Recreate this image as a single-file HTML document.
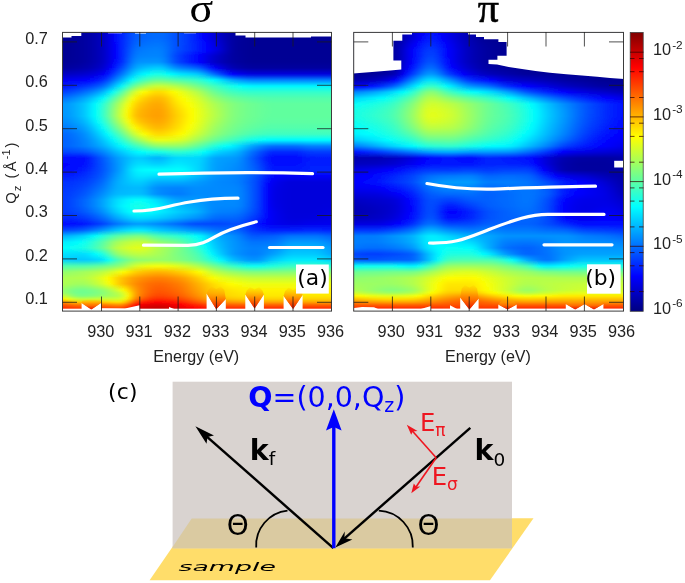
<!DOCTYPE html>
<html><head><meta charset="utf-8"><title>figure</title>
<style>
html,body{margin:0;padding:0;background:#fff;}
svg{display:block;}
.ax{font-family:"Liberation Sans",sans-serif;fill:#222;}
.dv{font-family:"DejaVu Sans",sans-serif;}
.sym{font-family:"Liberation Serif",serif;fill:#000;}
</style></head><body>
<svg width="685" height="583" viewBox="0 0 685 583">
<defs>
<linearGradient id="a0" x1="0" y1="0" x2="0" y2="1"><stop offset="0" stop-color="#000094"/><stop offset=".022" stop-color="#000094"/><stop offset=".043" stop-color="#000094"/><stop offset=".065" stop-color="#000094"/><stop offset=".086" stop-color="#000094"/><stop offset=".108" stop-color="#000095"/><stop offset=".129" stop-color="#0000a0"/><stop offset=".151" stop-color="#0000c3"/><stop offset=".172" stop-color="#0000f0"/><stop offset=".194" stop-color="#0015ff"/><stop offset=".215" stop-color="#003fff"/><stop offset=".237" stop-color="#0073ff"/><stop offset=".258" stop-color="#0095ff"/><stop offset=".28" stop-color="#0096ff"/><stop offset=".301" stop-color="#0095ff"/><stop offset=".323" stop-color="#008aff"/><stop offset=".344" stop-color="#007aff"/><stop offset=".366" stop-color="#0067ff"/><stop offset=".387" stop-color="#0062ff"/><stop offset=".409" stop-color="#0062ff"/><stop offset=".43" stop-color="#0045ff"/><stop offset=".452" stop-color="#000bff"/><stop offset=".473" stop-color="#0005ff"/><stop offset=".495" stop-color="#0007ff"/><stop offset=".516" stop-color="#001bff"/><stop offset=".538" stop-color="#002fff"/><stop offset=".559" stop-color="#0036ff"/><stop offset=".581" stop-color="#003aff"/><stop offset=".602" stop-color="#003bff"/><stop offset=".624" stop-color="#003bff"/><stop offset=".645" stop-color="#003aff"/><stop offset=".667" stop-color="#0028ff"/><stop offset=".688" stop-color="#0009ff"/><stop offset=".71" stop-color="#0046ff"/><stop offset=".731" stop-color="#00b2ff"/><stop offset=".753" stop-color="#00edff"/><stop offset=".774" stop-color="#03fffc"/><stop offset=".796" stop-color="#00e1ff"/><stop offset=".817" stop-color="#00d2ff"/><stop offset=".839" stop-color="#53ffac"/><stop offset=".86" stop-color="#92ff6d"/><stop offset=".882" stop-color="#adff52"/><stop offset=".903" stop-color="#afff50"/><stop offset=".925" stop-color="#94ff6b"/><stop offset=".935" stop-color="#9cff63"/><stop offset=".946" stop-color="#c6ff39"/><stop offset=".957" stop-color="#fff000"/><stop offset=".968" stop-color="#ff9800"/><stop offset=".978" stop-color="#ff5900"/><stop offset=".989" stop-color="#ff2f00"/><stop offset="1" stop-color="#ff1600"/></linearGradient>
<linearGradient id="a1" x1="0" y1="0" x2="0" y2="1"><stop offset="0" stop-color="#000095"/><stop offset=".022" stop-color="#000095"/><stop offset=".043" stop-color="#000095"/><stop offset=".065" stop-color="#000095"/><stop offset=".086" stop-color="#000095"/><stop offset=".108" stop-color="#000097"/><stop offset=".129" stop-color="#0000a1"/><stop offset=".151" stop-color="#0000c4"/><stop offset=".172" stop-color="#0000f1"/><stop offset=".194" stop-color="#001aff"/><stop offset=".215" stop-color="#0046ff"/><stop offset=".237" stop-color="#0079ff"/><stop offset=".258" stop-color="#009bff"/><stop offset=".28" stop-color="#009cff"/><stop offset=".301" stop-color="#009aff"/><stop offset=".323" stop-color="#008eff"/><stop offset=".344" stop-color="#007eff"/><stop offset=".366" stop-color="#006cff"/><stop offset=".387" stop-color="#06f"/><stop offset=".409" stop-color="#06f"/><stop offset=".43" stop-color="#0047ff"/><stop offset=".452" stop-color="#000bff"/><stop offset=".473" stop-color="#0006ff"/><stop offset=".495" stop-color="#0009ff"/><stop offset=".516" stop-color="#001dff"/><stop offset=".538" stop-color="#0031ff"/><stop offset=".559" stop-color="#0038ff"/><stop offset=".581" stop-color="#003dff"/><stop offset=".602" stop-color="#0042ff"/><stop offset=".624" stop-color="#0042ff"/><stop offset=".645" stop-color="#003eff"/><stop offset=".667" stop-color="#0029ff"/><stop offset=".688" stop-color="#000aff"/><stop offset=".71" stop-color="#0049ff"/><stop offset=".731" stop-color="#00b6ff"/><stop offset=".753" stop-color="#00f0ff"/><stop offset=".774" stop-color="#05fffa"/><stop offset=".796" stop-color="#00dfff"/><stop offset=".817" stop-color="#00ceff"/><stop offset=".839" stop-color="#52ffad"/><stop offset=".86" stop-color="#94ff6b"/><stop offset=".882" stop-color="#aeff51"/><stop offset=".903" stop-color="#a9ff56"/><stop offset=".925" stop-color="#87ff78"/><stop offset=".935" stop-color="#8bff74"/><stop offset=".946" stop-color="#acff53"/><stop offset=".957" stop-color="#f3ff0c"/><stop offset=".968" stop-color="#ffab00"/><stop offset=".978" stop-color="#ff6400"/><stop offset=".989" stop-color="#ff3500"/><stop offset="1" stop-color="#ff1900"/></linearGradient>
<linearGradient id="a2" x1="0" y1="0" x2="0" y2="1"><stop offset="0" stop-color="#000097"/><stop offset=".022" stop-color="#000097"/><stop offset=".043" stop-color="#000097"/><stop offset=".065" stop-color="#000097"/><stop offset=".086" stop-color="#000097"/><stop offset=".108" stop-color="#009"/><stop offset=".129" stop-color="#0000a3"/><stop offset=".151" stop-color="#0000c6"/><stop offset=".172" stop-color="#0000f3"/><stop offset=".194" stop-color="#001fff"/><stop offset=".215" stop-color="#004eff"/><stop offset=".237" stop-color="#0082ff"/><stop offset=".258" stop-color="#00a3ff"/><stop offset=".28" stop-color="#00a4ff"/><stop offset=".301" stop-color="#00a2ff"/><stop offset=".323" stop-color="#0095ff"/><stop offset=".344" stop-color="#0084ff"/><stop offset=".366" stop-color="#0072ff"/><stop offset=".387" stop-color="#006cff"/><stop offset=".409" stop-color="#006aff"/><stop offset=".43" stop-color="#0049ff"/><stop offset=".452" stop-color="#000bff"/><stop offset=".473" stop-color="#0007ff"/><stop offset=".495" stop-color="#000dff"/><stop offset=".516" stop-color="#0020ff"/><stop offset=".538" stop-color="#03f"/><stop offset=".559" stop-color="#003bff"/><stop offset=".581" stop-color="#0042ff"/><stop offset=".602" stop-color="#0049ff"/><stop offset=".624" stop-color="#004aff"/><stop offset=".645" stop-color="#0043ff"/><stop offset=".667" stop-color="#002cff"/><stop offset=".688" stop-color="#000cff"/><stop offset=".71" stop-color="#004dff"/><stop offset=".731" stop-color="#00bcff"/><stop offset=".753" stop-color="#00f5ff"/><stop offset=".774" stop-color="#09fff6"/><stop offset=".796" stop-color="#00deff"/><stop offset=".817" stop-color="#00cbff"/><stop offset=".839" stop-color="#52ffad"/><stop offset=".86" stop-color="#97ff68"/><stop offset=".882" stop-color="#afff50"/><stop offset=".903" stop-color="#a5ff5a"/><stop offset=".925" stop-color="#7dff82"/><stop offset=".935" stop-color="#7eff81"/><stop offset=".946" stop-color="#96ff69"/><stop offset=".957" stop-color="#dbff24"/><stop offset=".968" stop-color="#fb0"/><stop offset=".978" stop-color="#ff6e00"/><stop offset=".989" stop-color="#ff3a00"/><stop offset="1" stop-color="#ff1c00"/></linearGradient>
<linearGradient id="a3" x1="0" y1="0" x2="0" y2="1"><stop offset="0" stop-color="#00009a"/><stop offset=".022" stop-color="#00009a"/><stop offset=".043" stop-color="#00009a"/><stop offset=".065" stop-color="#00009a"/><stop offset=".086" stop-color="#00009a"/><stop offset=".108" stop-color="#00009b"/><stop offset=".129" stop-color="#0000a6"/><stop offset=".151" stop-color="#0000c9"/><stop offset=".172" stop-color="#0000f5"/><stop offset=".194" stop-color="#0025ff"/><stop offset=".215" stop-color="#0057ff"/><stop offset=".237" stop-color="#008cff"/><stop offset=".258" stop-color="#00adff"/><stop offset=".28" stop-color="#00aeff"/><stop offset=".301" stop-color="#00acff"/><stop offset=".323" stop-color="#009eff"/><stop offset=".344" stop-color="#008cff"/><stop offset=".366" stop-color="#007aff"/><stop offset=".387" stop-color="#0072ff"/><stop offset=".409" stop-color="#0070ff"/><stop offset=".43" stop-color="#004cff"/><stop offset=".452" stop-color="#000bff"/><stop offset=".473" stop-color="#0009ff"/><stop offset=".495" stop-color="#0012ff"/><stop offset=".516" stop-color="#0024ff"/><stop offset=".538" stop-color="#0036ff"/><stop offset=".559" stop-color="#003fff"/><stop offset=".581" stop-color="#0048ff"/><stop offset=".602" stop-color="#0052ff"/><stop offset=".624" stop-color="#0052ff"/><stop offset=".645" stop-color="#0049ff"/><stop offset=".667" stop-color="#002fff"/><stop offset=".688" stop-color="#000fff"/><stop offset=".71" stop-color="#0051ff"/><stop offset=".731" stop-color="#00c3ff"/><stop offset=".753" stop-color="#00fbff"/><stop offset=".774" stop-color="#0efff1"/><stop offset=".796" stop-color="#0df"/><stop offset=".817" stop-color="#00c9ff"/><stop offset=".839" stop-color="#52ffad"/><stop offset=".86" stop-color="#9aff65"/><stop offset=".882" stop-color="#b1ff4e"/><stop offset=".903" stop-color="#a2ff5d"/><stop offset=".925" stop-color="#76ff89"/><stop offset=".935" stop-color="#74ff8b"/><stop offset=".946" stop-color="#87ff78"/><stop offset=".957" stop-color="#caff35"/><stop offset=".968" stop-color="#ffc700"/><stop offset=".978" stop-color="#ff7500"/><stop offset=".989" stop-color="#ff3e00"/><stop offset="1" stop-color="#ff1e00"/></linearGradient>
<linearGradient id="a4" x1="0" y1="0" x2="0" y2="1"><stop offset="0" stop-color="#00009d"/><stop offset=".022" stop-color="#00009d"/><stop offset=".043" stop-color="#00009d"/><stop offset=".065" stop-color="#00009d"/><stop offset=".086" stop-color="#00009d"/><stop offset=".108" stop-color="#00009e"/><stop offset=".129" stop-color="#0000a9"/><stop offset=".151" stop-color="#00c"/><stop offset=".172" stop-color="#0000f8"/><stop offset=".194" stop-color="#002bff"/><stop offset=".215" stop-color="#0060ff"/><stop offset=".237" stop-color="#0097ff"/><stop offset=".258" stop-color="#00b8ff"/><stop offset=".28" stop-color="#00b9ff"/><stop offset=".301" stop-color="#00b8ff"/><stop offset=".323" stop-color="#00a8ff"/><stop offset=".344" stop-color="#0095ff"/><stop offset=".366" stop-color="#0083ff"/><stop offset=".387" stop-color="#007aff"/><stop offset=".409" stop-color="#0076ff"/><stop offset=".43" stop-color="#004eff"/><stop offset=".452" stop-color="#000cff"/><stop offset=".473" stop-color="#000bff"/><stop offset=".495" stop-color="#0018ff"/><stop offset=".516" stop-color="#0029ff"/><stop offset=".538" stop-color="#0039ff"/><stop offset=".559" stop-color="#04f"/><stop offset=".581" stop-color="#004fff"/><stop offset=".602" stop-color="#005bff"/><stop offset=".624" stop-color="#005bff"/><stop offset=".645" stop-color="#0050ff"/><stop offset=".667" stop-color="#0034ff"/><stop offset=".688" stop-color="#0013ff"/><stop offset=".71" stop-color="#0057ff"/><stop offset=".731" stop-color="#00cbff"/><stop offset=".753" stop-color="#03fffc"/><stop offset=".774" stop-color="#13ffec"/><stop offset=".796" stop-color="#0df"/><stop offset=".817" stop-color="#00c8ff"/><stop offset=".839" stop-color="#52ffad"/><stop offset=".86" stop-color="#9eff61"/><stop offset=".882" stop-color="#b2ff4d"/><stop offset=".903" stop-color="#a1ff5e"/><stop offset=".925" stop-color="#73ff8c"/><stop offset=".935" stop-color="#70ff8f"/><stop offset=".946" stop-color="#7fff80"/><stop offset=".957" stop-color="#c1ff3e"/><stop offset=".968" stop-color="#ffcd00"/><stop offset=".978" stop-color="#ff7900"/><stop offset=".989" stop-color="#ff4000"/><stop offset="1" stop-color="#ff2000"/></linearGradient>
<linearGradient id="a5" x1="0" y1="0" x2="0" y2="1"><stop offset="0" stop-color="#0000a1"/><stop offset=".022" stop-color="#0000a1"/><stop offset=".043" stop-color="#0000a1"/><stop offset=".065" stop-color="#0000a1"/><stop offset=".086" stop-color="#0000a1"/><stop offset=".108" stop-color="#0000a2"/><stop offset=".129" stop-color="#0000ad"/><stop offset=".151" stop-color="#0000cf"/><stop offset=".172" stop-color="#0000fc"/><stop offset=".194" stop-color="#0032ff"/><stop offset=".215" stop-color="#006bff"/><stop offset=".237" stop-color="#00a3ff"/><stop offset=".258" stop-color="#00c4ff"/><stop offset=".28" stop-color="#00c6ff"/><stop offset=".301" stop-color="#00c5ff"/><stop offset=".323" stop-color="#00b4ff"/><stop offset=".344" stop-color="#00a0ff"/><stop offset=".366" stop-color="#008dff"/><stop offset=".387" stop-color="#0083ff"/><stop offset=".409" stop-color="#007cff"/><stop offset=".43" stop-color="#0053ff"/><stop offset=".452" stop-color="#000fff"/><stop offset=".473" stop-color="#000fff"/><stop offset=".495" stop-color="#001eff"/><stop offset=".516" stop-color="#002eff"/><stop offset=".538" stop-color="#003dff"/><stop offset=".559" stop-color="#004aff"/><stop offset=".581" stop-color="#0056ff"/><stop offset=".602" stop-color="#0065ff"/><stop offset=".624" stop-color="#0065ff"/><stop offset=".645" stop-color="#0057ff"/><stop offset=".667" stop-color="#0039ff"/><stop offset=".688" stop-color="#0017ff"/><stop offset=".71" stop-color="#005eff"/><stop offset=".731" stop-color="#00d5ff"/><stop offset=".753" stop-color="#0cfff3"/><stop offset=".774" stop-color="#1bffe4"/><stop offset=".796" stop-color="#00deff"/><stop offset=".817" stop-color="#00c8ff"/><stop offset=".839" stop-color="#52ffad"/><stop offset=".86" stop-color="#a2ff5d"/><stop offset=".882" stop-color="#b5ff4a"/><stop offset=".903" stop-color="#a2ff5d"/><stop offset=".925" stop-color="#73ff8c"/><stop offset=".935" stop-color="#70ff8f"/><stop offset=".946" stop-color="#7fff80"/><stop offset=".957" stop-color="#c0ff3f"/><stop offset=".968" stop-color="#ffce00"/><stop offset=".978" stop-color="#ff7900"/><stop offset=".989" stop-color="#ff4100"/><stop offset="1" stop-color="#ff2000"/></linearGradient>
<linearGradient id="a6" x1="0" y1="0" x2="0" y2="1"><stop offset="0" stop-color="#0000a5"/><stop offset=".022" stop-color="#0000a5"/><stop offset=".043" stop-color="#0000a5"/><stop offset=".065" stop-color="#0000a5"/><stop offset=".086" stop-color="#0000a5"/><stop offset=".108" stop-color="#0000a7"/><stop offset=".129" stop-color="#0000b1"/><stop offset=".151" stop-color="#0000d4"/><stop offset=".172" stop-color="#0002ff"/><stop offset=".194" stop-color="#003aff"/><stop offset=".215" stop-color="#07f"/><stop offset=".237" stop-color="#00b1ff"/><stop offset=".258" stop-color="#00d4ff"/><stop offset=".28" stop-color="#00d8ff"/><stop offset=".301" stop-color="#00d7ff"/><stop offset=".323" stop-color="#00c5ff"/><stop offset=".344" stop-color="#00afff"/><stop offset=".366" stop-color="#009bff"/><stop offset=".387" stop-color="#008eff"/><stop offset=".409" stop-color="#0085ff"/><stop offset=".43" stop-color="#005aff"/><stop offset=".452" stop-color="#0019ff"/><stop offset=".473" stop-color="#001aff"/><stop offset=".495" stop-color="#0027ff"/><stop offset=".516" stop-color="#0035ff"/><stop offset=".538" stop-color="#04f"/><stop offset=".559" stop-color="#0052ff"/><stop offset=".581" stop-color="#0060ff"/><stop offset=".602" stop-color="#0070ff"/><stop offset=".624" stop-color="#0071ff"/><stop offset=".645" stop-color="#0061ff"/><stop offset=".667" stop-color="#0041ff"/><stop offset=".688" stop-color="#001eff"/><stop offset=".71" stop-color="#0068ff"/><stop offset=".731" stop-color="#00e3ff"/><stop offset=".753" stop-color="#18ffe7"/><stop offset=".774" stop-color="#26ffd9"/><stop offset=".796" stop-color="#00e5ff"/><stop offset=".817" stop-color="#00cbff"/><stop offset=".839" stop-color="#5fa"/><stop offset=".86" stop-color="#a6ff59"/><stop offset=".882" stop-color="#bcff43"/><stop offset=".903" stop-color="#a9ff56"/><stop offset=".925" stop-color="#76ff89"/><stop offset=".935" stop-color="#72ff8d"/><stop offset=".946" stop-color="#82ff7d"/><stop offset=".957" stop-color="#c2ff3d"/><stop offset=".968" stop-color="#ffcd00"/><stop offset=".978" stop-color="#ff7900"/><stop offset=".989" stop-color="#ff4100"/><stop offset="1" stop-color="#ff2000"/></linearGradient>
<linearGradient id="a7" x1="0" y1="0" x2="0" y2="1"><stop offset="0" stop-color="#0000ab"/><stop offset=".022" stop-color="#0000ab"/><stop offset=".043" stop-color="#0000ab"/><stop offset=".065" stop-color="#0000ab"/><stop offset=".086" stop-color="#0000ab"/><stop offset=".108" stop-color="#0000ad"/><stop offset=".129" stop-color="#0000b7"/><stop offset=".151" stop-color="#0000da"/><stop offset=".172" stop-color="#000aff"/><stop offset=".194" stop-color="#04f"/><stop offset=".215" stop-color="#0084ff"/><stop offset=".237" stop-color="#00c2ff"/><stop offset=".258" stop-color="#00e7ff"/><stop offset=".28" stop-color="#00ecff"/><stop offset=".301" stop-color="#00ecff"/><stop offset=".323" stop-color="#00d9ff"/><stop offset=".344" stop-color="#00c2ff"/><stop offset=".366" stop-color="#00acff"/><stop offset=".387" stop-color="#009bff"/><stop offset=".409" stop-color="#008fff"/><stop offset=".43" stop-color="#0064ff"/><stop offset=".452" stop-color="#002aff"/><stop offset=".473" stop-color="#0028ff"/><stop offset=".495" stop-color="#0032ff"/><stop offset=".516" stop-color="#003eff"/><stop offset=".538" stop-color="#004dff"/><stop offset=".559" stop-color="#005cff"/><stop offset=".581" stop-color="#006cff"/><stop offset=".602" stop-color="#007dff"/><stop offset=".624" stop-color="#007dff"/><stop offset=".645" stop-color="#006cff"/><stop offset=".667" stop-color="#004bff"/><stop offset=".688" stop-color="#0027ff"/><stop offset=".71" stop-color="#0074ff"/><stop offset=".731" stop-color="#00f2ff"/><stop offset=".753" stop-color="#28ffd7"/><stop offset=".774" stop-color="#36ffc9"/><stop offset=".796" stop-color="#00f1ff"/><stop offset=".817" stop-color="#00cfff"/><stop offset=".839" stop-color="#59ffa6"/><stop offset=".86" stop-color="#af5"/><stop offset=".882" stop-color="#c6ff39"/><stop offset=".903" stop-color="#b3ff4c"/><stop offset=".925" stop-color="#7bff84"/><stop offset=".935" stop-color="#7f8"/><stop offset=".946" stop-color="#86ff79"/><stop offset=".957" stop-color="#c5ff3a"/><stop offset=".968" stop-color="#ffcd00"/><stop offset=".978" stop-color="#ff7900"/><stop offset=".989" stop-color="#ff4100"/><stop offset="1" stop-color="#ff2000"/></linearGradient>
<linearGradient id="a8" x1="0" y1="0" x2="0" y2="1"><stop offset="0" stop-color="#0000b3"/><stop offset=".022" stop-color="#0000b3"/><stop offset=".043" stop-color="#0000b3"/><stop offset=".065" stop-color="#0000b3"/><stop offset=".086" stop-color="#0000b3"/><stop offset=".108" stop-color="#0000b4"/><stop offset=".129" stop-color="#0000bf"/><stop offset=".151" stop-color="#0000e1"/><stop offset=".172" stop-color="#0013ff"/><stop offset=".194" stop-color="#004fff"/><stop offset=".215" stop-color="#0094ff"/><stop offset=".237" stop-color="#00d4ff"/><stop offset=".258" stop-color="#00fdff"/><stop offset=".28" stop-color="#05fffa"/><stop offset=".301" stop-color="#05fffa"/><stop offset=".323" stop-color="#00f0ff"/><stop offset=".344" stop-color="#00d7ff"/><stop offset=".366" stop-color="#00beff"/><stop offset=".387" stop-color="#0af"/><stop offset=".409" stop-color="#09f"/><stop offset=".43" stop-color="#0070ff"/><stop offset=".452" stop-color="#003cff"/><stop offset=".473" stop-color="#0039ff"/><stop offset=".495" stop-color="#003eff"/><stop offset=".516" stop-color="#0048ff"/><stop offset=".538" stop-color="#0057ff"/><stop offset=".559" stop-color="#0067ff"/><stop offset=".581" stop-color="#0078ff"/><stop offset=".602" stop-color="#008aff"/><stop offset=".624" stop-color="#008aff"/><stop offset=".645" stop-color="#0078ff"/><stop offset=".667" stop-color="#0056ff"/><stop offset=".688" stop-color="#0031ff"/><stop offset=".71" stop-color="#0080ff"/><stop offset=".731" stop-color="#04fffb"/><stop offset=".753" stop-color="#39ffc6"/><stop offset=".774" stop-color="#47ffb8"/><stop offset=".796" stop-color="#0ff"/><stop offset=".817" stop-color="#00d5ff"/><stop offset=".839" stop-color="#5effa1"/><stop offset=".86" stop-color="#afff50"/><stop offset=".882" stop-color="#d1ff2e"/><stop offset=".903" stop-color="#bfff40"/><stop offset=".925" stop-color="#82ff7d"/><stop offset=".935" stop-color="#7cff83"/><stop offset=".946" stop-color="#8bff74"/><stop offset=".957" stop-color="#c9ff36"/><stop offset=".968" stop-color="#fc0"/><stop offset=".978" stop-color="#ff7900"/><stop offset=".989" stop-color="#ff4100"/><stop offset="1" stop-color="#ff2000"/></linearGradient>
<linearGradient id="a9" x1="0" y1="0" x2="0" y2="1"><stop offset="0" stop-color="#0000bc"/><stop offset=".022" stop-color="#0000bc"/><stop offset=".043" stop-color="#00b"/><stop offset=".065" stop-color="#00b"/><stop offset=".086" stop-color="#00b"/><stop offset=".108" stop-color="#0000bd"/><stop offset=".129" stop-color="#0000c8"/><stop offset=".151" stop-color="#0000ea"/><stop offset=".172" stop-color="#001eff"/><stop offset=".194" stop-color="#005dff"/><stop offset=".215" stop-color="#00a5ff"/><stop offset=".237" stop-color="#00e9ff"/><stop offset=".258" stop-color="#15ffea"/><stop offset=".28" stop-color="#1effe1"/><stop offset=".301" stop-color="#1effe1"/><stop offset=".323" stop-color="#0afff5"/><stop offset=".344" stop-color="#0ef"/><stop offset=".366" stop-color="#00d2ff"/><stop offset=".387" stop-color="#00baff"/><stop offset=".409" stop-color="#00a5ff"/><stop offset=".43" stop-color="#007cff"/><stop offset=".452" stop-color="#004eff"/><stop offset=".473" stop-color="#004aff"/><stop offset=".495" stop-color="#004bff"/><stop offset=".516" stop-color="#0053ff"/><stop offset=".538" stop-color="#0062ff"/><stop offset=".559" stop-color="#0072ff"/><stop offset=".581" stop-color="#0084ff"/><stop offset=".602" stop-color="#0098ff"/><stop offset=".624" stop-color="#0098ff"/><stop offset=".645" stop-color="#0085ff"/><stop offset=".667" stop-color="#0062ff"/><stop offset=".688" stop-color="#003bff"/><stop offset=".71" stop-color="#008dff"/><stop offset=".731" stop-color="#14ffeb"/><stop offset=".753" stop-color="#4bffb4"/><stop offset=".774" stop-color="#59ffa6"/><stop offset=".796" stop-color="#0ffff0"/><stop offset=".817" stop-color="#00dbff"/><stop offset=".839" stop-color="#64ff9b"/><stop offset=".86" stop-color="#b6ff49"/><stop offset=".882" stop-color="#deff21"/><stop offset=".903" stop-color="#cf3"/><stop offset=".925" stop-color="#8aff75"/><stop offset=".935" stop-color="#83ff7c"/><stop offset=".946" stop-color="#91ff6e"/><stop offset=".957" stop-color="#cf3"/><stop offset=".968" stop-color="#fc0"/><stop offset=".978" stop-color="#ff7a00"/><stop offset=".989" stop-color="#ff4100"/><stop offset="1" stop-color="#ff2000"/></linearGradient>
<linearGradient id="a10" x1="0" y1="0" x2="0" y2="1"><stop offset="0" stop-color="#0000c8"/><stop offset=".022" stop-color="#0000c8"/><stop offset=".043" stop-color="#0000c8"/><stop offset=".065" stop-color="#0000c8"/><stop offset=".086" stop-color="#0000c8"/><stop offset=".108" stop-color="#0000c9"/><stop offset=".129" stop-color="#0000d5"/><stop offset=".151" stop-color="#0000f8"/><stop offset=".172" stop-color="#002eff"/><stop offset=".194" stop-color="#0070ff"/><stop offset=".215" stop-color="#00bcff"/><stop offset=".237" stop-color="#03fffc"/><stop offset=".258" stop-color="#2fffd0"/><stop offset=".28" stop-color="#3affc5"/><stop offset=".301" stop-color="#3bffc4"/><stop offset=".323" stop-color="#26ffd9"/><stop offset=".344" stop-color="#08fff7"/><stop offset=".366" stop-color="#00e7ff"/><stop offset=".387" stop-color="#00cbff"/><stop offset=".409" stop-color="#00b2ff"/><stop offset=".43" stop-color="#0089ff"/><stop offset=".452" stop-color="#005fff"/><stop offset=".473" stop-color="#0059ff"/><stop offset=".495" stop-color="#0059ff"/><stop offset=".516" stop-color="#0061ff"/><stop offset=".538" stop-color="#0070ff"/><stop offset=".559" stop-color="#007fff"/><stop offset=".581" stop-color="#0091ff"/><stop offset=".602" stop-color="#00a7ff"/><stop offset=".624" stop-color="#00a8ff"/><stop offset=".645" stop-color="#0094ff"/><stop offset=".667" stop-color="#006fff"/><stop offset=".688" stop-color="#0047ff"/><stop offset=".71" stop-color="#009aff"/><stop offset=".731" stop-color="#23ffdc"/><stop offset=".753" stop-color="#5dffa2"/><stop offset=".774" stop-color="#6dff92"/><stop offset=".796" stop-color="#25ffda"/><stop offset=".817" stop-color="#00e9ff"/><stop offset=".839" stop-color="#6bff94"/><stop offset=".86" stop-color="#beff41"/><stop offset=".882" stop-color="#ecff13"/><stop offset=".903" stop-color="#df2"/><stop offset=".925" stop-color="#94ff6b"/><stop offset=".935" stop-color="#8bff74"/><stop offset=".946" stop-color="#97ff68"/><stop offset=".957" stop-color="#cdff32"/><stop offset=".968" stop-color="#ffce00"/><stop offset=".978" stop-color="#ff7c00"/><stop offset=".989" stop-color="#ff4200"/><stop offset="1" stop-color="#ff2000"/></linearGradient>
<linearGradient id="a11" x1="0" y1="0" x2="0" y2="1"><stop offset="0" stop-color="#0000da"/><stop offset=".022" stop-color="#0000da"/><stop offset=".043" stop-color="#0000da"/><stop offset=".065" stop-color="#0000d9"/><stop offset=".086" stop-color="#0000d9"/><stop offset=".108" stop-color="#0000db"/><stop offset=".129" stop-color="#0000ea"/><stop offset=".151" stop-color="#01f"/><stop offset=".172" stop-color="#0046ff"/><stop offset=".194" stop-color="#008aff"/><stop offset=".215" stop-color="#00d9ff"/><stop offset=".237" stop-color="#21ffde"/><stop offset=".258" stop-color="#4fffb0"/><stop offset=".28" stop-color="#5bffa4"/><stop offset=".301" stop-color="#5dffa2"/><stop offset=".323" stop-color="#46ffb9"/><stop offset=".344" stop-color="#26ffd9"/><stop offset=".366" stop-color="#0ff"/><stop offset=".387" stop-color="#00deff"/><stop offset=".409" stop-color="#00c1ff"/><stop offset=".43" stop-color="#0098ff"/><stop offset=".452" stop-color="#0071ff"/><stop offset=".473" stop-color="#006aff"/><stop offset=".495" stop-color="#0069ff"/><stop offset=".516" stop-color="#0073ff"/><stop offset=".538" stop-color="#0082ff"/><stop offset=".559" stop-color="#008eff"/><stop offset=".581" stop-color="#009fff"/><stop offset=".602" stop-color="#00b8ff"/><stop offset=".624" stop-color="#00baff"/><stop offset=".645" stop-color="#00a6ff"/><stop offset=".667" stop-color="#007fff"/><stop offset=".688" stop-color="#05f"/><stop offset=".71" stop-color="#00a8ff"/><stop offset=".731" stop-color="#34ffcb"/><stop offset=".753" stop-color="#73ff8c"/><stop offset=".774" stop-color="#86ff79"/><stop offset=".796" stop-color="#45ffba"/><stop offset=".817" stop-color="#02fffd"/><stop offset=".839" stop-color="#72ff8d"/><stop offset=".86" stop-color="#caff35"/><stop offset=".882" stop-color="#feff01"/><stop offset=".903" stop-color="#f2ff0d"/><stop offset=".925" stop-color="#a4ff5b"/><stop offset=".935" stop-color="#97ff68"/><stop offset=".946" stop-color="#9eff61"/><stop offset=".957" stop-color="#cdff32"/><stop offset=".968" stop-color="#ffd400"/><stop offset=".978" stop-color="#ff8200"/><stop offset=".989" stop-color="#ff4500"/><stop offset="1" stop-color="#ff2100"/></linearGradient>
<linearGradient id="a12" x1="0" y1="0" x2="0" y2="1"><stop offset="0" stop-color="#0000f0"/><stop offset=".022" stop-color="#0000f0"/><stop offset=".043" stop-color="#0000ef"/><stop offset=".065" stop-color="#00e"/><stop offset=".086" stop-color="#0000ed"/><stop offset=".108" stop-color="#0000f0"/><stop offset=".129" stop-color="#0005ff"/><stop offset=".151" stop-color="#002dff"/><stop offset=".172" stop-color="#0063ff"/><stop offset=".194" stop-color="#0af"/><stop offset=".215" stop-color="#00fbff"/><stop offset=".237" stop-color="#43ffbc"/><stop offset=".258" stop-color="#70ff8f"/><stop offset=".28" stop-color="#7eff81"/><stop offset=".301" stop-color="#81ff7e"/><stop offset=".323" stop-color="#69ff96"/><stop offset=".344" stop-color="#46ffb9"/><stop offset=".366" stop-color="#1bffe4"/><stop offset=".387" stop-color="#00f3ff"/><stop offset=".409" stop-color="#00d2ff"/><stop offset=".43" stop-color="#00a8ff"/><stop offset=".452" stop-color="#0083ff"/><stop offset=".473" stop-color="#007cff"/><stop offset=".495" stop-color="#007bff"/><stop offset=".516" stop-color="#0086ff"/><stop offset=".538" stop-color="#0095ff"/><stop offset=".559" stop-color="#009eff"/><stop offset=".581" stop-color="#00acff"/><stop offset=".602" stop-color="#00c9ff"/><stop offset=".624" stop-color="#00cdff"/><stop offset=".645" stop-color="#00b9ff"/><stop offset=".667" stop-color="#0090ff"/><stop offset=".688" stop-color="#0063ff"/><stop offset=".71" stop-color="#00b6ff"/><stop offset=".731" stop-color="#4fb"/><stop offset=".753" stop-color="#89ff76"/><stop offset=".774" stop-color="#a0ff5f"/><stop offset=".796" stop-color="#68ff97"/><stop offset=".817" stop-color="#20ffdf"/><stop offset=".839" stop-color="#7bff84"/><stop offset=".86" stop-color="#d7ff28"/><stop offset=".882" stop-color="#ffec00"/><stop offset=".903" stop-color="#fff300"/><stop offset=".925" stop-color="#b8ff47"/><stop offset=".935" stop-color="#a5ff5a"/><stop offset=".946" stop-color="#a5ff5a"/><stop offset=".957" stop-color="#cf3"/><stop offset=".968" stop-color="#ffdc00"/><stop offset=".978" stop-color="#ff8900"/><stop offset=".989" stop-color="#ff4900"/><stop offset="1" stop-color="#ff2100"/></linearGradient>
<linearGradient id="a13" x1="0" y1="0" x2="0" y2="1"><stop offset="0" stop-color="#0007ff"/><stop offset=".022" stop-color="#0007ff"/><stop offset=".043" stop-color="#0006ff"/><stop offset=".065" stop-color="#0005ff"/><stop offset=".086" stop-color="#0004ff"/><stop offset=".108" stop-color="#0008ff"/><stop offset=".129" stop-color="#0021ff"/><stop offset=".151" stop-color="#004cff"/><stop offset=".172" stop-color="#0083ff"/><stop offset=".194" stop-color="#00cbff"/><stop offset=".215" stop-color="#1fffe0"/><stop offset=".237" stop-color="#65ff9a"/><stop offset=".258" stop-color="#92ff6d"/><stop offset=".28" stop-color="#a2ff5d"/><stop offset=".301" stop-color="#a5ff5a"/><stop offset=".323" stop-color="#8cff73"/><stop offset=".344" stop-color="#67ff98"/><stop offset=".366" stop-color="#37ffc8"/><stop offset=".387" stop-color="#0bfff4"/><stop offset=".409" stop-color="#00e3ff"/><stop offset=".43" stop-color="#00b8ff"/><stop offset=".452" stop-color="#0094ff"/><stop offset=".473" stop-color="#008eff"/><stop offset=".495" stop-color="#008dff"/><stop offset=".516" stop-color="#09f"/><stop offset=".538" stop-color="#00a6ff"/><stop offset=".559" stop-color="#00abff"/><stop offset=".581" stop-color="#00b6ff"/><stop offset=".602" stop-color="#00d8ff"/><stop offset=".624" stop-color="#00deff"/><stop offset=".645" stop-color="#00caff"/><stop offset=".667" stop-color="#00a1ff"/><stop offset=".688" stop-color="#0071ff"/><stop offset=".71" stop-color="#00c3ff"/><stop offset=".731" stop-color="#53ffac"/><stop offset=".753" stop-color="#9cff63"/><stop offset=".774" stop-color="#b6ff49"/><stop offset=".796" stop-color="#87ff78"/><stop offset=".817" stop-color="#3dffc2"/><stop offset=".839" stop-color="#85ff7a"/><stop offset=".86" stop-color="#e5ff1a"/><stop offset=".882" stop-color="#ffd900"/><stop offset=".903" stop-color="#ffdc00"/><stop offset=".925" stop-color="#ceff31"/><stop offset=".935" stop-color="#b3ff4c"/><stop offset=".946" stop-color="#adff52"/><stop offset=".957" stop-color="#cdff32"/><stop offset=".968" stop-color="#ffe200"/><stop offset=".978" stop-color="#ff8f00"/><stop offset=".989" stop-color="#ff4c00"/><stop offset="1" stop-color="#f20"/></linearGradient>
<linearGradient id="a14" x1="0" y1="0" x2="0" y2="1"><stop offset="0" stop-color="#001aff"/><stop offset=".022" stop-color="#001aff"/><stop offset=".043" stop-color="#001aff"/><stop offset=".065" stop-color="#001aff"/><stop offset=".086" stop-color="#001aff"/><stop offset=".108" stop-color="#001fff"/><stop offset=".129" stop-color="#003bff"/><stop offset=".151" stop-color="#0068ff"/><stop offset=".172" stop-color="#00a0ff"/><stop offset=".194" stop-color="#00ecff"/><stop offset=".215" stop-color="#42ffbd"/><stop offset=".237" stop-color="#86ff79"/><stop offset=".258" stop-color="#b2ff4d"/><stop offset=".28" stop-color="#c2ff3d"/><stop offset=".301" stop-color="#c6ff39"/><stop offset=".323" stop-color="#adff52"/><stop offset=".344" stop-color="#86ff79"/><stop offset=".366" stop-color="#53ffac"/><stop offset=".387" stop-color="#2fd"/><stop offset=".409" stop-color="#00f4ff"/><stop offset=".43" stop-color="#00c5ff"/><stop offset=".452" stop-color="#00a1ff"/><stop offset=".473" stop-color="#009eff"/><stop offset=".495" stop-color="#009fff"/><stop offset=".516" stop-color="#0af"/><stop offset=".538" stop-color="#00b2ff"/><stop offset=".559" stop-color="#00b2ff"/><stop offset=".581" stop-color="#00baff"/><stop offset=".602" stop-color="#00e3ff"/><stop offset=".624" stop-color="#00ecff"/><stop offset=".645" stop-color="#00d9ff"/><stop offset=".667" stop-color="#00aeff"/><stop offset=".688" stop-color="#007bff"/><stop offset=".71" stop-color="#00cdff"/><stop offset=".731" stop-color="#5effa1"/><stop offset=".753" stop-color="#a9ff56"/><stop offset=".774" stop-color="#c4ff3b"/><stop offset=".796" stop-color="#9bff64"/><stop offset=".817" stop-color="#53ffac"/><stop offset=".839" stop-color="#90ff6f"/><stop offset=".86" stop-color="#f3ff0c"/><stop offset=".882" stop-color="#ffc900"/><stop offset=".903" stop-color="#ffc800"/><stop offset=".925" stop-color="#e6ff19"/><stop offset=".935" stop-color="#c5ff3a"/><stop offset=".946" stop-color="#b9ff46"/><stop offset=".957" stop-color="#d4ff2b"/><stop offset=".968" stop-color="#ffe300"/><stop offset=".978" stop-color="#ff9100"/><stop offset=".989" stop-color="#ff4c00"/><stop offset="1" stop-color="#f20"/></linearGradient>
<linearGradient id="a15" x1="0" y1="0" x2="0" y2="1"><stop offset="0" stop-color="#002cff"/><stop offset=".022" stop-color="#002cff"/><stop offset=".043" stop-color="#002eff"/><stop offset=".065" stop-color="#0030ff"/><stop offset=".086" stop-color="#0032ff"/><stop offset=".108" stop-color="#0039ff"/><stop offset=".129" stop-color="#0056ff"/><stop offset=".151" stop-color="#0084ff"/><stop offset=".172" stop-color="#00bfff"/><stop offset=".194" stop-color="#10ffef"/><stop offset=".215" stop-color="#67ff98"/><stop offset=".237" stop-color="#a9ff56"/><stop offset=".258" stop-color="#d2ff2d"/><stop offset=".28" stop-color="#e3ff1c"/><stop offset=".301" stop-color="#e7ff18"/><stop offset=".323" stop-color="#ceff31"/><stop offset=".344" stop-color="#a7ff58"/><stop offset=".366" stop-color="#72ff8d"/><stop offset=".387" stop-color="#3bffc4"/><stop offset=".409" stop-color="#06fff9"/><stop offset=".43" stop-color="#00d2ff"/><stop offset=".452" stop-color="#00adff"/><stop offset=".473" stop-color="#00aeff"/><stop offset=".495" stop-color="#00b4ff"/><stop offset=".516" stop-color="#00b9ff"/><stop offset=".538" stop-color="#0bf"/><stop offset=".559" stop-color="#00b5ff"/><stop offset=".581" stop-color="#0bf"/><stop offset=".602" stop-color="#00ecff"/><stop offset=".624" stop-color="#00f8ff"/><stop offset=".645" stop-color="#00e7ff"/><stop offset=".667" stop-color="#0bf"/><stop offset=".688" stop-color="#0085ff"/><stop offset=".71" stop-color="#00d6ff"/><stop offset=".731" stop-color="#67ff98"/><stop offset=".753" stop-color="#b3ff4c"/><stop offset=".774" stop-color="#ceff31"/><stop offset=".796" stop-color="#a7ff58"/><stop offset=".817" stop-color="#63ff9c"/><stop offset=".839" stop-color="#9fff60"/><stop offset=".86" stop-color="#fffc00"/><stop offset=".882" stop-color="#fb0"/><stop offset=".903" stop-color="#ffb700"/><stop offset=".925" stop-color="#fffc00"/><stop offset=".935" stop-color="#e2ff1d"/><stop offset=".946" stop-color="#d5ff2a"/><stop offset=".957" stop-color="#ecff13"/><stop offset=".968" stop-color="#ffcf00"/><stop offset=".978" stop-color="#ff8000"/><stop offset=".989" stop-color="#ff4000"/><stop offset="1" stop-color="#ff1900"/></linearGradient>
<linearGradient id="a16" x1="0" y1="0" x2="0" y2="1"><stop offset="0" stop-color="#003eff"/><stop offset=".022" stop-color="#003eff"/><stop offset=".043" stop-color="#0042ff"/><stop offset=".065" stop-color="#0048ff"/><stop offset=".086" stop-color="#004eff"/><stop offset=".108" stop-color="#0058ff"/><stop offset=".129" stop-color="#0074ff"/><stop offset=".151" stop-color="#00a2ff"/><stop offset=".172" stop-color="#00dfff"/><stop offset=".194" stop-color="#35ffca"/><stop offset=".215" stop-color="#91ff6e"/><stop offset=".237" stop-color="#ceff31"/><stop offset=".258" stop-color="#f3ff0c"/><stop offset=".28" stop-color="#fffa00"/><stop offset=".301" stop-color="#fff600"/><stop offset=".323" stop-color="#f1ff0e"/><stop offset=".344" stop-color="#caff35"/><stop offset=".366" stop-color="#94ff6b"/><stop offset=".387" stop-color="#57ffa8"/><stop offset=".409" stop-color="#18ffe7"/><stop offset=".43" stop-color="#00dfff"/><stop offset=".452" stop-color="#00b8ff"/><stop offset=".473" stop-color="#00bfff"/><stop offset=".495" stop-color="#00cbff"/><stop offset=".516" stop-color="#00c9ff"/><stop offset=".538" stop-color="#00c3ff"/><stop offset=".559" stop-color="#00b7ff"/><stop offset=".581" stop-color="#00bdff"/><stop offset=".602" stop-color="#00f5ff"/><stop offset=".624" stop-color="#05fffa"/><stop offset=".645" stop-color="#00f4ff"/><stop offset=".667" stop-color="#00c8ff"/><stop offset=".688" stop-color="#008dff"/><stop offset=".71" stop-color="#00deff"/><stop offset=".731" stop-color="#6fff90"/><stop offset=".753" stop-color="#bf4"/><stop offset=".774" stop-color="#d7ff28"/><stop offset=".796" stop-color="#b1ff4e"/><stop offset=".817" stop-color="#73ff8c"/><stop offset=".839" stop-color="#b3ff4c"/><stop offset=".86" stop-color="#ffed00"/><stop offset=".882" stop-color="#ffae00"/><stop offset=".903" stop-color="#ffa700"/><stop offset=".925" stop-color="#ffd900"/><stop offset=".935" stop-color="#fff200"/><stop offset=".946" stop-color="#fffb00"/><stop offset=".957" stop-color="#ffe400"/><stop offset=".968" stop-color="#ffa400"/><stop offset=".978" stop-color="#ff5c00"/><stop offset=".989" stop-color="#ff2400"/><stop offset="1" stop-color="#ff0700"/></linearGradient>
<linearGradient id="a17" x1="0" y1="0" x2="0" y2="1"><stop offset="0" stop-color="#004fff"/><stop offset=".022" stop-color="#004fff"/><stop offset=".043" stop-color="#05f"/><stop offset=".065" stop-color="#005fff"/><stop offset=".086" stop-color="#0068ff"/><stop offset=".108" stop-color="#0075ff"/><stop offset=".129" stop-color="#0090ff"/><stop offset=".151" stop-color="#00bfff"/><stop offset=".172" stop-color="#00feff"/><stop offset=".194" stop-color="#59ffa6"/><stop offset=".215" stop-color="#b9ff46"/><stop offset=".237" stop-color="#f1ff0e"/><stop offset=".258" stop-color="#ffec00"/><stop offset=".28" stop-color="#ffdb00"/><stop offset=".301" stop-color="#ffd700"/><stop offset=".323" stop-color="#ffed00"/><stop offset=".344" stop-color="#ebff14"/><stop offset=".366" stop-color="#b5ff4a"/><stop offset=".387" stop-color="#74ff8b"/><stop offset=".409" stop-color="#2affd5"/><stop offset=".43" stop-color="#00ebff"/><stop offset=".452" stop-color="#00c2ff"/><stop offset=".473" stop-color="#00ceff"/><stop offset=".495" stop-color="#00e0ff"/><stop offset=".516" stop-color="#00d8ff"/><stop offset=".538" stop-color="#00c9ff"/><stop offset=".559" stop-color="#00b8ff"/><stop offset=".581" stop-color="#00beff"/><stop offset=".602" stop-color="#00fdff"/><stop offset=".624" stop-color="#0ffff0"/><stop offset=".645" stop-color="#01fffe"/><stop offset=".667" stop-color="#00d2ff"/><stop offset=".688" stop-color="#0095ff"/><stop offset=".71" stop-color="#00e5ff"/><stop offset=".731" stop-color="#76ff89"/><stop offset=".753" stop-color="#c2ff3d"/><stop offset=".774" stop-color="#deff21"/><stop offset=".796" stop-color="#b8ff47"/><stop offset=".817" stop-color="#81ff7e"/><stop offset=".839" stop-color="#c6ff39"/><stop offset=".86" stop-color="#fd0"/><stop offset=".882" stop-color="#ffa300"/><stop offset=".903" stop-color="#ff9800"/><stop offset=".925" stop-color="#ffb600"/><stop offset=".935" stop-color="#ffc400"/><stop offset=".946" stop-color="#ffc600"/><stop offset=".957" stop-color="#ffae00"/><stop offset=".968" stop-color="#ff7100"/><stop offset=".978" stop-color="#ff2f00"/><stop offset=".989" stop-color="#ff0400"/><stop offset="1" stop-color="#ef0000"/></linearGradient>
<linearGradient id="a18" x1="0" y1="0" x2="0" y2="1"><stop offset="0" stop-color="#005bff"/><stop offset=".022" stop-color="#005bff"/><stop offset=".043" stop-color="#0064ff"/><stop offset=".065" stop-color="#0070ff"/><stop offset=".086" stop-color="#007aff"/><stop offset=".108" stop-color="#008aff"/><stop offset=".129" stop-color="#00a7ff"/><stop offset=".151" stop-color="#00d8ff"/><stop offset=".172" stop-color="#1bffe4"/><stop offset=".194" stop-color="#78ff87"/><stop offset=".215" stop-color="#daff25"/><stop offset=".237" stop-color="#fff000"/><stop offset=".258" stop-color="#ffd400"/><stop offset=".28" stop-color="#ffc400"/><stop offset=".301" stop-color="#ffbf00"/><stop offset=".323" stop-color="#ffd400"/><stop offset=".344" stop-color="#fff800"/><stop offset=".366" stop-color="#d2ff2d"/><stop offset=".387" stop-color="#8eff71"/><stop offset=".409" stop-color="#3bffc4"/><stop offset=".43" stop-color="#00f6ff"/><stop offset=".452" stop-color="#00c9ff"/><stop offset=".473" stop-color="#00d9ff"/><stop offset=".495" stop-color="#00f1ff"/><stop offset=".516" stop-color="#00e3ff"/><stop offset=".538" stop-color="#0cf"/><stop offset=".559" stop-color="#00b9ff"/><stop offset=".581" stop-color="#00bfff"/><stop offset=".602" stop-color="#03fffc"/><stop offset=".624" stop-color="#15ffea"/><stop offset=".645" stop-color="#08fff7"/><stop offset=".667" stop-color="#00daff"/><stop offset=".688" stop-color="#009aff"/><stop offset=".71" stop-color="#00eaff"/><stop offset=".731" stop-color="#7bff84"/><stop offset=".753" stop-color="#c7ff38"/><stop offset=".774" stop-color="#e2ff1d"/><stop offset=".796" stop-color="#bdff42"/><stop offset=".817" stop-color="#8bff74"/><stop offset=".839" stop-color="#d7ff28"/><stop offset=".86" stop-color="#ffd000"/><stop offset=".882" stop-color="#ff9a00"/><stop offset=".903" stop-color="#ff8a00"/><stop offset=".925" stop-color="#f90"/><stop offset=".935" stop-color="#ff9c00"/><stop offset=".946" stop-color="#f90"/><stop offset=".957" stop-color="#ff7e00"/><stop offset=".968" stop-color="#f40"/><stop offset=".978" stop-color="#ff0a00"/><stop offset=".989" stop-color="#e80000"/><stop offset="1" stop-color="#dc0000"/></linearGradient>
<linearGradient id="a19" x1="0" y1="0" x2="0" y2="1"><stop offset="0" stop-color="#0061ff"/><stop offset=".022" stop-color="#0062ff"/><stop offset=".043" stop-color="#006bff"/><stop offset=".065" stop-color="#0078ff"/><stop offset=".086" stop-color="#0081ff"/><stop offset=".108" stop-color="#0092ff"/><stop offset=".129" stop-color="#00b4ff"/><stop offset=".151" stop-color="#00eaff"/><stop offset=".172" stop-color="#2fffd0"/><stop offset=".194" stop-color="#8fff70"/><stop offset=".215" stop-color="#f1ff0e"/><stop offset=".237" stop-color="#ffde00"/><stop offset=".258" stop-color="#ffc500"/><stop offset=".28" stop-color="#ffb700"/><stop offset=".301" stop-color="#ffb300"/><stop offset=".323" stop-color="#ffc500"/><stop offset=".344" stop-color="#ffe500"/><stop offset=".366" stop-color="#e8ff17"/><stop offset=".387" stop-color="#a4ff5b"/><stop offset=".409" stop-color="#4bffb4"/><stop offset=".43" stop-color="#00feff"/><stop offset=".452" stop-color="#00cbff"/><stop offset=".473" stop-color="#0df"/><stop offset=".495" stop-color="#00f8ff"/><stop offset=".516" stop-color="#00e7ff"/><stop offset=".538" stop-color="#00cdff"/><stop offset=".559" stop-color="#00b8ff"/><stop offset=".581" stop-color="#00beff"/><stop offset=".602" stop-color="#04fffb"/><stop offset=".624" stop-color="#17ffe8"/><stop offset=".645" stop-color="#0afff5"/><stop offset=".667" stop-color="#00dcff"/><stop offset=".688" stop-color="#009bff"/><stop offset=".71" stop-color="#00ebff"/><stop offset=".731" stop-color="#7cff83"/><stop offset=".753" stop-color="#c7ff38"/><stop offset=".774" stop-color="#e3ff1c"/><stop offset=".796" stop-color="#beff41"/><stop offset=".817" stop-color="#90ff6f"/><stop offset=".839" stop-color="#e1ff1e"/><stop offset=".86" stop-color="#ffc800"/><stop offset=".882" stop-color="#ff9300"/><stop offset=".903" stop-color="#ff8000"/><stop offset=".925" stop-color="#ff8500"/><stop offset=".935" stop-color="#ff8500"/><stop offset=".946" stop-color="#ff7d00"/><stop offset=".957" stop-color="#ff6100"/><stop offset=".968" stop-color="#ff2b00"/><stop offset=".978" stop-color="#f60000"/><stop offset=".989" stop-color="#da0000"/><stop offset="1" stop-color="#d10000"/></linearGradient>
<linearGradient id="a20" x1="0" y1="0" x2="0" y2="1"><stop offset="0" stop-color="#0065ff"/><stop offset=".022" stop-color="#0065ff"/><stop offset=".043" stop-color="#006fff"/><stop offset=".065" stop-color="#007bff"/><stop offset=".086" stop-color="#0083ff"/><stop offset=".108" stop-color="#0093ff"/><stop offset=".129" stop-color="#00bdff"/><stop offset=".151" stop-color="#00f8ff"/><stop offset=".172" stop-color="#40ffbf"/><stop offset=".194" stop-color="#a1ff5e"/><stop offset=".215" stop-color="#fffd00"/><stop offset=".237" stop-color="#ffd200"/><stop offset=".258" stop-color="#ffbc00"/><stop offset=".28" stop-color="#ffaf00"/><stop offset=".301" stop-color="#ffac00"/><stop offset=".323" stop-color="#fb0"/><stop offset=".344" stop-color="#ffd700"/><stop offset=".366" stop-color="#fbff04"/><stop offset=".387" stop-color="#b9ff46"/><stop offset=".409" stop-color="#5dffa2"/><stop offset=".43" stop-color="#06fff9"/><stop offset=".452" stop-color="#00c7ff"/><stop offset=".473" stop-color="#00dcff"/><stop offset=".495" stop-color="#00fcff"/><stop offset=".516" stop-color="#00e7ff"/><stop offset=".538" stop-color="#00c8ff"/><stop offset=".559" stop-color="#00b2ff"/><stop offset=".581" stop-color="#00b8ff"/><stop offset=".602" stop-color="#00feff"/><stop offset=".624" stop-color="#13ffec"/><stop offset=".645" stop-color="#08fff7"/><stop offset=".667" stop-color="#00daff"/><stop offset=".688" stop-color="#09f"/><stop offset=".71" stop-color="#00e7ff"/><stop offset=".731" stop-color="#76ff89"/><stop offset=".753" stop-color="#c2ff3d"/><stop offset=".774" stop-color="#deff21"/><stop offset=".796" stop-color="#bcff43"/><stop offset=".817" stop-color="#92ff6d"/><stop offset=".839" stop-color="#e8ff17"/><stop offset=".86" stop-color="#ffc100"/><stop offset=".882" stop-color="#ff8d00"/><stop offset=".903" stop-color="#ff7800"/><stop offset=".925" stop-color="#ff7600"/><stop offset=".935" stop-color="#ff7400"/><stop offset=".946" stop-color="#ff6b00"/><stop offset=".957" stop-color="#ff5000"/><stop offset=".968" stop-color="#ff1e00"/><stop offset=".978" stop-color="#ed0000"/><stop offset=".989" stop-color="#d30000"/><stop offset="1" stop-color="#cb0000"/></linearGradient>
<linearGradient id="a21" x1="0" y1="0" x2="0" y2="1"><stop offset="0" stop-color="#0068ff"/><stop offset=".022" stop-color="#0068ff"/><stop offset=".043" stop-color="#0072ff"/><stop offset=".065" stop-color="#007eff"/><stop offset=".086" stop-color="#0084ff"/><stop offset=".108" stop-color="#0094ff"/><stop offset=".129" stop-color="#00c4ff"/><stop offset=".151" stop-color="#06fff9"/><stop offset=".172" stop-color="#50ffaf"/><stop offset=".194" stop-color="#b2ff4d"/><stop offset=".215" stop-color="#ffef00"/><stop offset=".237" stop-color="#ffc700"/><stop offset=".258" stop-color="#ffb300"/><stop offset=".28" stop-color="#ffa900"/><stop offset=".301" stop-color="#ffa600"/><stop offset=".323" stop-color="#ffb300"/><stop offset=".344" stop-color="#ffcb00"/><stop offset=".366" stop-color="#fff200"/><stop offset=".387" stop-color="#cdff32"/><stop offset=".409" stop-color="#6eff91"/><stop offset=".43" stop-color="#0cfff3"/><stop offset=".452" stop-color="#00c0ff"/><stop offset=".473" stop-color="#00d9ff"/><stop offset=".495" stop-color="#00feff"/><stop offset=".516" stop-color="#00e4ff"/><stop offset=".538" stop-color="#00bfff"/><stop offset=".559" stop-color="#00a6ff"/><stop offset=".581" stop-color="#00abff"/><stop offset=".602" stop-color="#00f5ff"/><stop offset=".624" stop-color="#0cfff3"/><stop offset=".645" stop-color="#03fffc"/><stop offset=".667" stop-color="#00d7ff"/><stop offset=".688" stop-color="#0095ff"/><stop offset=".71" stop-color="#00e0ff"/><stop offset=".731" stop-color="#6bff94"/><stop offset=".753" stop-color="#b7ff48"/><stop offset=".774" stop-color="#d3ff2c"/><stop offset=".796" stop-color="#b8ff47"/><stop offset=".817" stop-color="#94ff6b"/><stop offset=".839" stop-color="#ef1"/><stop offset=".86" stop-color="#ffbc00"/><stop offset=".882" stop-color="#f80"/><stop offset=".903" stop-color="#ff7000"/><stop offset=".925" stop-color="#ff6a00"/><stop offset=".935" stop-color="#f60"/><stop offset=".946" stop-color="#ff5b00"/><stop offset=".957" stop-color="#ff4100"/><stop offset=".968" stop-color="#ff1300"/><stop offset=".978" stop-color="#e60000"/><stop offset=".989" stop-color="#ce0000"/><stop offset="1" stop-color="#c50000"/></linearGradient>
<linearGradient id="a22" x1="0" y1="0" x2="0" y2="1"><stop offset="0" stop-color="#006aff"/><stop offset=".022" stop-color="#006aff"/><stop offset=".043" stop-color="#0074ff"/><stop offset=".065" stop-color="#007fff"/><stop offset=".086" stop-color="#0085ff"/><stop offset=".108" stop-color="#0094ff"/><stop offset=".129" stop-color="#00caff"/><stop offset=".151" stop-color="#10ffef"/><stop offset=".172" stop-color="#5cffa3"/><stop offset=".194" stop-color="#bfff40"/><stop offset=".215" stop-color="#ffe400"/><stop offset=".237" stop-color="#ffbe00"/><stop offset=".258" stop-color="#ffad00"/><stop offset=".28" stop-color="#ffa400"/><stop offset=".301" stop-color="#ffa200"/><stop offset=".323" stop-color="#ffad00"/><stop offset=".344" stop-color="#ffc100"/><stop offset=".366" stop-color="#ffe400"/><stop offset=".387" stop-color="#deff21"/><stop offset=".409" stop-color="#7eff81"/><stop offset=".43" stop-color="#1fe"/><stop offset=".452" stop-color="#00b8ff"/><stop offset=".473" stop-color="#00d4ff"/><stop offset=".495" stop-color="#0ff"/><stop offset=".516" stop-color="#00e1ff"/><stop offset=".538" stop-color="#00b6ff"/><stop offset=".559" stop-color="#09f"/><stop offset=".581" stop-color="#009dff"/><stop offset=".602" stop-color="#00eaff"/><stop offset=".624" stop-color="#02fffd"/><stop offset=".645" stop-color="#00fbff"/><stop offset=".667" stop-color="#00d3ff"/><stop offset=".688" stop-color="#0090ff"/><stop offset=".71" stop-color="#00d7ff"/><stop offset=".731" stop-color="#5dffa2"/><stop offset=".753" stop-color="#a9ff56"/><stop offset=".774" stop-color="#c6ff39"/><stop offset=".796" stop-color="#b2ff4d"/><stop offset=".817" stop-color="#96ff69"/><stop offset=".839" stop-color="#f2ff0d"/><stop offset=".86" stop-color="#ffb800"/><stop offset=".882" stop-color="#ff8300"/><stop offset=".903" stop-color="#ff6b00"/><stop offset=".925" stop-color="#ff6000"/><stop offset=".935" stop-color="#ff5a00"/><stop offset=".946" stop-color="#ff4f00"/><stop offset=".957" stop-color="#ff3500"/><stop offset=".968" stop-color="#ff0b00"/><stop offset=".978" stop-color="#e10000"/><stop offset=".989" stop-color="#ca0000"/><stop offset="1" stop-color="#c10000"/></linearGradient>
<linearGradient id="a23" x1="0" y1="0" x2="0" y2="1"><stop offset="0" stop-color="#006bff"/><stop offset=".022" stop-color="#006bff"/><stop offset=".043" stop-color="#0075ff"/><stop offset=".065" stop-color="#0080ff"/><stop offset=".086" stop-color="#0085ff"/><stop offset=".108" stop-color="#0095ff"/><stop offset=".129" stop-color="#00cdff"/><stop offset=".151" stop-color="#16ffe9"/><stop offset=".172" stop-color="#64ff9b"/><stop offset=".194" stop-color="#c7ff38"/><stop offset=".215" stop-color="#fd0"/><stop offset=".237" stop-color="#ffba00"/><stop offset=".258" stop-color="#ffa900"/><stop offset=".28" stop-color="#ffa200"/><stop offset=".301" stop-color="#ff9f00"/><stop offset=".323" stop-color="#ffa900"/><stop offset=".344" stop-color="#fb0"/><stop offset=".366" stop-color="#ffdc00"/><stop offset=".387" stop-color="#e9ff16"/><stop offset=".409" stop-color="#89ff76"/><stop offset=".43" stop-color="#15ffea"/><stop offset=".452" stop-color="#00b3ff"/><stop offset=".473" stop-color="#00d1ff"/><stop offset=".495" stop-color="#01fffe"/><stop offset=".516" stop-color="#00deff"/><stop offset=".538" stop-color="#00afff"/><stop offset=".559" stop-color="#008eff"/><stop offset=".581" stop-color="#0092ff"/><stop offset=".602" stop-color="#00dfff"/><stop offset=".624" stop-color="#00f6ff"/><stop offset=".645" stop-color="#00f4ff"/><stop offset=".667" stop-color="#00cfff"/><stop offset=".688" stop-color="#008bff"/><stop offset=".71" stop-color="#00cfff"/><stop offset=".731" stop-color="#50ffaf"/><stop offset=".753" stop-color="#9cff63"/><stop offset=".774" stop-color="#b9ff46"/><stop offset=".796" stop-color="#abff54"/><stop offset=".817" stop-color="#96ff69"/><stop offset=".839" stop-color="#f5ff0a"/><stop offset=".86" stop-color="#ffb500"/><stop offset=".882" stop-color="#ff8100"/><stop offset=".903" stop-color="#ff6800"/><stop offset=".925" stop-color="#ff5a00"/><stop offset=".935" stop-color="#ff5300"/><stop offset=".946" stop-color="#ff4800"/><stop offset=".957" stop-color="#ff2e00"/><stop offset=".968" stop-color="#ff0600"/><stop offset=".978" stop-color="#de0000"/><stop offset=".989" stop-color="#c70000"/><stop offset="1" stop-color="#be0000"/></linearGradient>
<linearGradient id="a24" x1="0" y1="0" x2="0" y2="1"><stop offset="0" stop-color="#006bff"/><stop offset=".022" stop-color="#006bff"/><stop offset=".043" stop-color="#0075ff"/><stop offset=".065" stop-color="#007fff"/><stop offset=".086" stop-color="#0084ff"/><stop offset=".108" stop-color="#0093ff"/><stop offset=".129" stop-color="#00cdff"/><stop offset=".151" stop-color="#16ffe9"/><stop offset=".172" stop-color="#65ff9a"/><stop offset=".194" stop-color="#c9ff36"/><stop offset=".215" stop-color="#fd0"/><stop offset=".237" stop-color="#ffba00"/><stop offset=".258" stop-color="#fa0"/><stop offset=".28" stop-color="#ffa200"/><stop offset=".301" stop-color="#ffa000"/><stop offset=".323" stop-color="#ffa900"/><stop offset=".344" stop-color="#ffba00"/><stop offset=".366" stop-color="#ffda00"/><stop offset=".387" stop-color="#ecff13"/><stop offset=".409" stop-color="#8eff71"/><stop offset=".43" stop-color="#18ffe7"/><stop offset=".452" stop-color="#00b3ff"/><stop offset=".473" stop-color="#00d1ff"/><stop offset=".495" stop-color="#01fffe"/><stop offset=".516" stop-color="#00deff"/><stop offset=".538" stop-color="#00adff"/><stop offset=".559" stop-color="#008aff"/><stop offset=".581" stop-color="#008bff"/><stop offset=".602" stop-color="#00d4ff"/><stop offset=".624" stop-color="#00ecff"/><stop offset=".645" stop-color="#00edff"/><stop offset=".667" stop-color="#00caff"/><stop offset=".688" stop-color="#0085ff"/><stop offset=".71" stop-color="#00c8ff"/><stop offset=".731" stop-color="#47ffb8"/><stop offset=".753" stop-color="#91ff6e"/><stop offset=".774" stop-color="#aeff51"/><stop offset=".796" stop-color="#a5ff5a"/><stop offset=".817" stop-color="#96ff69"/><stop offset=".839" stop-color="#f5ff0a"/><stop offset=".86" stop-color="#ffb500"/><stop offset=".882" stop-color="#ff8100"/><stop offset=".903" stop-color="#ff6700"/><stop offset=".925" stop-color="#ff5900"/><stop offset=".935" stop-color="#ff5200"/><stop offset=".946" stop-color="#ff4600"/><stop offset=".957" stop-color="#ff2d00"/><stop offset=".968" stop-color="#ff0500"/><stop offset=".978" stop-color="#de0000"/><stop offset=".989" stop-color="#c70000"/><stop offset="1" stop-color="#be0000"/></linearGradient>
<linearGradient id="a25" x1="0" y1="0" x2="0" y2="1"><stop offset="0" stop-color="#0067ff"/><stop offset=".022" stop-color="#0068ff"/><stop offset=".043" stop-color="#0070ff"/><stop offset=".065" stop-color="#0078ff"/><stop offset=".086" stop-color="#007bff"/><stop offset=".108" stop-color="#0087ff"/><stop offset=".129" stop-color="#00c2ff"/><stop offset=".151" stop-color="#10ffef"/><stop offset=".172" stop-color="#62ff9d"/><stop offset=".194" stop-color="#c6ff39"/><stop offset=".215" stop-color="#ffe200"/><stop offset=".237" stop-color="#ffc100"/><stop offset=".258" stop-color="#ffb200"/><stop offset=".28" stop-color="#ffa900"/><stop offset=".301" stop-color="#ffa600"/><stop offset=".323" stop-color="#ffae00"/><stop offset=".344" stop-color="#ffbf00"/><stop offset=".366" stop-color="#fd0"/><stop offset=".387" stop-color="#ebff14"/><stop offset=".409" stop-color="#90ff6f"/><stop offset=".43" stop-color="#1dffe2"/><stop offset=".452" stop-color="#00baff"/><stop offset=".473" stop-color="#00d5ff"/><stop offset=".495" stop-color="#02fffd"/><stop offset=".516" stop-color="#00deff"/><stop offset=".538" stop-color="#00acff"/><stop offset=".559" stop-color="#0087ff"/><stop offset=".581" stop-color="#0086ff"/><stop offset=".602" stop-color="#00c7ff"/><stop offset=".624" stop-color="#00e2ff"/><stop offset=".645" stop-color="#00e7ff"/><stop offset=".667" stop-color="#00c4ff"/><stop offset=".688" stop-color="#007fff"/><stop offset=".71" stop-color="#00c2ff"/><stop offset=".731" stop-color="#40ffbf"/><stop offset=".753" stop-color="#87ff78"/><stop offset=".774" stop-color="#a5ff5a"/><stop offset=".796" stop-color="#9dff62"/><stop offset=".817" stop-color="#94ff6b"/><stop offset=".839" stop-color="#f3ff0c"/><stop offset=".86" stop-color="#ffb700"/><stop offset=".882" stop-color="#ff8300"/><stop offset=".903" stop-color="#ff6900"/><stop offset=".925" stop-color="#ff5b00"/><stop offset=".935" stop-color="#ff5400"/><stop offset=".946" stop-color="#ff4800"/><stop offset=".957" stop-color="#ff2f00"/><stop offset=".968" stop-color="#ff0800"/><stop offset=".978" stop-color="#e10000"/><stop offset=".989" stop-color="#ca0000"/><stop offset="1" stop-color="#c10000"/></linearGradient>
<linearGradient id="a26" x1="0" y1="0" x2="0" y2="1"><stop offset="0" stop-color="#0061ff"/><stop offset=".022" stop-color="#0061ff"/><stop offset=".043" stop-color="#0067ff"/><stop offset=".065" stop-color="#006cff"/><stop offset=".086" stop-color="#006bff"/><stop offset=".108" stop-color="#0074ff"/><stop offset=".129" stop-color="#00b1ff"/><stop offset=".151" stop-color="#06fff9"/><stop offset=".172" stop-color="#5dffa2"/><stop offset=".194" stop-color="#c0ff3f"/><stop offset=".215" stop-color="#ffed00"/><stop offset=".237" stop-color="#ffce00"/><stop offset=".258" stop-color="#ffc000"/><stop offset=".28" stop-color="#ffb500"/><stop offset=".301" stop-color="#ffb100"/><stop offset=".323" stop-color="#ffb800"/><stop offset=".344" stop-color="#ffc700"/><stop offset=".366" stop-color="#ffe300"/><stop offset=".387" stop-color="#e9ff16"/><stop offset=".409" stop-color="#91ff6e"/><stop offset=".43" stop-color="#24ffdb"/><stop offset=".452" stop-color="#00c5ff"/><stop offset=".473" stop-color="#00dcff"/><stop offset=".495" stop-color="#02fffd"/><stop offset=".516" stop-color="#00dfff"/><stop offset=".538" stop-color="#00acff"/><stop offset=".559" stop-color="#0085ff"/><stop offset=".581" stop-color="#0082ff"/><stop offset=".602" stop-color="#00baff"/><stop offset=".624" stop-color="#00d7ff"/><stop offset=".645" stop-color="#00e0ff"/><stop offset=".667" stop-color="#00beff"/><stop offset=".688" stop-color="#0079ff"/><stop offset=".71" stop-color="#00bcff"/><stop offset=".731" stop-color="#3affc5"/><stop offset=".753" stop-color="#7fff80"/><stop offset=".774" stop-color="#9aff65"/><stop offset=".796" stop-color="#94ff6b"/><stop offset=".817" stop-color="#90ff6f"/><stop offset=".839" stop-color="#efff10"/><stop offset=".86" stop-color="#fb0"/><stop offset=".882" stop-color="#ff8700"/><stop offset=".903" stop-color="#ff6d00"/><stop offset=".925" stop-color="#ff5f00"/><stop offset=".935" stop-color="#ff5800"/><stop offset=".946" stop-color="#ff4c00"/><stop offset=".957" stop-color="#f30"/><stop offset=".968" stop-color="#ff0c00"/><stop offset=".978" stop-color="#e70000"/><stop offset=".989" stop-color="#d00000"/><stop offset="1" stop-color="#c50000"/></linearGradient>
<linearGradient id="a27" x1="0" y1="0" x2="0" y2="1"><stop offset="0" stop-color="#0059ff"/><stop offset=".022" stop-color="#0059ff"/><stop offset=".043" stop-color="#005cff"/><stop offset=".065" stop-color="#005eff"/><stop offset=".086" stop-color="#0057ff"/><stop offset=".108" stop-color="#005eff"/><stop offset=".129" stop-color="#009eff"/><stop offset=".151" stop-color="#00f9ff"/><stop offset=".172" stop-color="#57ffa8"/><stop offset=".194" stop-color="#b9ff46"/><stop offset=".215" stop-color="#fff900"/><stop offset=".237" stop-color="#ffde00"/><stop offset=".258" stop-color="#ffd000"/><stop offset=".28" stop-color="#ffc300"/><stop offset=".301" stop-color="#ffbe00"/><stop offset=".323" stop-color="#ffc400"/><stop offset=".344" stop-color="#ffd100"/><stop offset=".366" stop-color="#ffea00"/><stop offset=".387" stop-color="#e5ff1a"/><stop offset=".409" stop-color="#92ff6d"/><stop offset=".43" stop-color="#2affd5"/><stop offset=".452" stop-color="#00d0ff"/><stop offset=".473" stop-color="#00e2ff"/><stop offset=".495" stop-color="#02fffd"/><stop offset=".516" stop-color="#00dfff"/><stop offset=".538" stop-color="#00acff"/><stop offset=".559" stop-color="#0084ff"/><stop offset=".581" stop-color="#007eff"/><stop offset=".602" stop-color="#00adff"/><stop offset=".624" stop-color="#00cbff"/><stop offset=".645" stop-color="#00d9ff"/><stop offset=".667" stop-color="#00b7ff"/><stop offset=".688" stop-color="#0072ff"/><stop offset=".71" stop-color="#00b6ff"/><stop offset=".731" stop-color="#34ffcb"/><stop offset=".753" stop-color="#7f8"/><stop offset=".774" stop-color="#90ff6f"/><stop offset=".796" stop-color="#89ff76"/><stop offset=".817" stop-color="#8aff75"/><stop offset=".839" stop-color="#eaff15"/><stop offset=".86" stop-color="#ffc000"/><stop offset=".882" stop-color="#ff8c00"/><stop offset=".903" stop-color="#ff7300"/><stop offset=".925" stop-color="#ff6400"/><stop offset=".935" stop-color="#ff5d00"/><stop offset=".946" stop-color="#ff5100"/><stop offset=".957" stop-color="#ff3800"/><stop offset=".968" stop-color="#ff1200"/><stop offset=".978" stop-color="#ef0000"/><stop offset=".989" stop-color="#d70000"/><stop offset="1" stop-color="#cb0000"/></linearGradient>
<linearGradient id="a28" x1="0" y1="0" x2="0" y2="1"><stop offset="0" stop-color="#0050ff"/><stop offset=".022" stop-color="#0050ff"/><stop offset=".043" stop-color="#0051ff"/><stop offset=".065" stop-color="#0050ff"/><stop offset=".086" stop-color="#0045ff"/><stop offset=".108" stop-color="#004aff"/><stop offset=".129" stop-color="#008eff"/><stop offset=".151" stop-color="#0ef"/><stop offset=".172" stop-color="#51ffae"/><stop offset=".194" stop-color="#b1ff4e"/><stop offset=".215" stop-color="#f8ff07"/><stop offset=".237" stop-color="#ffed00"/><stop offset=".258" stop-color="#ffdf00"/><stop offset=".28" stop-color="#ffd200"/><stop offset=".301" stop-color="#fc0"/><stop offset=".323" stop-color="#ffd100"/><stop offset=".344" stop-color="#ffdb00"/><stop offset=".366" stop-color="#fff100"/><stop offset=".387" stop-color="#e1ff1e"/><stop offset=".409" stop-color="#91ff6e"/><stop offset=".43" stop-color="#2effd1"/><stop offset=".452" stop-color="#00d7ff"/><stop offset=".473" stop-color="#00e7ff"/><stop offset=".495" stop-color="#02fffd"/><stop offset=".516" stop-color="#00dfff"/><stop offset=".538" stop-color="#00acff"/><stop offset=".559" stop-color="#0083ff"/><stop offset=".581" stop-color="#007cff"/><stop offset=".602" stop-color="#00a4ff"/><stop offset=".624" stop-color="#00c1ff"/><stop offset=".645" stop-color="#00d2ff"/><stop offset=".667" stop-color="#00b1ff"/><stop offset=".688" stop-color="#006cff"/><stop offset=".71" stop-color="#00b0ff"/><stop offset=".731" stop-color="#2effd1"/><stop offset=".753" stop-color="#6dff92"/><stop offset=".774" stop-color="#85ff7a"/><stop offset=".796" stop-color="#7fff80"/><stop offset=".817" stop-color="#85ff7a"/><stop offset=".839" stop-color="#e4ff1b"/><stop offset=".86" stop-color="#ffc600"/><stop offset=".882" stop-color="#ff9200"/><stop offset=".903" stop-color="#ff7800"/><stop offset=".925" stop-color="#ff6a00"/><stop offset=".935" stop-color="#ff6300"/><stop offset=".946" stop-color="#ff5700"/><stop offset=".957" stop-color="#ff3e00"/><stop offset=".968" stop-color="#ff1800"/><stop offset=".978" stop-color="#f60000"/><stop offset=".989" stop-color="#df0000"/><stop offset="1" stop-color="#d10000"/></linearGradient>
<linearGradient id="a29" x1="0" y1="0" x2="0" y2="1"><stop offset="0" stop-color="#0048ff"/><stop offset=".022" stop-color="#0048ff"/><stop offset=".043" stop-color="#0048ff"/><stop offset=".065" stop-color="#0046ff"/><stop offset=".086" stop-color="#0037ff"/><stop offset=".108" stop-color="#003bff"/><stop offset=".129" stop-color="#0083ff"/><stop offset=".151" stop-color="#00e6ff"/><stop offset=".172" stop-color="#4cffb3"/><stop offset=".194" stop-color="#a8ff57"/><stop offset=".215" stop-color="#ecff13"/><stop offset=".237" stop-color="#fff900"/><stop offset=".258" stop-color="#ffeb00"/><stop offset=".28" stop-color="#ffde00"/><stop offset=".301" stop-color="#ffd800"/><stop offset=".323" stop-color="#ffdc00"/><stop offset=".344" stop-color="#ffe500"/><stop offset=".366" stop-color="#fffa00"/><stop offset=".387" stop-color="#dbff24"/><stop offset=".409" stop-color="#8fff70"/><stop offset=".43" stop-color="#2effd1"/><stop offset=".452" stop-color="#00d9ff"/><stop offset=".473" stop-color="#00e7ff"/><stop offset=".495" stop-color="#01fffe"/><stop offset=".516" stop-color="#00deff"/><stop offset=".538" stop-color="#00abff"/><stop offset=".559" stop-color="#0083ff"/><stop offset=".581" stop-color="#007cff"/><stop offset=".602" stop-color="#009fff"/><stop offset=".624" stop-color="#0bf"/><stop offset=".645" stop-color="#00cbff"/><stop offset=".667" stop-color="#0af"/><stop offset=".688" stop-color="#0065ff"/><stop offset=".71" stop-color="#0af"/><stop offset=".731" stop-color="#27ffd8"/><stop offset=".753" stop-color="#61ff9e"/><stop offset=".774" stop-color="#78ff87"/><stop offset=".796" stop-color="#76ff89"/><stop offset=".817" stop-color="#7fff80"/><stop offset=".839" stop-color="#df2"/><stop offset=".86" stop-color="#ffcd00"/><stop offset=".882" stop-color="#f90"/><stop offset=".903" stop-color="#ff7f00"/><stop offset=".925" stop-color="#ff7100"/><stop offset=".935" stop-color="#ff6a00"/><stop offset=".946" stop-color="#ff5e00"/><stop offset=".957" stop-color="#ff4500"/><stop offset=".968" stop-color="#ff1f00"/><stop offset=".978" stop-color="#fe0000"/><stop offset=".989" stop-color="#e60000"/><stop offset="1" stop-color="#d70000"/></linearGradient>
<linearGradient id="a30" x1="0" y1="0" x2="0" y2="1"><stop offset="0" stop-color="#003fff"/><stop offset=".022" stop-color="#003fff"/><stop offset=".043" stop-color="#003fff"/><stop offset=".065" stop-color="#003dff"/><stop offset=".086" stop-color="#002bff"/><stop offset=".108" stop-color="#002fff"/><stop offset=".129" stop-color="#007bff"/><stop offset=".151" stop-color="#00e1ff"/><stop offset=".172" stop-color="#47ffb8"/><stop offset=".194" stop-color="#9eff61"/><stop offset=".215" stop-color="#e0ff1f"/><stop offset=".237" stop-color="#faff05"/><stop offset=".258" stop-color="#fff600"/><stop offset=".28" stop-color="#ffe900"/><stop offset=".301" stop-color="#ffe400"/><stop offset=".323" stop-color="#ffe800"/><stop offset=".344" stop-color="#fff100"/><stop offset=".366" stop-color="#f9ff06"/><stop offset=".387" stop-color="#d2ff2d"/><stop offset=".409" stop-color="#89ff76"/><stop offset=".43" stop-color="#2bffd4"/><stop offset=".452" stop-color="#00d8ff"/><stop offset=".473" stop-color="#00e4ff"/><stop offset=".495" stop-color="#00fbff"/><stop offset=".516" stop-color="#00d9ff"/><stop offset=".538" stop-color="#00a9ff"/><stop offset=".559" stop-color="#0086ff"/><stop offset=".581" stop-color="#007fff"/><stop offset=".602" stop-color="#009cff"/><stop offset=".624" stop-color="#00b5ff"/><stop offset=".645" stop-color="#00c5ff"/><stop offset=".667" stop-color="#00a4ff"/><stop offset=".688" stop-color="#005dff"/><stop offset=".71" stop-color="#00a3ff"/><stop offset=".731" stop-color="#1fffe0"/><stop offset=".753" stop-color="#52ffad"/><stop offset=".774" stop-color="#6aff95"/><stop offset=".796" stop-color="#6eff91"/><stop offset=".817" stop-color="#78ff87"/><stop offset=".839" stop-color="#d5ff2a"/><stop offset=".86" stop-color="#ffd400"/><stop offset=".882" stop-color="#ffa100"/><stop offset=".903" stop-color="#f80"/><stop offset=".925" stop-color="#ff7a00"/><stop offset=".935" stop-color="#ff7300"/><stop offset=".946" stop-color="#ff6700"/><stop offset=".957" stop-color="#ff4f00"/><stop offset=".968" stop-color="#ff2a00"/><stop offset=".978" stop-color="#ff0800"/><stop offset=".989" stop-color="#ed0000"/><stop offset="1" stop-color="#de0000"/></linearGradient>
<linearGradient id="a31" x1="0" y1="0" x2="0" y2="1"><stop offset="0" stop-color="#0034ff"/><stop offset=".022" stop-color="#0034ff"/><stop offset=".043" stop-color="#0036ff"/><stop offset=".065" stop-color="#0035ff"/><stop offset=".086" stop-color="#0020ff"/><stop offset=".108" stop-color="#0023ff"/><stop offset=".129" stop-color="#0074ff"/><stop offset=".151" stop-color="#00dcff"/><stop offset=".172" stop-color="#41ffbe"/><stop offset=".194" stop-color="#92ff6d"/><stop offset=".215" stop-color="#d3ff2c"/><stop offset=".237" stop-color="#efff10"/><stop offset=".258" stop-color="#feff01"/><stop offset=".28" stop-color="#fff500"/><stop offset=".301" stop-color="#fff100"/><stop offset=".323" stop-color="#fff500"/><stop offset=".344" stop-color="#fffe00"/><stop offset=".366" stop-color="#ecff13"/><stop offset=".387" stop-color="#c5ff3a"/><stop offset=".409" stop-color="#7fff80"/><stop offset=".43" stop-color="#26ffd9"/><stop offset=".452" stop-color="#00d8ff"/><stop offset=".473" stop-color="#00e0ff"/><stop offset=".495" stop-color="#00f2ff"/><stop offset=".516" stop-color="#00d1ff"/><stop offset=".538" stop-color="#00a5ff"/><stop offset=".559" stop-color="#0089ff"/><stop offset=".581" stop-color="#0084ff"/><stop offset=".602" stop-color="#009bff"/><stop offset=".624" stop-color="#00b0ff"/><stop offset=".645" stop-color="#00c0ff"/><stop offset=".667" stop-color="#009dff"/><stop offset=".688" stop-color="#05f"/><stop offset=".71" stop-color="#009cff"/><stop offset=".731" stop-color="#17ffe8"/><stop offset=".753" stop-color="#42ffbd"/><stop offset=".774" stop-color="#5bffa4"/><stop offset=".796" stop-color="#65ff9a"/><stop offset=".817" stop-color="#71ff8e"/><stop offset=".839" stop-color="#cf3"/><stop offset=".86" stop-color="#ffde00"/><stop offset=".882" stop-color="#ffac00"/><stop offset=".903" stop-color="#ff9300"/><stop offset=".925" stop-color="#ff8600"/><stop offset=".935" stop-color="#ff7e00"/><stop offset=".946" stop-color="#ff7200"/><stop offset=".957" stop-color="#ff5b00"/><stop offset=".968" stop-color="#ff3700"/><stop offset=".978" stop-color="#ff1200"/><stop offset=".989" stop-color="#f50000"/><stop offset="1" stop-color="#e40000"/></linearGradient>
<linearGradient id="a32" x1="0" y1="0" x2="0" y2="1"><stop offset="0" stop-color="#0029ff"/><stop offset=".022" stop-color="#0029ff"/><stop offset=".043" stop-color="#002dff"/><stop offset=".065" stop-color="#002dff"/><stop offset=".086" stop-color="#0015ff"/><stop offset=".108" stop-color="#0018ff"/><stop offset=".129" stop-color="#006cff"/><stop offset=".151" stop-color="#00d6ff"/><stop offset=".172" stop-color="#3bffc4"/><stop offset=".194" stop-color="#86ff79"/><stop offset=".215" stop-color="#c6ff39"/><stop offset=".237" stop-color="#e4ff1b"/><stop offset=".258" stop-color="#f3ff0c"/><stop offset=".28" stop-color="#fdff02"/><stop offset=".301" stop-color="#fffe00"/><stop offset=".323" stop-color="#fcff03"/><stop offset=".344" stop-color="#f3ff0c"/><stop offset=".366" stop-color="#df2"/><stop offset=".387" stop-color="#b6ff49"/><stop offset=".409" stop-color="#73ff8c"/><stop offset=".43" stop-color="#1fffe0"/><stop offset=".452" stop-color="#00d7ff"/><stop offset=".473" stop-color="#00dcff"/><stop offset=".495" stop-color="#00e7ff"/><stop offset=".516" stop-color="#00c8ff"/><stop offset=".538" stop-color="#00a1ff"/><stop offset=".559" stop-color="#008cff"/><stop offset=".581" stop-color="#0089ff"/><stop offset=".602" stop-color="#009aff"/><stop offset=".624" stop-color="#00abff"/><stop offset=".645" stop-color="#00b9ff"/><stop offset=".667" stop-color="#0097ff"/><stop offset=".688" stop-color="#004fff"/><stop offset=".71" stop-color="#0096ff"/><stop offset=".731" stop-color="#0efff1"/><stop offset=".753" stop-color="#32ffcd"/><stop offset=".774" stop-color="#4bffb4"/><stop offset=".796" stop-color="#5bffa4"/><stop offset=".817" stop-color="#68ff97"/><stop offset=".839" stop-color="#c1ff3e"/><stop offset=".86" stop-color="#ffe800"/><stop offset=".882" stop-color="#ffb800"/><stop offset=".903" stop-color="#ff9f00"/><stop offset=".925" stop-color="#ff9100"/><stop offset=".935" stop-color="#ff8a00"/><stop offset=".946" stop-color="#ff7e00"/><stop offset=".957" stop-color="#ff6800"/><stop offset=".968" stop-color="#ff4500"/><stop offset=".978" stop-color="#ff1c00"/><stop offset=".989" stop-color="#fc0000"/><stop offset="1" stop-color="#eb0000"/></linearGradient>
<linearGradient id="a33" x1="0" y1="0" x2="0" y2="1"><stop offset="0" stop-color="#001dff"/><stop offset=".022" stop-color="#001dff"/><stop offset=".043" stop-color="#02f"/><stop offset=".065" stop-color="#0023ff"/><stop offset=".086" stop-color="#000aff"/><stop offset=".108" stop-color="#000cff"/><stop offset=".129" stop-color="#0063ff"/><stop offset=".151" stop-color="#00ceff"/><stop offset=".172" stop-color="#34ffcb"/><stop offset=".194" stop-color="#79ff86"/><stop offset=".215" stop-color="#b8ff47"/><stop offset=".237" stop-color="#d8ff27"/><stop offset=".258" stop-color="#e8ff17"/><stop offset=".28" stop-color="#f0ff0f"/><stop offset=".301" stop-color="#f3ff0c"/><stop offset=".323" stop-color="#ef1"/><stop offset=".344" stop-color="#e5ff1a"/><stop offset=".366" stop-color="#cfff30"/><stop offset=".387" stop-color="#a8ff57"/><stop offset=".409" stop-color="#6f9"/><stop offset=".43" stop-color="#18ffe7"/><stop offset=".452" stop-color="#00d6ff"/><stop offset=".473" stop-color="#00d7ff"/><stop offset=".495" stop-color="#0df"/><stop offset=".516" stop-color="#00bfff"/><stop offset=".538" stop-color="#009dff"/><stop offset=".559" stop-color="#008eff"/><stop offset=".581" stop-color="#008bff"/><stop offset=".602" stop-color="#0098ff"/><stop offset=".624" stop-color="#00a6ff"/><stop offset=".645" stop-color="#00b3ff"/><stop offset=".667" stop-color="#0091ff"/><stop offset=".688" stop-color="#004bff"/><stop offset=".71" stop-color="#0091ff"/><stop offset=".731" stop-color="#04fffb"/><stop offset=".753" stop-color="#2fd"/><stop offset=".774" stop-color="#39ffc6"/><stop offset=".796" stop-color="#4fffb0"/><stop offset=".817" stop-color="#5fffa0"/><stop offset=".839" stop-color="#b6ff49"/><stop offset=".86" stop-color="#fff400"/><stop offset=".882" stop-color="#ffc400"/><stop offset=".903" stop-color="#ffab00"/><stop offset=".925" stop-color="#ff9d00"/><stop offset=".935" stop-color="#ff9500"/><stop offset=".946" stop-color="#ff8a00"/><stop offset=".957" stop-color="#ff7500"/><stop offset=".968" stop-color="#ff5200"/><stop offset=".978" stop-color="#ff2700"/><stop offset=".989" stop-color="#ff0500"/><stop offset="1" stop-color="#f20000"/></linearGradient>
<linearGradient id="a34" x1="0" y1="0" x2="0" y2="1"><stop offset="0" stop-color="#0010ff"/><stop offset=".022" stop-color="#0010ff"/><stop offset=".043" stop-color="#0017ff"/><stop offset=".065" stop-color="#0019ff"/><stop offset=".086" stop-color="#0000fd"/><stop offset=".108" stop-color="#0000fe"/><stop offset=".129" stop-color="#0056ff"/><stop offset=".151" stop-color="#00c2ff"/><stop offset=".172" stop-color="#2bffd4"/><stop offset=".194" stop-color="#6dff92"/><stop offset=".215" stop-color="#a9ff56"/><stop offset=".237" stop-color="#cbff34"/><stop offset=".258" stop-color="#dcff23"/><stop offset=".28" stop-color="#e4ff1b"/><stop offset=".301" stop-color="#e6ff19"/><stop offset=".323" stop-color="#e1ff1e"/><stop offset=".344" stop-color="#d6ff29"/><stop offset=".366" stop-color="#c2ff3d"/><stop offset=".387" stop-color="#9bff64"/><stop offset=".409" stop-color="#5affa5"/><stop offset=".43" stop-color="#10ffef"/><stop offset=".452" stop-color="#00d3ff"/><stop offset=".473" stop-color="#00d0ff"/><stop offset=".495" stop-color="#00d1ff"/><stop offset=".516" stop-color="#00b6ff"/><stop offset=".538" stop-color="#09f"/><stop offset=".559" stop-color="#008dff"/><stop offset=".581" stop-color="#008bff"/><stop offset=".602" stop-color="#0095ff"/><stop offset=".624" stop-color="#00a0ff"/><stop offset=".645" stop-color="#0af"/><stop offset=".667" stop-color="#008aff"/><stop offset=".688" stop-color="#004aff"/><stop offset=".71" stop-color="#008cff"/><stop offset=".731" stop-color="#00f6ff"/><stop offset=".753" stop-color="#10ffef"/><stop offset=".774" stop-color="#25ffda"/><stop offset=".796" stop-color="#40ffbf"/><stop offset=".817" stop-color="#54ffab"/><stop offset=".839" stop-color="#a9ff56"/><stop offset=".86" stop-color="#fdff02"/><stop offset=".882" stop-color="#ffd100"/><stop offset=".903" stop-color="#ffb600"/><stop offset=".925" stop-color="#ffa800"/><stop offset=".935" stop-color="#ffa100"/><stop offset=".946" stop-color="#ff9600"/><stop offset=".957" stop-color="#ff8100"/><stop offset=".968" stop-color="#ff5d00"/><stop offset=".978" stop-color="#ff3000"/><stop offset=".989" stop-color="#ff0c00"/><stop offset="1" stop-color="#f70000"/></linearGradient>
<linearGradient id="a35" x1="0" y1="0" x2="0" y2="1"><stop offset="0" stop-color="#0001ff"/><stop offset=".022" stop-color="#0001ff"/><stop offset=".043" stop-color="#000aff"/><stop offset=".065" stop-color="#000dff"/><stop offset=".086" stop-color="#0000ef"/><stop offset=".108" stop-color="#0000ef"/><stop offset=".129" stop-color="#0040ff"/><stop offset=".151" stop-color="#00adff"/><stop offset=".172" stop-color="#1fffe0"/><stop offset=".194" stop-color="#61ff9e"/><stop offset=".215" stop-color="#97ff68"/><stop offset=".237" stop-color="#bf4"/><stop offset=".258" stop-color="#cfff30"/><stop offset=".28" stop-color="#d7ff28"/><stop offset=".301" stop-color="#d9ff26"/><stop offset=".323" stop-color="#d2ff2d"/><stop offset=".344" stop-color="#c7ff38"/><stop offset=".366" stop-color="#b3ff4c"/><stop offset=".387" stop-color="#8eff71"/><stop offset=".409" stop-color="#4bffb4"/><stop offset=".43" stop-color="#03fffc"/><stop offset=".452" stop-color="#00c8ff"/><stop offset=".473" stop-color="#00c4ff"/><stop offset=".495" stop-color="#00c4ff"/><stop offset=".516" stop-color="#00adff"/><stop offset=".538" stop-color="#0095ff"/><stop offset=".559" stop-color="#008cff"/><stop offset=".581" stop-color="#008bff"/><stop offset=".602" stop-color="#0091ff"/><stop offset=".624" stop-color="#09f"/><stop offset=".645" stop-color="#009eff"/><stop offset=".667" stop-color="#0082ff"/><stop offset=".688" stop-color="#0049ff"/><stop offset=".71" stop-color="#0085ff"/><stop offset=".731" stop-color="#00e5ff"/><stop offset=".753" stop-color="#00faff"/><stop offset=".774" stop-color="#0efff1"/><stop offset=".796" stop-color="#2affd5"/><stop offset=".817" stop-color="#45ffba"/><stop offset=".839" stop-color="#9bff64"/><stop offset=".86" stop-color="#ecff13"/><stop offset=".882" stop-color="#ffe000"/><stop offset=".903" stop-color="#ffc200"/><stop offset=".925" stop-color="#ffb400"/><stop offset=".935" stop-color="#ffae00"/><stop offset=".946" stop-color="#ffa400"/><stop offset=".957" stop-color="#ff8f00"/><stop offset=".968" stop-color="#ff6a00"/><stop offset=".978" stop-color="#ff3b00"/><stop offset=".989" stop-color="#ff1400"/><stop offset="1" stop-color="#fd0000"/></linearGradient>
<linearGradient id="a36" x1="0" y1="0" x2="0" y2="1"><stop offset="0" stop-color="#0000f0"/><stop offset=".022" stop-color="#0000f0"/><stop offset=".043" stop-color="#0000fb"/><stop offset=".065" stop-color="#00f"/><stop offset=".086" stop-color="#0000e2"/><stop offset=".108" stop-color="#0000df"/><stop offset=".129" stop-color="#0027ff"/><stop offset=".151" stop-color="#0094ff"/><stop offset=".172" stop-color="#12ffed"/><stop offset=".194" stop-color="#54ffab"/><stop offset=".215" stop-color="#85ff7a"/><stop offset=".237" stop-color="#abff54"/><stop offset=".258" stop-color="#c1ff3e"/><stop offset=".28" stop-color="#caff35"/><stop offset=".301" stop-color="#cf3"/><stop offset=".323" stop-color="#c4ff3b"/><stop offset=".344" stop-color="#b7ff48"/><stop offset=".366" stop-color="#a5ff5a"/><stop offset=".387" stop-color="#80ff7f"/><stop offset=".409" stop-color="#3cffc3"/><stop offset=".43" stop-color="#00f2ff"/><stop offset=".452" stop-color="#00baff"/><stop offset=".473" stop-color="#00b5ff"/><stop offset=".495" stop-color="#00b5ff"/><stop offset=".516" stop-color="#00a3ff"/><stop offset=".538" stop-color="#0091ff"/><stop offset=".559" stop-color="#008bff"/><stop offset=".581" stop-color="#008aff"/><stop offset=".602" stop-color="#008eff"/><stop offset=".624" stop-color="#0091ff"/><stop offset=".645" stop-color="#0092ff"/><stop offset=".667" stop-color="#0079ff"/><stop offset=".688" stop-color="#0048ff"/><stop offset=".71" stop-color="#007eff"/><stop offset=".731" stop-color="#00d2ff"/><stop offset=".753" stop-color="#00e4ff"/><stop offset=".774" stop-color="#00f5ff"/><stop offset=".796" stop-color="#1fe"/><stop offset=".817" stop-color="#34ffcb"/><stop offset=".839" stop-color="#8cff73"/><stop offset=".86" stop-color="#daff25"/><stop offset=".882" stop-color="#ffef00"/><stop offset=".903" stop-color="#ffce00"/><stop offset=".925" stop-color="#ffc000"/><stop offset=".935" stop-color="#ffba00"/><stop offset=".946" stop-color="#ffb200"/><stop offset=".957" stop-color="#ff9d00"/><stop offset=".968" stop-color="#ff7500"/><stop offset=".978" stop-color="#ff4500"/><stop offset=".989" stop-color="#ff1c00"/><stop offset="1" stop-color="#ff0300"/></linearGradient>
<linearGradient id="a37" x1="0" y1="0" x2="0" y2="1"><stop offset="0" stop-color="#0000e0"/><stop offset=".022" stop-color="#0000e1"/><stop offset=".043" stop-color="#0000ec"/><stop offset=".065" stop-color="#0000f1"/><stop offset=".086" stop-color="#0000d5"/><stop offset=".108" stop-color="#0000d1"/><stop offset=".129" stop-color="#000eff"/><stop offset=".151" stop-color="#0079ff"/><stop offset=".172" stop-color="#04fffb"/><stop offset=".194" stop-color="#48ffb7"/><stop offset=".215" stop-color="#74ff8b"/><stop offset=".237" stop-color="#9bff64"/><stop offset=".258" stop-color="#b4ff4b"/><stop offset=".28" stop-color="#bdff42"/><stop offset=".301" stop-color="#bfff40"/><stop offset=".323" stop-color="#b5ff4a"/><stop offset=".344" stop-color="#a8ff57"/><stop offset=".366" stop-color="#97ff68"/><stop offset=".387" stop-color="#73ff8c"/><stop offset=".409" stop-color="#2cffd3"/><stop offset=".43" stop-color="#00e3ff"/><stop offset=".452" stop-color="#00acff"/><stop offset=".473" stop-color="#00a8ff"/><stop offset=".495" stop-color="#00a8ff"/><stop offset=".516" stop-color="#009aff"/><stop offset=".538" stop-color="#008dff"/><stop offset=".559" stop-color="#008aff"/><stop offset=".581" stop-color="#008aff"/><stop offset=".602" stop-color="#008bff"/><stop offset=".624" stop-color="#008bff"/><stop offset=".645" stop-color="#0089ff"/><stop offset=".667" stop-color="#0070ff"/><stop offset=".688" stop-color="#0047ff"/><stop offset=".71" stop-color="#0076ff"/><stop offset=".731" stop-color="#00c0ff"/><stop offset=".753" stop-color="#00d0ff"/><stop offset=".774" stop-color="#00deff"/><stop offset=".796" stop-color="#00f7ff"/><stop offset=".817" stop-color="#2fd"/><stop offset=".839" stop-color="#7cff83"/><stop offset=".86" stop-color="#c9ff36"/><stop offset=".882" stop-color="#fffd00"/><stop offset=".903" stop-color="#ffd900"/><stop offset=".925" stop-color="#ffca00"/><stop offset=".935" stop-color="#ffc500"/><stop offset=".946" stop-color="#ffbe00"/><stop offset=".957" stop-color="#ffa900"/><stop offset=".968" stop-color="#ff8000"/><stop offset=".978" stop-color="#ff4e00"/><stop offset=".989" stop-color="#ff2300"/><stop offset="1" stop-color="#ff0700"/></linearGradient>
<linearGradient id="a38" x1="0" y1="0" x2="0" y2="1"><stop offset="0" stop-color="#0000d2"/><stop offset=".022" stop-color="#0000d3"/><stop offset=".043" stop-color="#0000df"/><stop offset=".065" stop-color="#0000e4"/><stop offset=".086" stop-color="#0000ca"/><stop offset=".108" stop-color="#0000c5"/><stop offset=".129" stop-color="#0000f7"/><stop offset=".151" stop-color="#0060ff"/><stop offset=".172" stop-color="#00f4ff"/><stop offset=".194" stop-color="#3cffc3"/><stop offset=".215" stop-color="#67ff98"/><stop offset=".237" stop-color="#8eff71"/><stop offset=".258" stop-color="#a9ff56"/><stop offset=".28" stop-color="#b1ff4e"/><stop offset=".301" stop-color="#b3ff4c"/><stop offset=".323" stop-color="#a9ff56"/><stop offset=".344" stop-color="#9bff64"/><stop offset=".366" stop-color="#8cff73"/><stop offset=".387" stop-color="#68ff97"/><stop offset=".409" stop-color="#1effe1"/><stop offset=".43" stop-color="#00d7ff"/><stop offset=".452" stop-color="#00a3ff"/><stop offset=".473" stop-color="#009fff"/><stop offset=".495" stop-color="#009fff"/><stop offset=".516" stop-color="#0093ff"/><stop offset=".538" stop-color="#008aff"/><stop offset=".559" stop-color="#008aff"/><stop offset=".581" stop-color="#008aff"/><stop offset=".602" stop-color="#008aff"/><stop offset=".624" stop-color="#0089ff"/><stop offset=".645" stop-color="#0083ff"/><stop offset=".667" stop-color="#006bff"/><stop offset=".688" stop-color="#0047ff"/><stop offset=".71" stop-color="#0070ff"/><stop offset=".731" stop-color="#00b2ff"/><stop offset=".753" stop-color="#00c0ff"/><stop offset=".774" stop-color="#0cf"/><stop offset=".796" stop-color="#00e1ff"/><stop offset=".817" stop-color="#10ffef"/><stop offset=".839" stop-color="#6eff91"/><stop offset=".86" stop-color="#bf4"/><stop offset=".882" stop-color="#f6ff09"/><stop offset=".903" stop-color="#ffe300"/><stop offset=".925" stop-color="#ffd200"/><stop offset=".935" stop-color="#ffcd00"/><stop offset=".946" stop-color="#ffc700"/><stop offset=".957" stop-color="#ffb200"/><stop offset=".968" stop-color="#f80"/><stop offset=".978" stop-color="#ff5400"/><stop offset=".989" stop-color="#ff2700"/><stop offset="1" stop-color="#ff0b00"/></linearGradient>
<linearGradient id="a39" x1="0" y1="0" x2="0" y2="1"><stop offset="0" stop-color="#0000c6"/><stop offset=".022" stop-color="#0000c6"/><stop offset=".043" stop-color="#0000d0"/><stop offset=".065" stop-color="#0000d5"/><stop offset=".086" stop-color="#0000bf"/><stop offset=".108" stop-color="#00b"/><stop offset=".129" stop-color="#0000e5"/><stop offset=".151" stop-color="#0049ff"/><stop offset=".172" stop-color="#00e3ff"/><stop offset=".194" stop-color="#32ffcd"/><stop offset=".215" stop-color="#5cffa3"/><stop offset=".237" stop-color="#84ff7b"/><stop offset=".258" stop-color="#9fff60"/><stop offset=".28" stop-color="#a6ff59"/><stop offset=".301" stop-color="#a7ff58"/><stop offset=".323" stop-color="#9eff61"/><stop offset=".344" stop-color="#91ff6e"/><stop offset=".366" stop-color="#82ff7d"/><stop offset=".387" stop-color="#5dffa2"/><stop offset=".409" stop-color="#12ffed"/><stop offset=".43" stop-color="#00cfff"/><stop offset=".452" stop-color="#00a0ff"/><stop offset=".473" stop-color="#009bff"/><stop offset=".495" stop-color="#09f"/><stop offset=".516" stop-color="#008fff"/><stop offset=".538" stop-color="#08f"/><stop offset=".559" stop-color="#0089ff"/><stop offset=".581" stop-color="#008aff"/><stop offset=".602" stop-color="#008aff"/><stop offset=".624" stop-color="#08f"/><stop offset=".645" stop-color="#0080ff"/><stop offset=".667" stop-color="#0068ff"/><stop offset=".688" stop-color="#0047ff"/><stop offset=".71" stop-color="#006dff"/><stop offset=".731" stop-color="#00a7ff"/><stop offset=".753" stop-color="#00b4ff"/><stop offset=".774" stop-color="#00bdff"/><stop offset=".796" stop-color="#00ceff"/><stop offset=".817" stop-color="#00fcff"/><stop offset=".839" stop-color="#60ff9f"/><stop offset=".86" stop-color="#b0ff4f"/><stop offset=".882" stop-color="#ef1"/><stop offset=".903" stop-color="#ffeb00"/><stop offset=".925" stop-color="#ffd800"/><stop offset=".935" stop-color="#ffd300"/><stop offset=".946" stop-color="#ffcd00"/><stop offset=".957" stop-color="#ffb800"/><stop offset=".968" stop-color="#ff8d00"/><stop offset=".978" stop-color="#ff5800"/><stop offset=".989" stop-color="#ff2b00"/><stop offset="1" stop-color="#ff0e00"/></linearGradient>
<linearGradient id="a40" x1="0" y1="0" x2="0" y2="1"><stop offset="0" stop-color="#0000b9"/><stop offset=".022" stop-color="#0000b9"/><stop offset=".043" stop-color="#0000c0"/><stop offset=".065" stop-color="#0000c3"/><stop offset=".086" stop-color="#0000b5"/><stop offset=".108" stop-color="#0000b2"/><stop offset=".129" stop-color="#0000d4"/><stop offset=".151" stop-color="#0030ff"/><stop offset=".172" stop-color="#00cfff"/><stop offset=".194" stop-color="#27ffd8"/><stop offset=".215" stop-color="#51ffae"/><stop offset=".237" stop-color="#7aff85"/><stop offset=".258" stop-color="#95ff6a"/><stop offset=".28" stop-color="#9aff65"/><stop offset=".301" stop-color="#9bff64"/><stop offset=".323" stop-color="#93ff6c"/><stop offset=".344" stop-color="#87ff78"/><stop offset=".366" stop-color="#78ff87"/><stop offset=".387" stop-color="#54ffab"/><stop offset=".409" stop-color="#08fff7"/><stop offset=".43" stop-color="#00c8ff"/><stop offset=".452" stop-color="#009eff"/><stop offset=".473" stop-color="#0098ff"/><stop offset=".495" stop-color="#0095ff"/><stop offset=".516" stop-color="#008cff"/><stop offset=".538" stop-color="#0086ff"/><stop offset=".559" stop-color="#08f"/><stop offset=".581" stop-color="#008aff"/><stop offset=".602" stop-color="#008aff"/><stop offset=".624" stop-color="#08f"/><stop offset=".645" stop-color="#007fff"/><stop offset=".667" stop-color="#0067ff"/><stop offset=".688" stop-color="#0049ff"/><stop offset=".71" stop-color="#006bff"/><stop offset=".731" stop-color="#009fff"/><stop offset=".753" stop-color="#00a9ff"/><stop offset=".774" stop-color="#00b0ff"/><stop offset=".796" stop-color="#00bcff"/><stop offset=".817" stop-color="#00e8ff"/><stop offset=".839" stop-color="#52ffad"/><stop offset=".86" stop-color="#a7ff58"/><stop offset=".882" stop-color="#e7ff18"/><stop offset=".903" stop-color="#fff300"/><stop offset=".925" stop-color="#ffde00"/><stop offset=".935" stop-color="#ffd800"/><stop offset=".946" stop-color="#ffd200"/><stop offset=".957" stop-color="#ffbd00"/><stop offset=".968" stop-color="#ff9200"/><stop offset=".978" stop-color="#ff5c00"/><stop offset=".989" stop-color="#ff2d00"/><stop offset="1" stop-color="#ff1000"/></linearGradient>
<linearGradient id="a41" x1="0" y1="0" x2="0" y2="1"><stop offset="0" stop-color="#0000ad"/><stop offset=".022" stop-color="#0000ad"/><stop offset=".043" stop-color="#0000b1"/><stop offset=".065" stop-color="#0000b3"/><stop offset=".086" stop-color="#0000ab"/><stop offset=".108" stop-color="#00a"/><stop offset=".129" stop-color="#0000c4"/><stop offset=".151" stop-color="#0018ff"/><stop offset=".172" stop-color="#0bf"/><stop offset=".194" stop-color="#1dffe2"/><stop offset=".215" stop-color="#49ffb6"/><stop offset=".237" stop-color="#72ff8d"/><stop offset=".258" stop-color="#8cff73"/><stop offset=".28" stop-color="#90ff6f"/><stop offset=".301" stop-color="#90ff6f"/><stop offset=".323" stop-color="#89ff76"/><stop offset=".344" stop-color="#7fff80"/><stop offset=".366" stop-color="#70ff8f"/><stop offset=".387" stop-color="#4bffb4"/><stop offset=".409" stop-color="#00fdff"/><stop offset=".43" stop-color="#00c2ff"/><stop offset=".452" stop-color="#009cff"/><stop offset=".473" stop-color="#0095ff"/><stop offset=".495" stop-color="#0092ff"/><stop offset=".516" stop-color="#0089ff"/><stop offset=".538" stop-color="#0085ff"/><stop offset=".559" stop-color="#08f"/><stop offset=".581" stop-color="#008aff"/><stop offset=".602" stop-color="#008aff"/><stop offset=".624" stop-color="#08f"/><stop offset=".645" stop-color="#007eff"/><stop offset=".667" stop-color="#0067ff"/><stop offset=".688" stop-color="#004cff"/><stop offset=".71" stop-color="#006aff"/><stop offset=".731" stop-color="#0098ff"/><stop offset=".753" stop-color="#00a0ff"/><stop offset=".774" stop-color="#00a4ff"/><stop offset=".796" stop-color="#00abff"/><stop offset=".817" stop-color="#00d4ff"/><stop offset=".839" stop-color="#45ffba"/><stop offset=".86" stop-color="#9eff61"/><stop offset=".882" stop-color="#e1ff1e"/><stop offset=".903" stop-color="#fff900"/><stop offset=".925" stop-color="#ffe200"/><stop offset=".935" stop-color="#ffdc00"/><stop offset=".946" stop-color="#ffd600"/><stop offset=".957" stop-color="#ffc100"/><stop offset=".968" stop-color="#ff9600"/><stop offset=".978" stop-color="#ff5e00"/><stop offset=".989" stop-color="#ff3000"/><stop offset="1" stop-color="#ff1300"/></linearGradient>
<linearGradient id="a42" x1="0" y1="0" x2="0" y2="1"><stop offset="0" stop-color="#0000a4"/><stop offset=".022" stop-color="#0000a4"/><stop offset=".043" stop-color="#0000a5"/><stop offset=".065" stop-color="#0000a5"/><stop offset=".086" stop-color="#0000a3"/><stop offset=".108" stop-color="#0000a4"/><stop offset=".129" stop-color="#0000b7"/><stop offset=".151" stop-color="#0005ff"/><stop offset=".172" stop-color="#0af"/><stop offset=".194" stop-color="#14ffeb"/><stop offset=".215" stop-color="#42ffbd"/><stop offset=".237" stop-color="#6bff94"/><stop offset=".258" stop-color="#85ff7a"/><stop offset=".28" stop-color="#86ff79"/><stop offset=".301" stop-color="#86ff79"/><stop offset=".323" stop-color="#81ff7e"/><stop offset=".344" stop-color="#78ff87"/><stop offset=".366" stop-color="#69ff96"/><stop offset=".387" stop-color="#42ffbd"/><stop offset=".409" stop-color="#00f2ff"/><stop offset=".43" stop-color="#00bcff"/><stop offset=".452" stop-color="#009aff"/><stop offset=".473" stop-color="#0092ff"/><stop offset=".495" stop-color="#008eff"/><stop offset=".516" stop-color="#0086ff"/><stop offset=".538" stop-color="#0083ff"/><stop offset=".559" stop-color="#0087ff"/><stop offset=".581" stop-color="#008aff"/><stop offset=".602" stop-color="#008aff"/><stop offset=".624" stop-color="#0087ff"/><stop offset=".645" stop-color="#007cff"/><stop offset=".667" stop-color="#06f"/><stop offset=".688" stop-color="#004eff"/><stop offset=".71" stop-color="#0068ff"/><stop offset=".731" stop-color="#0090ff"/><stop offset=".753" stop-color="#0098ff"/><stop offset=".774" stop-color="#009bff"/><stop offset=".796" stop-color="#009dff"/><stop offset=".817" stop-color="#00c2ff"/><stop offset=".839" stop-color="#39ffc6"/><stop offset=".86" stop-color="#97ff68"/><stop offset=".882" stop-color="#dbff24"/><stop offset=".903" stop-color="#ff0"/><stop offset=".925" stop-color="#ffe600"/><stop offset=".935" stop-color="#ffe000"/><stop offset=".946" stop-color="#ffda00"/><stop offset=".957" stop-color="#ffc500"/><stop offset=".968" stop-color="#f90"/><stop offset=".978" stop-color="#ff6100"/><stop offset=".989" stop-color="#ff3100"/><stop offset="1" stop-color="#ff1400"/></linearGradient>
<linearGradient id="a43" x1="0" y1="0" x2="0" y2="1"><stop offset="0" stop-color="#00009e"/><stop offset=".022" stop-color="#00009e"/><stop offset=".043" stop-color="#00009e"/><stop offset=".065" stop-color="#00009e"/><stop offset=".086" stop-color="#00009e"/><stop offset=".108" stop-color="#0000a0"/><stop offset=".129" stop-color="#0000af"/><stop offset=".151" stop-color="#0000f7"/><stop offset=".172" stop-color="#009dff"/><stop offset=".194" stop-color="#0dfff2"/><stop offset=".215" stop-color="#3dffc2"/><stop offset=".237" stop-color="#6f9"/><stop offset=".258" stop-color="#7eff81"/><stop offset=".28" stop-color="#7fff80"/><stop offset=".301" stop-color="#7fff80"/><stop offset=".323" stop-color="#7aff85"/><stop offset=".344" stop-color="#71ff8e"/><stop offset=".366" stop-color="#62ff9d"/><stop offset=".387" stop-color="#39ffc6"/><stop offset=".409" stop-color="#00e6ff"/><stop offset=".43" stop-color="#00b3ff"/><stop offset=".452" stop-color="#0096ff"/><stop offset=".473" stop-color="#008eff"/><stop offset=".495" stop-color="#0089ff"/><stop offset=".516" stop-color="#0082ff"/><stop offset=".538" stop-color="#0080ff"/><stop offset=".559" stop-color="#0086ff"/><stop offset=".581" stop-color="#0089ff"/><stop offset=".602" stop-color="#0089ff"/><stop offset=".624" stop-color="#0087ff"/><stop offset=".645" stop-color="#007aff"/><stop offset=".667" stop-color="#0064ff"/><stop offset=".688" stop-color="#004eff"/><stop offset=".71" stop-color="#0065ff"/><stop offset=".731" stop-color="#08f"/><stop offset=".753" stop-color="#0091ff"/><stop offset=".774" stop-color="#0093ff"/><stop offset=".796" stop-color="#0093ff"/><stop offset=".817" stop-color="#00b5ff"/><stop offset=".839" stop-color="#2fffd0"/><stop offset=".86" stop-color="#92ff6d"/><stop offset=".882" stop-color="#d6ff29"/><stop offset=".903" stop-color="#faff05"/><stop offset=".925" stop-color="#ffea00"/><stop offset=".935" stop-color="#ffe300"/><stop offset=".946" stop-color="#fd0"/><stop offset=".957" stop-color="#ffc800"/><stop offset=".968" stop-color="#ff9c00"/><stop offset=".978" stop-color="#ff6200"/><stop offset=".989" stop-color="#ff3100"/><stop offset="1" stop-color="#ff1500"/></linearGradient>
<linearGradient id="a44" x1="0" y1="0" x2="0" y2="1"><stop offset="0" stop-color="#00009b"/><stop offset=".022" stop-color="#00009b"/><stop offset=".043" stop-color="#00009a"/><stop offset=".065" stop-color="#00009a"/><stop offset=".086" stop-color="#00009b"/><stop offset=".108" stop-color="#00009c"/><stop offset=".129" stop-color="#00a"/><stop offset=".151" stop-color="#00e"/><stop offset=".172" stop-color="#0094ff"/><stop offset=".194" stop-color="#06fff9"/><stop offset=".215" stop-color="#39ffc6"/><stop offset=".237" stop-color="#62ff9d"/><stop offset=".258" stop-color="#79ff86"/><stop offset=".28" stop-color="#7aff85"/><stop offset=".301" stop-color="#79ff86"/><stop offset=".323" stop-color="#75ff8a"/><stop offset=".344" stop-color="#6cff93"/><stop offset=".366" stop-color="#5bffa4"/><stop offset=".387" stop-color="#2fffd0"/><stop offset=".409" stop-color="#00d7ff"/><stop offset=".43" stop-color="#00a7ff"/><stop offset=".452" stop-color="#008dff"/><stop offset=".473" stop-color="#0086ff"/><stop offset=".495" stop-color="#0083ff"/><stop offset=".516" stop-color="#007cff"/><stop offset=".538" stop-color="#007aff"/><stop offset=".559" stop-color="#0081ff"/><stop offset=".581" stop-color="#0084ff"/><stop offset=".602" stop-color="#0084ff"/><stop offset=".624" stop-color="#0082ff"/><stop offset=".645" stop-color="#0074ff"/><stop offset=".667" stop-color="#005fff"/><stop offset=".688" stop-color="#004aff"/><stop offset=".71" stop-color="#005cff"/><stop offset=".731" stop-color="#007cff"/><stop offset=".753" stop-color="#0089ff"/><stop offset=".774" stop-color="#008dff"/><stop offset=".796" stop-color="#008cff"/><stop offset=".817" stop-color="#0af"/><stop offset=".839" stop-color="#24ffdb"/><stop offset=".86" stop-color="#8cff73"/><stop offset=".882" stop-color="#d2ff2d"/><stop offset=".903" stop-color="#f7ff08"/><stop offset=".925" stop-color="#ffec00"/><stop offset=".935" stop-color="#ffe500"/><stop offset=".946" stop-color="#ffdf00"/><stop offset=".957" stop-color="#ffcb00"/><stop offset=".968" stop-color="#ff9e00"/><stop offset=".978" stop-color="#ff6300"/><stop offset=".989" stop-color="#ff3100"/><stop offset="1" stop-color="#ff1500"/></linearGradient>
<linearGradient id="a45" x1="0" y1="0" x2="0" y2="1"><stop offset="0" stop-color="#000098"/><stop offset=".022" stop-color="#000098"/><stop offset=".043" stop-color="#000098"/><stop offset=".065" stop-color="#000098"/><stop offset=".086" stop-color="#000098"/><stop offset=".108" stop-color="#009"/><stop offset=".129" stop-color="#0000a6"/><stop offset=".151" stop-color="#0000e7"/><stop offset=".172" stop-color="#008bff"/><stop offset=".194" stop-color="#0ff"/><stop offset=".215" stop-color="#36ffc9"/><stop offset=".237" stop-color="#5effa1"/><stop offset=".258" stop-color="#74ff8b"/><stop offset=".28" stop-color="#75ff8a"/><stop offset=".301" stop-color="#74ff8b"/><stop offset=".323" stop-color="#70ff8f"/><stop offset=".344" stop-color="#67ff98"/><stop offset=".366" stop-color="#5fa"/><stop offset=".387" stop-color="#25ffda"/><stop offset=".409" stop-color="#00c6ff"/><stop offset=".43" stop-color="#0095ff"/><stop offset=".452" stop-color="#007eff"/><stop offset=".473" stop-color="#007cff"/><stop offset=".495" stop-color="#007bff"/><stop offset=".516" stop-color="#0074ff"/><stop offset=".538" stop-color="#0070ff"/><stop offset=".559" stop-color="#0076ff"/><stop offset=".581" stop-color="#0079ff"/><stop offset=".602" stop-color="#0079ff"/><stop offset=".624" stop-color="#07f"/><stop offset=".645" stop-color="#006aff"/><stop offset=".667" stop-color="#05f"/><stop offset=".688" stop-color="#003fff"/><stop offset=".71" stop-color="#004fff"/><stop offset=".731" stop-color="#006fff"/><stop offset=".753" stop-color="#0081ff"/><stop offset=".774" stop-color="#08f"/><stop offset=".796" stop-color="#0086ff"/><stop offset=".817" stop-color="#00a1ff"/><stop offset=".839" stop-color="#1affe5"/><stop offset=".86" stop-color="#87ff78"/><stop offset=".882" stop-color="#cdff32"/><stop offset=".903" stop-color="#f3ff0c"/><stop offset=".925" stop-color="#ffef00"/><stop offset=".935" stop-color="#ffe800"/><stop offset=".946" stop-color="#ffe200"/><stop offset=".957" stop-color="#ffce00"/><stop offset=".968" stop-color="#ffa100"/><stop offset=".978" stop-color="#ff6300"/><stop offset=".989" stop-color="#ff3100"/><stop offset="1" stop-color="#ff1500"/></linearGradient>
<linearGradient id="a46" x1="0" y1="0" x2="0" y2="1"><stop offset="0" stop-color="#000096"/><stop offset=".022" stop-color="#000096"/><stop offset=".043" stop-color="#000096"/><stop offset=".065" stop-color="#000096"/><stop offset=".086" stop-color="#000096"/><stop offset=".108" stop-color="#000097"/><stop offset=".129" stop-color="#0000a2"/><stop offset=".151" stop-color="#0000e1"/><stop offset=".172" stop-color="#0084ff"/><stop offset=".194" stop-color="#00faff"/><stop offset=".215" stop-color="#3fc"/><stop offset=".237" stop-color="#5bffa4"/><stop offset=".258" stop-color="#70ff8f"/><stop offset=".28" stop-color="#71ff8e"/><stop offset=".301" stop-color="#70ff8f"/><stop offset=".323" stop-color="#6cff93"/><stop offset=".344" stop-color="#63ff9c"/><stop offset=".366" stop-color="#4fffb0"/><stop offset=".387" stop-color="#1bffe4"/><stop offset=".409" stop-color="#00b5ff"/><stop offset=".43" stop-color="#0083ff"/><stop offset=".452" stop-color="#006cff"/><stop offset=".473" stop-color="#006eff"/><stop offset=".495" stop-color="#0072ff"/><stop offset=".516" stop-color="#006aff"/><stop offset=".538" stop-color="#0064ff"/><stop offset=".559" stop-color="#0068ff"/><stop offset=".581" stop-color="#006aff"/><stop offset=".602" stop-color="#006aff"/><stop offset=".624" stop-color="#0068ff"/><stop offset=".645" stop-color="#005eff"/><stop offset=".667" stop-color="#0049ff"/><stop offset=".688" stop-color="#0032ff"/><stop offset=".71" stop-color="#0042ff"/><stop offset=".731" stop-color="#0062ff"/><stop offset=".753" stop-color="#0079ff"/><stop offset=".774" stop-color="#0083ff"/><stop offset=".796" stop-color="#0081ff"/><stop offset=".817" stop-color="#09f"/><stop offset=".839" stop-color="#12ffed"/><stop offset=".86" stop-color="#83ff7c"/><stop offset=".882" stop-color="#c9ff36"/><stop offset=".903" stop-color="#f0ff0f"/><stop offset=".925" stop-color="#fff100"/><stop offset=".935" stop-color="#ffeb00"/><stop offset=".946" stop-color="#ffe500"/><stop offset=".957" stop-color="#ffd000"/><stop offset=".968" stop-color="#ffa300"/><stop offset=".978" stop-color="#ff6400"/><stop offset=".989" stop-color="#ff3100"/><stop offset="1" stop-color="#ff1500"/></linearGradient>
<linearGradient id="a47" x1="0" y1="0" x2="0" y2="1"><stop offset="0" stop-color="#000094"/><stop offset=".022" stop-color="#000094"/><stop offset=".043" stop-color="#000094"/><stop offset=".065" stop-color="#000094"/><stop offset=".086" stop-color="#000094"/><stop offset=".108" stop-color="#000096"/><stop offset=".129" stop-color="#0000a0"/><stop offset=".151" stop-color="#0000de"/><stop offset=".172" stop-color="#0080ff"/><stop offset=".194" stop-color="#00f7ff"/><stop offset=".215" stop-color="#32ffcd"/><stop offset=".237" stop-color="#59ffa6"/><stop offset=".258" stop-color="#6dff92"/><stop offset=".28" stop-color="#6dff92"/><stop offset=".301" stop-color="#6dff92"/><stop offset=".323" stop-color="#69ff96"/><stop offset=".344" stop-color="#5fffa0"/><stop offset=".366" stop-color="#4bffb4"/><stop offset=".387" stop-color="#13ffec"/><stop offset=".409" stop-color="#00a5ff"/><stop offset=".43" stop-color="#0071ff"/><stop offset=".452" stop-color="#005bff"/><stop offset=".473" stop-color="#0060ff"/><stop offset=".495" stop-color="#0068ff"/><stop offset=".516" stop-color="#005fff"/><stop offset=".538" stop-color="#0057ff"/><stop offset=".559" stop-color="#0058ff"/><stop offset=".581" stop-color="#0059ff"/><stop offset=".602" stop-color="#0059ff"/><stop offset=".624" stop-color="#0057ff"/><stop offset=".645" stop-color="#0050ff"/><stop offset=".667" stop-color="#003cff"/><stop offset=".688" stop-color="#0025ff"/><stop offset=".71" stop-color="#0035ff"/><stop offset=".731" stop-color="#0059ff"/><stop offset=".753" stop-color="#0074ff"/><stop offset=".774" stop-color="#0080ff"/><stop offset=".796" stop-color="#007eff"/><stop offset=".817" stop-color="#0094ff"/><stop offset=".839" stop-color="#0cfff3"/><stop offset=".86" stop-color="#81ff7e"/><stop offset=".882" stop-color="#c7ff38"/><stop offset=".903" stop-color="#ef1"/><stop offset=".925" stop-color="#fff300"/><stop offset=".935" stop-color="#ffec00"/><stop offset=".946" stop-color="#ffe600"/><stop offset=".957" stop-color="#ffd200"/><stop offset=".968" stop-color="#ffa400"/><stop offset=".978" stop-color="#ff6400"/><stop offset=".989" stop-color="#ff3100"/><stop offset="1" stop-color="#ff1500"/></linearGradient>
<linearGradient id="a48" x1="0" y1="0" x2="0" y2="1"><stop offset="0" stop-color="#000094"/><stop offset=".022" stop-color="#000094"/><stop offset=".043" stop-color="#000094"/><stop offset=".065" stop-color="#000094"/><stop offset=".086" stop-color="#000094"/><stop offset=".108" stop-color="#000095"/><stop offset=".129" stop-color="#00009f"/><stop offset=".151" stop-color="#00d"/><stop offset=".172" stop-color="#007eff"/><stop offset=".194" stop-color="#00f6ff"/><stop offset=".215" stop-color="#32ffcd"/><stop offset=".237" stop-color="#57ffa8"/><stop offset=".258" stop-color="#6aff95"/><stop offset=".28" stop-color="#6aff95"/><stop offset=".301" stop-color="#6aff95"/><stop offset=".323" stop-color="#6f9"/><stop offset=".344" stop-color="#5cffa3"/><stop offset=".366" stop-color="#47ffb8"/><stop offset=".387" stop-color="#0dfff2"/><stop offset=".409" stop-color="#0098ff"/><stop offset=".43" stop-color="#0061ff"/><stop offset=".452" stop-color="#004aff"/><stop offset=".473" stop-color="#0052ff"/><stop offset=".495" stop-color="#005cff"/><stop offset=".516" stop-color="#0052ff"/><stop offset=".538" stop-color="#0048ff"/><stop offset=".559" stop-color="#0048ff"/><stop offset=".581" stop-color="#0048ff"/><stop offset=".602" stop-color="#0048ff"/><stop offset=".624" stop-color="#0047ff"/><stop offset=".645" stop-color="#0041ff"/><stop offset=".667" stop-color="#0030ff"/><stop offset=".688" stop-color="#001aff"/><stop offset=".71" stop-color="#002eff"/><stop offset=".731" stop-color="#0056ff"/><stop offset=".753" stop-color="#0073ff"/><stop offset=".774" stop-color="#0080ff"/><stop offset=".796" stop-color="#007eff"/><stop offset=".817" stop-color="#0094ff"/><stop offset=".839" stop-color="#0bfff4"/><stop offset=".86" stop-color="#80ff7f"/><stop offset=".882" stop-color="#c6ff39"/><stop offset=".903" stop-color="#edff12"/><stop offset=".925" stop-color="#fff300"/><stop offset=".935" stop-color="#ffec00"/><stop offset=".946" stop-color="#ffe700"/><stop offset=".957" stop-color="#ffd200"/><stop offset=".968" stop-color="#ffa500"/><stop offset=".978" stop-color="#ff6500"/><stop offset=".989" stop-color="#ff3100"/><stop offset="1" stop-color="#ff1400"/></linearGradient>
<linearGradient id="a49" x1="0" y1="0" x2="0" y2="1"><stop offset="0" stop-color="#000094"/><stop offset=".022" stop-color="#000094"/><stop offset=".043" stop-color="#000094"/><stop offset=".065" stop-color="#000094"/><stop offset=".086" stop-color="#000094"/><stop offset=".108" stop-color="#000095"/><stop offset=".129" stop-color="#00009f"/><stop offset=".151" stop-color="#00d"/><stop offset=".172" stop-color="#007eff"/><stop offset=".194" stop-color="#00f6ff"/><stop offset=".215" stop-color="#32ffcd"/><stop offset=".237" stop-color="#5fa"/><stop offset=".258" stop-color="#67ff98"/><stop offset=".28" stop-color="#67ff98"/><stop offset=".301" stop-color="#67ff98"/><stop offset=".323" stop-color="#63ff9c"/><stop offset=".344" stop-color="#59ffa6"/><stop offset=".366" stop-color="#4fb"/><stop offset=".387" stop-color="#08fff7"/><stop offset=".409" stop-color="#008cff"/><stop offset=".43" stop-color="#0051ff"/><stop offset=".452" stop-color="#0038ff"/><stop offset=".473" stop-color="#0040ff"/><stop offset=".495" stop-color="#004cff"/><stop offset=".516" stop-color="#0041ff"/><stop offset=".538" stop-color="#0035ff"/><stop offset=".559" stop-color="#0032ff"/><stop offset=".581" stop-color="#0031ff"/><stop offset=".602" stop-color="#0031ff"/><stop offset=".624" stop-color="#0031ff"/><stop offset=".645" stop-color="#002eff"/><stop offset=".667" stop-color="#02f"/><stop offset=".688" stop-color="#000fff"/><stop offset=".71" stop-color="#0028ff"/><stop offset=".731" stop-color="#0057ff"/><stop offset=".753" stop-color="#0073ff"/><stop offset=".774" stop-color="#0081ff"/><stop offset=".796" stop-color="#0082ff"/><stop offset=".817" stop-color="#009aff"/><stop offset=".839" stop-color="#0dfff2"/><stop offset=".86" stop-color="#80ff7f"/><stop offset=".882" stop-color="#c6ff39"/><stop offset=".903" stop-color="#edff12"/><stop offset=".925" stop-color="#fff300"/><stop offset=".935" stop-color="#ffed00"/><stop offset=".946" stop-color="#ffe700"/><stop offset=".957" stop-color="#ffd200"/><stop offset=".968" stop-color="#ffa500"/><stop offset=".978" stop-color="#ff6500"/><stop offset=".989" stop-color="#ff3100"/><stop offset="1" stop-color="#ff1400"/></linearGradient>
<linearGradient id="a50" x1="0" y1="0" x2="0" y2="1"><stop offset="0" stop-color="#000094"/><stop offset=".022" stop-color="#000094"/><stop offset=".043" stop-color="#000094"/><stop offset=".065" stop-color="#000094"/><stop offset=".086" stop-color="#000094"/><stop offset=".108" stop-color="#000095"/><stop offset=".129" stop-color="#00009f"/><stop offset=".151" stop-color="#00d"/><stop offset=".172" stop-color="#007eff"/><stop offset=".194" stop-color="#00f6ff"/><stop offset=".215" stop-color="#32ffcd"/><stop offset=".237" stop-color="#54ffab"/><stop offset=".258" stop-color="#64ff9b"/><stop offset=".28" stop-color="#65ff9a"/><stop offset=".301" stop-color="#64ff9b"/><stop offset=".323" stop-color="#60ff9f"/><stop offset=".344" stop-color="#56ffa9"/><stop offset=".366" stop-color="#41ffbe"/><stop offset=".387" stop-color="#03fffc"/><stop offset=".409" stop-color="#0080ff"/><stop offset=".43" stop-color="#0041ff"/><stop offset=".452" stop-color="#0025ff"/><stop offset=".473" stop-color="#002dff"/><stop offset=".495" stop-color="#0039ff"/><stop offset=".516" stop-color="#002cff"/><stop offset=".538" stop-color="#001eff"/><stop offset=".559" stop-color="#0018ff"/><stop offset=".581" stop-color="#0017ff"/><stop offset=".602" stop-color="#0017ff"/><stop offset=".624" stop-color="#0017ff"/><stop offset=".645" stop-color="#0019ff"/><stop offset=".667" stop-color="#0012ff"/><stop offset=".688" stop-color="#0005ff"/><stop offset=".71" stop-color="#0023ff"/><stop offset=".731" stop-color="#0059ff"/><stop offset=".753" stop-color="#0074ff"/><stop offset=".774" stop-color="#0084ff"/><stop offset=".796" stop-color="#008aff"/><stop offset=".817" stop-color="#00a7ff"/><stop offset=".839" stop-color="#13ffec"/><stop offset=".86" stop-color="#81ff7e"/><stop offset=".882" stop-color="#c6ff39"/><stop offset=".903" stop-color="#edff12"/><stop offset=".925" stop-color="#fff300"/><stop offset=".935" stop-color="#ffed00"/><stop offset=".946" stop-color="#ffe700"/><stop offset=".957" stop-color="#ffd200"/><stop offset=".968" stop-color="#ffa500"/><stop offset=".978" stop-color="#ff6500"/><stop offset=".989" stop-color="#ff3100"/><stop offset="1" stop-color="#ff1400"/></linearGradient>
<linearGradient id="a51" x1="0" y1="0" x2="0" y2="1"><stop offset="0" stop-color="#000094"/><stop offset=".022" stop-color="#000094"/><stop offset=".043" stop-color="#000094"/><stop offset=".065" stop-color="#000094"/><stop offset=".086" stop-color="#000094"/><stop offset=".108" stop-color="#000095"/><stop offset=".129" stop-color="#00009f"/><stop offset=".151" stop-color="#00d"/><stop offset=".172" stop-color="#007eff"/><stop offset=".194" stop-color="#00f6ff"/><stop offset=".215" stop-color="#32ffcd"/><stop offset=".237" stop-color="#52ffad"/><stop offset=".258" stop-color="#62ff9d"/><stop offset=".28" stop-color="#63ff9c"/><stop offset=".301" stop-color="#62ff9d"/><stop offset=".323" stop-color="#5effa1"/><stop offset=".344" stop-color="#54ffab"/><stop offset=".366" stop-color="#3fffc0"/><stop offset=".387" stop-color="#0ff"/><stop offset=".409" stop-color="#07f"/><stop offset=".43" stop-color="#03f"/><stop offset=".452" stop-color="#0015ff"/><stop offset=".473" stop-color="#001cff"/><stop offset=".495" stop-color="#0027ff"/><stop offset=".516" stop-color="#0018ff"/><stop offset=".538" stop-color="#0007ff"/><stop offset=".559" stop-color="#00f"/><stop offset=".581" stop-color="#0000fd"/><stop offset=".602" stop-color="#0000fd"/><stop offset=".624" stop-color="#0000fe"/><stop offset=".645" stop-color="#0005ff"/><stop offset=".667" stop-color="#0002ff"/><stop offset=".688" stop-color="#0000fa"/><stop offset=".71" stop-color="#001fff"/><stop offset=".731" stop-color="#005bff"/><stop offset=".753" stop-color="#0076ff"/><stop offset=".774" stop-color="#0087ff"/><stop offset=".796" stop-color="#0093ff"/><stop offset=".817" stop-color="#00b8ff"/><stop offset=".839" stop-color="#19ffe6"/><stop offset=".86" stop-color="#82ff7d"/><stop offset=".882" stop-color="#c6ff39"/><stop offset=".903" stop-color="#edff12"/><stop offset=".925" stop-color="#fff300"/><stop offset=".935" stop-color="#ffed00"/><stop offset=".946" stop-color="#ffe700"/><stop offset=".957" stop-color="#ffd200"/><stop offset=".968" stop-color="#ffa500"/><stop offset=".978" stop-color="#ff6500"/><stop offset=".989" stop-color="#ff3100"/><stop offset="1" stop-color="#ff1400"/></linearGradient>
<linearGradient id="a52" x1="0" y1="0" x2="0" y2="1"><stop offset="0" stop-color="#000094"/><stop offset=".022" stop-color="#000094"/><stop offset=".043" stop-color="#000094"/><stop offset=".065" stop-color="#000094"/><stop offset=".086" stop-color="#000094"/><stop offset=".108" stop-color="#000095"/><stop offset=".129" stop-color="#00009f"/><stop offset=".151" stop-color="#00d"/><stop offset=".172" stop-color="#007eff"/><stop offset=".194" stop-color="#00f6ff"/><stop offset=".215" stop-color="#32ffcd"/><stop offset=".237" stop-color="#52ffad"/><stop offset=".258" stop-color="#61ff9e"/><stop offset=".28" stop-color="#61ff9e"/><stop offset=".301" stop-color="#61ff9e"/><stop offset=".323" stop-color="#5cffa3"/><stop offset=".344" stop-color="#53ffac"/><stop offset=".366" stop-color="#3effc1"/><stop offset=".387" stop-color="#00fdff"/><stop offset=".409" stop-color="#0071ff"/><stop offset=".43" stop-color="#002aff"/><stop offset=".452" stop-color="#000aff"/><stop offset=".473" stop-color="#01f"/><stop offset=".495" stop-color="#001bff"/><stop offset=".516" stop-color="#000aff"/><stop offset=".538" stop-color="#0000f5"/><stop offset=".559" stop-color="#0000ed"/><stop offset=".581" stop-color="#0000eb"/><stop offset=".602" stop-color="#0000eb"/><stop offset=".624" stop-color="#0000ed"/><stop offset=".645" stop-color="#0000f4"/><stop offset=".667" stop-color="#0000f5"/><stop offset=".688" stop-color="#0000f3"/><stop offset=".71" stop-color="#001cff"/><stop offset=".731" stop-color="#005dff"/><stop offset=".753" stop-color="#0078ff"/><stop offset=".774" stop-color="#008bff"/><stop offset=".796" stop-color="#009dff"/><stop offset=".817" stop-color="#00c6ff"/><stop offset=".839" stop-color="#20ffdf"/><stop offset=".86" stop-color="#83ff7c"/><stop offset=".882" stop-color="#c6ff39"/><stop offset=".903" stop-color="#edff12"/><stop offset=".925" stop-color="#fff300"/><stop offset=".935" stop-color="#ffed00"/><stop offset=".946" stop-color="#ffe700"/><stop offset=".957" stop-color="#ffd200"/><stop offset=".968" stop-color="#ffa500"/><stop offset=".978" stop-color="#ff6500"/><stop offset=".989" stop-color="#ff3100"/><stop offset="1" stop-color="#ff1400"/></linearGradient>
<linearGradient id="a53" x1="0" y1="0" x2="0" y2="1"><stop offset="0" stop-color="#000094"/><stop offset=".022" stop-color="#000094"/><stop offset=".043" stop-color="#000094"/><stop offset=".065" stop-color="#000094"/><stop offset=".086" stop-color="#000094"/><stop offset=".108" stop-color="#000095"/><stop offset=".129" stop-color="#00009f"/><stop offset=".151" stop-color="#00d"/><stop offset=".172" stop-color="#007eff"/><stop offset=".194" stop-color="#00f6ff"/><stop offset=".215" stop-color="#32ffcd"/><stop offset=".237" stop-color="#52ffad"/><stop offset=".258" stop-color="#60ff9f"/><stop offset=".28" stop-color="#61ff9e"/><stop offset=".301" stop-color="#61ff9e"/><stop offset=".323" stop-color="#5cffa3"/><stop offset=".344" stop-color="#53ffac"/><stop offset=".366" stop-color="#3effc1"/><stop offset=".387" stop-color="#00fcff"/><stop offset=".409" stop-color="#0070ff"/><stop offset=".43" stop-color="#0028ff"/><stop offset=".452" stop-color="#0008ff"/><stop offset=".473" stop-color="#000eff"/><stop offset=".495" stop-color="#0018ff"/><stop offset=".516" stop-color="#0003ff"/><stop offset=".538" stop-color="#0000ec"/><stop offset=".559" stop-color="#0000e6"/><stop offset=".581" stop-color="#0000e4"/><stop offset=".602" stop-color="#0000e4"/><stop offset=".624" stop-color="#0000e6"/><stop offset=".645" stop-color="#0000ec"/><stop offset=".667" stop-color="#0000ed"/><stop offset=".688" stop-color="#0000ef"/><stop offset=".71" stop-color="#001cff"/><stop offset=".731" stop-color="#0060ff"/><stop offset=".753" stop-color="#007bff"/><stop offset=".774" stop-color="#0090ff"/><stop offset=".796" stop-color="#00a5ff"/><stop offset=".817" stop-color="#00d0ff"/><stop offset=".839" stop-color="#25ffda"/><stop offset=".86" stop-color="#83ff7c"/><stop offset=".882" stop-color="#c6ff39"/><stop offset=".903" stop-color="#edff12"/><stop offset=".925" stop-color="#fff300"/><stop offset=".935" stop-color="#ffed00"/><stop offset=".946" stop-color="#ffe700"/><stop offset=".957" stop-color="#ffd200"/><stop offset=".968" stop-color="#ffa500"/><stop offset=".978" stop-color="#ff6500"/><stop offset=".989" stop-color="#ff3100"/><stop offset="1" stop-color="#ff1400"/></linearGradient>
<linearGradient id="a54" x1="0" y1="0" x2="0" y2="1"><stop offset="0" stop-color="#000094"/><stop offset=".022" stop-color="#000094"/><stop offset=".043" stop-color="#000094"/><stop offset=".065" stop-color="#000094"/><stop offset=".086" stop-color="#000094"/><stop offset=".108" stop-color="#000095"/><stop offset=".129" stop-color="#00009f"/><stop offset=".151" stop-color="#00d"/><stop offset=".172" stop-color="#007eff"/><stop offset=".194" stop-color="#00f6ff"/><stop offset=".215" stop-color="#32ffcd"/><stop offset=".237" stop-color="#52ffad"/><stop offset=".258" stop-color="#60ff9f"/><stop offset=".28" stop-color="#61ff9e"/><stop offset=".301" stop-color="#61ff9e"/><stop offset=".323" stop-color="#5cffa3"/><stop offset=".344" stop-color="#53ffac"/><stop offset=".366" stop-color="#3effc1"/><stop offset=".387" stop-color="#00fcff"/><stop offset=".409" stop-color="#0070ff"/><stop offset=".43" stop-color="#0028ff"/><stop offset=".452" stop-color="#0008ff"/><stop offset=".473" stop-color="#000eff"/><stop offset=".495" stop-color="#0018ff"/><stop offset=".516" stop-color="#0000fe"/><stop offset=".538" stop-color="#0000e6"/><stop offset=".559" stop-color="#0000e2"/><stop offset=".581" stop-color="#0000e1"/><stop offset=".602" stop-color="#0000e1"/><stop offset=".624" stop-color="#0000e2"/><stop offset=".645" stop-color="#0000e5"/><stop offset=".667" stop-color="#0000e8"/><stop offset=".688" stop-color="#0000eb"/><stop offset=".71" stop-color="#001cff"/><stop offset=".731" stop-color="#0065ff"/><stop offset=".753" stop-color="#0083ff"/><stop offset=".774" stop-color="#09f"/><stop offset=".796" stop-color="#00afff"/><stop offset=".817" stop-color="#00d8ff"/><stop offset=".839" stop-color="#2bffd4"/><stop offset=".86" stop-color="#84ff7b"/><stop offset=".882" stop-color="#c6ff39"/><stop offset=".903" stop-color="#edff12"/><stop offset=".925" stop-color="#fff300"/><stop offset=".935" stop-color="#ffed00"/><stop offset=".946" stop-color="#ffe700"/><stop offset=".957" stop-color="#ffd200"/><stop offset=".968" stop-color="#ffa500"/><stop offset=".978" stop-color="#ff6500"/><stop offset=".989" stop-color="#ff3100"/><stop offset="1" stop-color="#ff1400"/></linearGradient>
<linearGradient id="a55" x1="0" y1="0" x2="0" y2="1"><stop offset="0" stop-color="#000094"/><stop offset=".022" stop-color="#000094"/><stop offset=".043" stop-color="#000094"/><stop offset=".065" stop-color="#000094"/><stop offset=".086" stop-color="#000094"/><stop offset=".108" stop-color="#000095"/><stop offset=".129" stop-color="#00009f"/><stop offset=".151" stop-color="#00d"/><stop offset=".172" stop-color="#007eff"/><stop offset=".194" stop-color="#00f6ff"/><stop offset=".215" stop-color="#32ffcd"/><stop offset=".237" stop-color="#52ffad"/><stop offset=".258" stop-color="#60ff9f"/><stop offset=".28" stop-color="#61ff9e"/><stop offset=".301" stop-color="#61ff9e"/><stop offset=".323" stop-color="#5cffa3"/><stop offset=".344" stop-color="#53ffac"/><stop offset=".366" stop-color="#3effc1"/><stop offset=".387" stop-color="#00fcff"/><stop offset=".409" stop-color="#0070ff"/><stop offset=".43" stop-color="#0028ff"/><stop offset=".452" stop-color="#0008ff"/><stop offset=".473" stop-color="#000eff"/><stop offset=".495" stop-color="#0018ff"/><stop offset=".516" stop-color="#0000fa"/><stop offset=".538" stop-color="#0000e1"/><stop offset=".559" stop-color="#0000df"/><stop offset=".581" stop-color="#0000de"/><stop offset=".602" stop-color="#0000de"/><stop offset=".624" stop-color="#0000df"/><stop offset=".645" stop-color="#0000e1"/><stop offset=".667" stop-color="#0000e3"/><stop offset=".688" stop-color="#0000e8"/><stop offset=".71" stop-color="#001dff"/><stop offset=".731" stop-color="#006bff"/><stop offset=".753" stop-color="#008cff"/><stop offset=".774" stop-color="#00a4ff"/><stop offset=".796" stop-color="#00baff"/><stop offset=".817" stop-color="#00e0ff"/><stop offset=".839" stop-color="#30ffcf"/><stop offset=".86" stop-color="#85ff7a"/><stop offset=".882" stop-color="#c6ff39"/><stop offset=".903" stop-color="#edff12"/><stop offset=".925" stop-color="#fff300"/><stop offset=".935" stop-color="#ffed00"/><stop offset=".946" stop-color="#ffe700"/><stop offset=".957" stop-color="#ffd200"/><stop offset=".968" stop-color="#ffa500"/><stop offset=".978" stop-color="#ff6500"/><stop offset=".989" stop-color="#ff3100"/><stop offset="1" stop-color="#ff1400"/></linearGradient>
<linearGradient id="a56" x1="0" y1="0" x2="0" y2="1"><stop offset="0" stop-color="#000094"/><stop offset=".022" stop-color="#000094"/><stop offset=".043" stop-color="#000094"/><stop offset=".065" stop-color="#000094"/><stop offset=".086" stop-color="#000094"/><stop offset=".108" stop-color="#000095"/><stop offset=".129" stop-color="#00009f"/><stop offset=".151" stop-color="#00d"/><stop offset=".172" stop-color="#007eff"/><stop offset=".194" stop-color="#00f6ff"/><stop offset=".215" stop-color="#32ffcd"/><stop offset=".237" stop-color="#52ffad"/><stop offset=".258" stop-color="#60ff9f"/><stop offset=".28" stop-color="#61ff9e"/><stop offset=".301" stop-color="#61ff9e"/><stop offset=".323" stop-color="#5cffa3"/><stop offset=".344" stop-color="#53ffac"/><stop offset=".366" stop-color="#3effc1"/><stop offset=".387" stop-color="#00fcff"/><stop offset=".409" stop-color="#0070ff"/><stop offset=".43" stop-color="#0028ff"/><stop offset=".452" stop-color="#0008ff"/><stop offset=".473" stop-color="#000eff"/><stop offset=".495" stop-color="#0018ff"/><stop offset=".516" stop-color="#0000f8"/><stop offset=".538" stop-color="#0000de"/><stop offset=".559" stop-color="#00d"/><stop offset=".581" stop-color="#0000dc"/><stop offset=".602" stop-color="#0000dc"/><stop offset=".624" stop-color="#0000dc"/><stop offset=".645" stop-color="#00d"/><stop offset=".667" stop-color="#0000df"/><stop offset=".688" stop-color="#0000e6"/><stop offset=".71" stop-color="#001eff"/><stop offset=".731" stop-color="#0070ff"/><stop offset=".753" stop-color="#0095ff"/><stop offset=".774" stop-color="#00afff"/><stop offset=".796" stop-color="#00c3ff"/><stop offset=".817" stop-color="#00e6ff"/><stop offset=".839" stop-color="#35ffca"/><stop offset=".86" stop-color="#86ff79"/><stop offset=".882" stop-color="#c6ff39"/><stop offset=".903" stop-color="#edff12"/><stop offset=".925" stop-color="#fff300"/><stop offset=".935" stop-color="#ffed00"/><stop offset=".946" stop-color="#ffe700"/><stop offset=".957" stop-color="#ffd200"/><stop offset=".968" stop-color="#ffa500"/><stop offset=".978" stop-color="#ff6500"/><stop offset=".989" stop-color="#ff3100"/><stop offset="1" stop-color="#ff1400"/></linearGradient>
<linearGradient id="a57" x1="0" y1="0" x2="0" y2="1"><stop offset="0" stop-color="#000094"/><stop offset=".022" stop-color="#000094"/><stop offset=".043" stop-color="#000094"/><stop offset=".065" stop-color="#000094"/><stop offset=".086" stop-color="#000094"/><stop offset=".108" stop-color="#000095"/><stop offset=".129" stop-color="#00009f"/><stop offset=".151" stop-color="#00d"/><stop offset=".172" stop-color="#007eff"/><stop offset=".194" stop-color="#00f6ff"/><stop offset=".215" stop-color="#32ffcd"/><stop offset=".237" stop-color="#52ffad"/><stop offset=".258" stop-color="#60ff9f"/><stop offset=".28" stop-color="#61ff9e"/><stop offset=".301" stop-color="#61ff9e"/><stop offset=".323" stop-color="#5cffa3"/><stop offset=".344" stop-color="#53ffac"/><stop offset=".366" stop-color="#3effc1"/><stop offset=".387" stop-color="#00fcff"/><stop offset=".409" stop-color="#0070ff"/><stop offset=".43" stop-color="#0028ff"/><stop offset=".452" stop-color="#0008ff"/><stop offset=".473" stop-color="#000eff"/><stop offset=".495" stop-color="#0018ff"/><stop offset=".516" stop-color="#0000f6"/><stop offset=".538" stop-color="#0000dc"/><stop offset=".559" stop-color="#0000db"/><stop offset=".581" stop-color="#0000db"/><stop offset=".602" stop-color="#0000db"/><stop offset=".624" stop-color="#0000db"/><stop offset=".645" stop-color="#0000dc"/><stop offset=".667" stop-color="#00d"/><stop offset=".688" stop-color="#0000e5"/><stop offset=".71" stop-color="#001eff"/><stop offset=".731" stop-color="#0073ff"/><stop offset=".753" stop-color="#009aff"/><stop offset=".774" stop-color="#00b5ff"/><stop offset=".796" stop-color="#00c8ff"/><stop offset=".817" stop-color="#00eaff"/><stop offset=".839" stop-color="#37ffc8"/><stop offset=".86" stop-color="#87ff78"/><stop offset=".882" stop-color="#c6ff39"/><stop offset=".903" stop-color="#edff12"/><stop offset=".925" stop-color="#fff300"/><stop offset=".935" stop-color="#ffed00"/><stop offset=".946" stop-color="#ffe700"/><stop offset=".957" stop-color="#ffd200"/><stop offset=".968" stop-color="#ffa500"/><stop offset=".978" stop-color="#ff6500"/><stop offset=".989" stop-color="#ff3100"/><stop offset="1" stop-color="#ff1400"/></linearGradient>
<linearGradient id="a58" x1="0" y1="0" x2="0" y2="1"><stop offset="0" stop-color="#000094"/><stop offset=".022" stop-color="#000094"/><stop offset=".043" stop-color="#000094"/><stop offset=".065" stop-color="#000094"/><stop offset=".086" stop-color="#000094"/><stop offset=".108" stop-color="#000095"/><stop offset=".129" stop-color="#00009f"/><stop offset=".151" stop-color="#00d"/><stop offset=".172" stop-color="#007eff"/><stop offset=".194" stop-color="#00f6ff"/><stop offset=".215" stop-color="#32ffcd"/><stop offset=".237" stop-color="#52ffad"/><stop offset=".258" stop-color="#60ff9f"/><stop offset=".28" stop-color="#61ff9e"/><stop offset=".301" stop-color="#61ff9e"/><stop offset=".323" stop-color="#5cffa3"/><stop offset=".344" stop-color="#53ffac"/><stop offset=".366" stop-color="#3effc1"/><stop offset=".387" stop-color="#00fcff"/><stop offset=".409" stop-color="#0071ff"/><stop offset=".43" stop-color="#0029ff"/><stop offset=".452" stop-color="#0009ff"/><stop offset=".473" stop-color="#000fff"/><stop offset=".495" stop-color="#0018ff"/><stop offset=".516" stop-color="#0000f6"/><stop offset=".538" stop-color="#0000dc"/><stop offset=".559" stop-color="#0000db"/><stop offset=".581" stop-color="#0000db"/><stop offset=".602" stop-color="#0000db"/><stop offset=".624" stop-color="#0000db"/><stop offset=".645" stop-color="#0000db"/><stop offset=".667" stop-color="#00d"/><stop offset=".688" stop-color="#0000e5"/><stop offset=".71" stop-color="#001fff"/><stop offset=".731" stop-color="#0073ff"/><stop offset=".753" stop-color="#009bff"/><stop offset=".774" stop-color="#00b6ff"/><stop offset=".796" stop-color="#00c9ff"/><stop offset=".817" stop-color="#00eaff"/><stop offset=".839" stop-color="#38ffc7"/><stop offset=".86" stop-color="#87ff78"/><stop offset=".882" stop-color="#c6ff39"/><stop offset=".903" stop-color="#edff12"/><stop offset=".925" stop-color="#fff300"/><stop offset=".935" stop-color="#ffed00"/><stop offset=".946" stop-color="#ffe700"/><stop offset=".957" stop-color="#ffd200"/><stop offset=".968" stop-color="#ffa500"/><stop offset=".978" stop-color="#ff6500"/><stop offset=".989" stop-color="#ff3100"/><stop offset="1" stop-color="#ff1400"/></linearGradient>
<linearGradient id="a59" x1="0" y1="0" x2="0" y2="1"><stop offset="0" stop-color="#000094"/><stop offset=".022" stop-color="#000094"/><stop offset=".043" stop-color="#000094"/><stop offset=".065" stop-color="#000094"/><stop offset=".086" stop-color="#000094"/><stop offset=".108" stop-color="#000095"/><stop offset=".129" stop-color="#00009f"/><stop offset=".151" stop-color="#00d"/><stop offset=".172" stop-color="#007eff"/><stop offset=".194" stop-color="#00f6ff"/><stop offset=".215" stop-color="#32ffcd"/><stop offset=".237" stop-color="#52ffad"/><stop offset=".258" stop-color="#60ff9f"/><stop offset=".28" stop-color="#61ff9e"/><stop offset=".301" stop-color="#61ff9e"/><stop offset=".323" stop-color="#5cffa3"/><stop offset=".344" stop-color="#53ffac"/><stop offset=".366" stop-color="#3effc1"/><stop offset=".387" stop-color="#00fdff"/><stop offset=".409" stop-color="#0074ff"/><stop offset=".43" stop-color="#002dff"/><stop offset=".452" stop-color="#000dff"/><stop offset=".473" stop-color="#0012ff"/><stop offset=".495" stop-color="#001aff"/><stop offset=".516" stop-color="#0000f7"/><stop offset=".538" stop-color="#0000dc"/><stop offset=".559" stop-color="#0000db"/><stop offset=".581" stop-color="#0000db"/><stop offset=".602" stop-color="#0000db"/><stop offset=".624" stop-color="#0000db"/><stop offset=".645" stop-color="#0000db"/><stop offset=".667" stop-color="#00d"/><stop offset=".688" stop-color="#0000e7"/><stop offset=".71" stop-color="#0020ff"/><stop offset=".731" stop-color="#0073ff"/><stop offset=".753" stop-color="#009bff"/><stop offset=".774" stop-color="#00b6ff"/><stop offset=".796" stop-color="#00c9ff"/><stop offset=".817" stop-color="#00eaff"/><stop offset=".839" stop-color="#38ffc7"/><stop offset=".86" stop-color="#87ff78"/><stop offset=".882" stop-color="#c6ff39"/><stop offset=".903" stop-color="#edff12"/><stop offset=".925" stop-color="#fff300"/><stop offset=".935" stop-color="#ffed00"/><stop offset=".946" stop-color="#ffe700"/><stop offset=".957" stop-color="#ffd200"/><stop offset=".968" stop-color="#ffa500"/><stop offset=".978" stop-color="#ff6500"/><stop offset=".989" stop-color="#ff3100"/><stop offset="1" stop-color="#ff1400"/></linearGradient>
<linearGradient id="a60" x1="0" y1="0" x2="0" y2="1"><stop offset="0" stop-color="#000094"/><stop offset=".022" stop-color="#000094"/><stop offset=".043" stop-color="#000094"/><stop offset=".065" stop-color="#000094"/><stop offset=".086" stop-color="#000094"/><stop offset=".108" stop-color="#000095"/><stop offset=".129" stop-color="#00009f"/><stop offset=".151" stop-color="#00d"/><stop offset=".172" stop-color="#007eff"/><stop offset=".194" stop-color="#00f6ff"/><stop offset=".215" stop-color="#32ffcd"/><stop offset=".237" stop-color="#52ffad"/><stop offset=".258" stop-color="#60ff9f"/><stop offset=".28" stop-color="#61ff9e"/><stop offset=".301" stop-color="#61ff9e"/><stop offset=".323" stop-color="#5cffa3"/><stop offset=".344" stop-color="#53ffac"/><stop offset=".366" stop-color="#3effc1"/><stop offset=".387" stop-color="#00feff"/><stop offset=".409" stop-color="#0079ff"/><stop offset=".43" stop-color="#03f"/><stop offset=".452" stop-color="#0013ff"/><stop offset=".473" stop-color="#0017ff"/><stop offset=".495" stop-color="#001dff"/><stop offset=".516" stop-color="#0000f9"/><stop offset=".538" stop-color="#0000dc"/><stop offset=".559" stop-color="#0000db"/><stop offset=".581" stop-color="#0000db"/><stop offset=".602" stop-color="#0000db"/><stop offset=".624" stop-color="#0000db"/><stop offset=".645" stop-color="#0000db"/><stop offset=".667" stop-color="#0000de"/><stop offset=".688" stop-color="#0000ea"/><stop offset=".71" stop-color="#0023ff"/><stop offset=".731" stop-color="#0073ff"/><stop offset=".753" stop-color="#009bff"/><stop offset=".774" stop-color="#00b6ff"/><stop offset=".796" stop-color="#00c9ff"/><stop offset=".817" stop-color="#00eaff"/><stop offset=".839" stop-color="#38ffc7"/><stop offset=".86" stop-color="#87ff78"/><stop offset=".882" stop-color="#c6ff39"/><stop offset=".903" stop-color="#edff12"/><stop offset=".925" stop-color="#fff300"/><stop offset=".935" stop-color="#ffed00"/><stop offset=".946" stop-color="#ffe700"/><stop offset=".957" stop-color="#ffd200"/><stop offset=".968" stop-color="#ffa500"/><stop offset=".978" stop-color="#ff6500"/><stop offset=".989" stop-color="#ff3100"/><stop offset="1" stop-color="#ff1400"/></linearGradient>
<linearGradient id="a61" x1="0" y1="0" x2="0" y2="1"><stop offset="0" stop-color="#000094"/><stop offset=".022" stop-color="#000094"/><stop offset=".043" stop-color="#000094"/><stop offset=".065" stop-color="#000094"/><stop offset=".086" stop-color="#000094"/><stop offset=".108" stop-color="#000095"/><stop offset=".129" stop-color="#00009f"/><stop offset=".151" stop-color="#00d"/><stop offset=".172" stop-color="#007eff"/><stop offset=".194" stop-color="#00f6ff"/><stop offset=".215" stop-color="#32ffcd"/><stop offset=".237" stop-color="#52ffad"/><stop offset=".258" stop-color="#60ff9f"/><stop offset=".28" stop-color="#61ff9e"/><stop offset=".301" stop-color="#61ff9e"/><stop offset=".323" stop-color="#5cffa3"/><stop offset=".344" stop-color="#53ffac"/><stop offset=".366" stop-color="#3effc1"/><stop offset=".387" stop-color="#01fffe"/><stop offset=".409" stop-color="#007eff"/><stop offset=".43" stop-color="#0039ff"/><stop offset=".452" stop-color="#0018ff"/><stop offset=".473" stop-color="#001bff"/><stop offset=".495" stop-color="#0020ff"/><stop offset=".516" stop-color="#0000fa"/><stop offset=".538" stop-color="#0000dc"/><stop offset=".559" stop-color="#0000db"/><stop offset=".581" stop-color="#0000db"/><stop offset=".602" stop-color="#0000db"/><stop offset=".624" stop-color="#0000db"/><stop offset=".645" stop-color="#0000db"/><stop offset=".667" stop-color="#0000de"/><stop offset=".688" stop-color="#0000ec"/><stop offset=".71" stop-color="#0025ff"/><stop offset=".731" stop-color="#0073ff"/><stop offset=".753" stop-color="#009bff"/><stop offset=".774" stop-color="#00b6ff"/><stop offset=".796" stop-color="#00c9ff"/><stop offset=".817" stop-color="#00eaff"/><stop offset=".839" stop-color="#38ffc7"/><stop offset=".86" stop-color="#87ff78"/><stop offset=".882" stop-color="#c6ff39"/><stop offset=".903" stop-color="#edff12"/><stop offset=".925" stop-color="#fff300"/><stop offset=".935" stop-color="#ffed00"/><stop offset=".946" stop-color="#ffe700"/><stop offset=".957" stop-color="#ffd200"/><stop offset=".968" stop-color="#ffa500"/><stop offset=".978" stop-color="#ff6500"/><stop offset=".989" stop-color="#ff3100"/><stop offset="1" stop-color="#ff1400"/></linearGradient>
<linearGradient id="a62" x1="0" y1="0" x2="0" y2="1"><stop offset="0" stop-color="#000094"/><stop offset=".022" stop-color="#000094"/><stop offset=".043" stop-color="#000094"/><stop offset=".065" stop-color="#000094"/><stop offset=".086" stop-color="#000094"/><stop offset=".108" stop-color="#000095"/><stop offset=".129" stop-color="#00009f"/><stop offset=".151" stop-color="#00d"/><stop offset=".172" stop-color="#007eff"/><stop offset=".194" stop-color="#00f6ff"/><stop offset=".215" stop-color="#32ffcd"/><stop offset=".237" stop-color="#52ffad"/><stop offset=".258" stop-color="#60ff9f"/><stop offset=".28" stop-color="#61ff9e"/><stop offset=".301" stop-color="#61ff9e"/><stop offset=".323" stop-color="#5cffa3"/><stop offset=".344" stop-color="#53ffac"/><stop offset=".366" stop-color="#3effc1"/><stop offset=".387" stop-color="#01fffe"/><stop offset=".409" stop-color="#0081ff"/><stop offset=".43" stop-color="#003cff"/><stop offset=".452" stop-color="#001cff"/><stop offset=".473" stop-color="#001eff"/><stop offset=".495" stop-color="#02f"/><stop offset=".516" stop-color="#0000fa"/><stop offset=".538" stop-color="#0000dc"/><stop offset=".559" stop-color="#0000db"/><stop offset=".581" stop-color="#0000db"/><stop offset=".602" stop-color="#0000db"/><stop offset=".624" stop-color="#0000db"/><stop offset=".645" stop-color="#0000db"/><stop offset=".667" stop-color="#0000df"/><stop offset=".688" stop-color="#0000ed"/><stop offset=".71" stop-color="#0026ff"/><stop offset=".731" stop-color="#0073ff"/><stop offset=".753" stop-color="#009bff"/><stop offset=".774" stop-color="#00b6ff"/><stop offset=".796" stop-color="#00c9ff"/><stop offset=".817" stop-color="#00eaff"/><stop offset=".839" stop-color="#38ffc7"/><stop offset=".86" stop-color="#87ff78"/><stop offset=".882" stop-color="#c6ff39"/><stop offset=".903" stop-color="#edff12"/><stop offset=".925" stop-color="#fff300"/><stop offset=".935" stop-color="#ffed00"/><stop offset=".946" stop-color="#ffe700"/><stop offset=".957" stop-color="#ffd200"/><stop offset=".968" stop-color="#ffa500"/><stop offset=".978" stop-color="#ff6500"/><stop offset=".989" stop-color="#ff3100"/><stop offset="1" stop-color="#ff1400"/></linearGradient>
<linearGradient id="a63" x1="0" y1="0" x2="0" y2="1"><stop offset="0" stop-color="#000094"/><stop offset=".022" stop-color="#000094"/><stop offset=".043" stop-color="#000094"/><stop offset=".065" stop-color="#000094"/><stop offset=".086" stop-color="#000094"/><stop offset=".108" stop-color="#000095"/><stop offset=".129" stop-color="#00009f"/><stop offset=".151" stop-color="#00d"/><stop offset=".172" stop-color="#007eff"/><stop offset=".194" stop-color="#00f6ff"/><stop offset=".215" stop-color="#32ffcd"/><stop offset=".237" stop-color="#52ffad"/><stop offset=".258" stop-color="#60ff9f"/><stop offset=".28" stop-color="#61ff9e"/><stop offset=".301" stop-color="#61ff9e"/><stop offset=".323" stop-color="#5cffa3"/><stop offset=".344" stop-color="#53ffac"/><stop offset=".366" stop-color="#3effc1"/><stop offset=".387" stop-color="#01fffe"/><stop offset=".409" stop-color="#0081ff"/><stop offset=".43" stop-color="#003dff"/><stop offset=".452" stop-color="#001cff"/><stop offset=".473" stop-color="#001eff"/><stop offset=".495" stop-color="#02f"/><stop offset=".516" stop-color="#0000fb"/><stop offset=".538" stop-color="#0000dc"/><stop offset=".559" stop-color="#0000db"/><stop offset=".581" stop-color="#0000db"/><stop offset=".602" stop-color="#0000db"/><stop offset=".624" stop-color="#0000db"/><stop offset=".645" stop-color="#0000dc"/><stop offset=".667" stop-color="#0000df"/><stop offset=".688" stop-color="#0000ed"/><stop offset=".71" stop-color="#0026ff"/><stop offset=".731" stop-color="#0073ff"/><stop offset=".753" stop-color="#009aff"/><stop offset=".774" stop-color="#00b5ff"/><stop offset=".796" stop-color="#00c7ff"/><stop offset=".817" stop-color="#00e9ff"/><stop offset=".839" stop-color="#37ffc8"/><stop offset=".86" stop-color="#86ff79"/><stop offset=".882" stop-color="#c6ff39"/><stop offset=".903" stop-color="#edff12"/><stop offset=".925" stop-color="#fff300"/><stop offset=".935" stop-color="#ffed00"/><stop offset=".946" stop-color="#ffe700"/><stop offset=".957" stop-color="#ffd200"/><stop offset=".968" stop-color="#ffa500"/><stop offset=".978" stop-color="#ff6500"/><stop offset=".989" stop-color="#ff3100"/><stop offset="1" stop-color="#ff1400"/></linearGradient>
<linearGradient id="a64" x1="0" y1="0" x2="0" y2="1"><stop offset="0" stop-color="#000094"/><stop offset=".022" stop-color="#000094"/><stop offset=".043" stop-color="#000094"/><stop offset=".065" stop-color="#000094"/><stop offset=".086" stop-color="#000094"/><stop offset=".108" stop-color="#000095"/><stop offset=".129" stop-color="#00009f"/><stop offset=".151" stop-color="#00d"/><stop offset=".172" stop-color="#007eff"/><stop offset=".194" stop-color="#00f6ff"/><stop offset=".215" stop-color="#32ffcd"/><stop offset=".237" stop-color="#52ffad"/><stop offset=".258" stop-color="#60ff9f"/><stop offset=".28" stop-color="#61ff9e"/><stop offset=".301" stop-color="#61ff9e"/><stop offset=".323" stop-color="#5cffa3"/><stop offset=".344" stop-color="#53ffac"/><stop offset=".366" stop-color="#3effc1"/><stop offset=".387" stop-color="#01fffe"/><stop offset=".409" stop-color="#0081ff"/><stop offset=".43" stop-color="#003dff"/><stop offset=".452" stop-color="#001cff"/><stop offset=".473" stop-color="#001eff"/><stop offset=".495" stop-color="#02f"/><stop offset=".516" stop-color="#0000fb"/><stop offset=".538" stop-color="#0000dc"/><stop offset=".559" stop-color="#0000db"/><stop offset=".581" stop-color="#0000db"/><stop offset=".602" stop-color="#0000db"/><stop offset=".624" stop-color="#0000db"/><stop offset=".645" stop-color="#00d"/><stop offset=".667" stop-color="#0000e1"/><stop offset=".688" stop-color="#00e"/><stop offset=".71" stop-color="#0024ff"/><stop offset=".731" stop-color="#0070ff"/><stop offset=".753" stop-color="#0096ff"/><stop offset=".774" stop-color="#00b0ff"/><stop offset=".796" stop-color="#00c1ff"/><stop offset=".817" stop-color="#00e6ff"/><stop offset=".839" stop-color="#35ffca"/><stop offset=".86" stop-color="#86ff79"/><stop offset=".882" stop-color="#c6ff39"/><stop offset=".903" stop-color="#edff12"/><stop offset=".925" stop-color="#fff300"/><stop offset=".935" stop-color="#ffed00"/><stop offset=".946" stop-color="#ffe700"/><stop offset=".957" stop-color="#ffd200"/><stop offset=".968" stop-color="#ffa500"/><stop offset=".978" stop-color="#ff6500"/><stop offset=".989" stop-color="#ff3100"/><stop offset="1" stop-color="#ff1400"/></linearGradient>
<linearGradient id="a65" x1="0" y1="0" x2="0" y2="1"><stop offset="0" stop-color="#000094"/><stop offset=".022" stop-color="#000094"/><stop offset=".043" stop-color="#000094"/><stop offset=".065" stop-color="#000094"/><stop offset=".086" stop-color="#000094"/><stop offset=".108" stop-color="#000095"/><stop offset=".129" stop-color="#00009f"/><stop offset=".151" stop-color="#00d"/><stop offset=".172" stop-color="#007eff"/><stop offset=".194" stop-color="#00f6ff"/><stop offset=".215" stop-color="#32ffcd"/><stop offset=".237" stop-color="#52ffad"/><stop offset=".258" stop-color="#60ff9f"/><stop offset=".28" stop-color="#61ff9e"/><stop offset=".301" stop-color="#61ff9e"/><stop offset=".323" stop-color="#5cffa3"/><stop offset=".344" stop-color="#53ffac"/><stop offset=".366" stop-color="#3effc1"/><stop offset=".387" stop-color="#01fffe"/><stop offset=".409" stop-color="#0081ff"/><stop offset=".43" stop-color="#003dff"/><stop offset=".452" stop-color="#001cff"/><stop offset=".473" stop-color="#001eff"/><stop offset=".495" stop-color="#02f"/><stop offset=".516" stop-color="#0000fb"/><stop offset=".538" stop-color="#0000dc"/><stop offset=".559" stop-color="#0000db"/><stop offset=".581" stop-color="#0000db"/><stop offset=".602" stop-color="#0000db"/><stop offset=".624" stop-color="#0000dc"/><stop offset=".645" stop-color="#0000de"/><stop offset=".667" stop-color="#0000e3"/><stop offset=".688" stop-color="#00e"/><stop offset=".71" stop-color="#02f"/><stop offset=".731" stop-color="#006bff"/><stop offset=".753" stop-color="#0091ff"/><stop offset=".774" stop-color="#00a9ff"/><stop offset=".796" stop-color="#00b9ff"/><stop offset=".817" stop-color="#00e0ff"/><stop offset=".839" stop-color="#32ffcd"/><stop offset=".86" stop-color="#85ff7a"/><stop offset=".882" stop-color="#c6ff39"/><stop offset=".903" stop-color="#edff12"/><stop offset=".925" stop-color="#fff300"/><stop offset=".935" stop-color="#ffed00"/><stop offset=".946" stop-color="#ffe700"/><stop offset=".957" stop-color="#ffd200"/><stop offset=".968" stop-color="#ffa500"/><stop offset=".978" stop-color="#ff6500"/><stop offset=".989" stop-color="#ff3100"/><stop offset="1" stop-color="#ff1400"/></linearGradient>
<linearGradient id="a66" x1="0" y1="0" x2="0" y2="1"><stop offset="0" stop-color="#000094"/><stop offset=".022" stop-color="#000094"/><stop offset=".043" stop-color="#000094"/><stop offset=".065" stop-color="#000094"/><stop offset=".086" stop-color="#000094"/><stop offset=".108" stop-color="#000095"/><stop offset=".129" stop-color="#00009f"/><stop offset=".151" stop-color="#00d"/><stop offset=".172" stop-color="#007eff"/><stop offset=".194" stop-color="#00f6ff"/><stop offset=".215" stop-color="#32ffcd"/><stop offset=".237" stop-color="#52ffad"/><stop offset=".258" stop-color="#60ff9f"/><stop offset=".28" stop-color="#61ff9e"/><stop offset=".301" stop-color="#61ff9e"/><stop offset=".323" stop-color="#5cffa3"/><stop offset=".344" stop-color="#53ffac"/><stop offset=".366" stop-color="#3effc1"/><stop offset=".387" stop-color="#01fffe"/><stop offset=".409" stop-color="#0081ff"/><stop offset=".43" stop-color="#003dff"/><stop offset=".452" stop-color="#001cff"/><stop offset=".473" stop-color="#001eff"/><stop offset=".495" stop-color="#02f"/><stop offset=".516" stop-color="#0000fb"/><stop offset=".538" stop-color="#0000dc"/><stop offset=".559" stop-color="#0000db"/><stop offset=".581" stop-color="#0000db"/><stop offset=".602" stop-color="#0000db"/><stop offset=".624" stop-color="#0000dc"/><stop offset=".645" stop-color="#0000e1"/><stop offset=".667" stop-color="#0000e6"/><stop offset=".688" stop-color="#00e"/><stop offset=".71" stop-color="#0020ff"/><stop offset=".731" stop-color="#06f"/><stop offset=".753" stop-color="#008aff"/><stop offset=".774" stop-color="#00a0ff"/><stop offset=".796" stop-color="#00aeff"/><stop offset=".817" stop-color="#00d9ff"/><stop offset=".839" stop-color="#2effd1"/><stop offset=".86" stop-color="#84ff7b"/><stop offset=".882" stop-color="#c6ff39"/><stop offset=".903" stop-color="#edff12"/><stop offset=".925" stop-color="#fff300"/><stop offset=".935" stop-color="#ffed00"/><stop offset=".946" stop-color="#ffe700"/><stop offset=".957" stop-color="#ffd200"/><stop offset=".968" stop-color="#ffa500"/><stop offset=".978" stop-color="#ff6500"/><stop offset=".989" stop-color="#ff3100"/><stop offset="1" stop-color="#ff1400"/></linearGradient>
<linearGradient id="a67" x1="0" y1="0" x2="0" y2="1"><stop offset="0" stop-color="#000094"/><stop offset=".022" stop-color="#000094"/><stop offset=".043" stop-color="#000094"/><stop offset=".065" stop-color="#000094"/><stop offset=".086" stop-color="#000094"/><stop offset=".108" stop-color="#000095"/><stop offset=".129" stop-color="#00009f"/><stop offset=".151" stop-color="#00d"/><stop offset=".172" stop-color="#007eff"/><stop offset=".194" stop-color="#00f6ff"/><stop offset=".215" stop-color="#32ffcd"/><stop offset=".237" stop-color="#52ffad"/><stop offset=".258" stop-color="#60ff9f"/><stop offset=".28" stop-color="#61ff9e"/><stop offset=".301" stop-color="#61ff9e"/><stop offset=".323" stop-color="#5cffa3"/><stop offset=".344" stop-color="#53ffac"/><stop offset=".366" stop-color="#3effc1"/><stop offset=".387" stop-color="#01fffe"/><stop offset=".409" stop-color="#0081ff"/><stop offset=".43" stop-color="#003dff"/><stop offset=".452" stop-color="#001cff"/><stop offset=".473" stop-color="#001eff"/><stop offset=".495" stop-color="#02f"/><stop offset=".516" stop-color="#0000fb"/><stop offset=".538" stop-color="#0000dc"/><stop offset=".559" stop-color="#0000db"/><stop offset=".581" stop-color="#0000db"/><stop offset=".602" stop-color="#0000db"/><stop offset=".624" stop-color="#00d"/><stop offset=".645" stop-color="#0000e2"/><stop offset=".667" stop-color="#0000e8"/><stop offset=".688" stop-color="#0000ef"/><stop offset=".71" stop-color="#001eff"/><stop offset=".731" stop-color="#0062ff"/><stop offset=".753" stop-color="#0085ff"/><stop offset=".774" stop-color="#09f"/><stop offset=".796" stop-color="#00a6ff"/><stop offset=".817" stop-color="#00d3ff"/><stop offset=".839" stop-color="#2affd5"/><stop offset=".86" stop-color="#83ff7c"/><stop offset=".882" stop-color="#c6ff39"/><stop offset=".903" stop-color="#edff12"/><stop offset=".925" stop-color="#fff300"/><stop offset=".935" stop-color="#ffed00"/><stop offset=".946" stop-color="#ffe700"/><stop offset=".957" stop-color="#ffd200"/><stop offset=".968" stop-color="#ffa500"/><stop offset=".978" stop-color="#ff6500"/><stop offset=".989" stop-color="#ff3100"/><stop offset="1" stop-color="#ff1400"/></linearGradient>
<linearGradient id="b0" x1="0" y1="0" x2="0" y2="1"><stop offset="0" stop-color="#000094"/><stop offset=".022" stop-color="#000094"/><stop offset=".043" stop-color="#000094"/><stop offset=".065" stop-color="#000094"/><stop offset=".086" stop-color="#000094"/><stop offset=".108" stop-color="#000094"/><stop offset=".129" stop-color="#000094"/><stop offset=".151" stop-color="#000097"/><stop offset=".172" stop-color="#0000ab"/><stop offset=".194" stop-color="#0000f8"/><stop offset=".215" stop-color="#0084ff"/><stop offset=".237" stop-color="#00d6ff"/><stop offset=".258" stop-color="#06fff9"/><stop offset=".28" stop-color="#16ffe9"/><stop offset=".301" stop-color="#1affe5"/><stop offset=".323" stop-color="#10ffef"/><stop offset=".344" stop-color="#03fffc"/><stop offset=".366" stop-color="#00f2ff"/><stop offset=".387" stop-color="#00cfff"/><stop offset=".409" stop-color="#0081ff"/><stop offset=".43" stop-color="#0016ff"/><stop offset=".452" stop-color="#0000b1"/><stop offset=".473" stop-color="#0000bf"/><stop offset=".495" stop-color="#0000e5"/><stop offset=".516" stop-color="#0000fb"/><stop offset=".538" stop-color="#0004ff"/><stop offset=".559" stop-color="#0000f4"/><stop offset=".581" stop-color="#0000de"/><stop offset=".602" stop-color="#0000c6"/><stop offset=".624" stop-color="#0000ba"/><stop offset=".645" stop-color="#0000b4"/><stop offset=".667" stop-color="#0000bd"/><stop offset=".688" stop-color="#0000e0"/><stop offset=".71" stop-color="#03f"/><stop offset=".731" stop-color="#007cff"/><stop offset=".753" stop-color="#007fff"/><stop offset=".774" stop-color="#0076ff"/><stop offset=".796" stop-color="#0046ff"/><stop offset=".817" stop-color="#005cff"/><stop offset=".839" stop-color="#08fff7"/><stop offset=".86" stop-color="#6bff94"/><stop offset=".882" stop-color="#8dff72"/><stop offset=".903" stop-color="#9eff61"/><stop offset=".925" stop-color="#adff52"/><stop offset=".935" stop-color="#cdff32"/><stop offset=".946" stop-color="#fff500"/><stop offset=".957" stop-color="#ffbe00"/><stop offset=".968" stop-color="#ff8c00"/><stop offset=".978" stop-color="#ff5c00"/><stop offset=".989" stop-color="#f30"/><stop offset="1" stop-color="#ff1600"/></linearGradient>
<linearGradient id="b1" x1="0" y1="0" x2="0" y2="1"><stop offset="0" stop-color="#000094"/><stop offset=".022" stop-color="#000094"/><stop offset=".043" stop-color="#000094"/><stop offset=".065" stop-color="#000094"/><stop offset=".086" stop-color="#000094"/><stop offset=".108" stop-color="#000094"/><stop offset=".129" stop-color="#000094"/><stop offset=".151" stop-color="#000098"/><stop offset=".172" stop-color="#0000ac"/><stop offset=".194" stop-color="#0000fb"/><stop offset=".215" stop-color="#0089ff"/><stop offset=".237" stop-color="#00dbff"/><stop offset=".258" stop-color="#09fff6"/><stop offset=".28" stop-color="#1affe5"/><stop offset=".301" stop-color="#1effe1"/><stop offset=".323" stop-color="#14ffeb"/><stop offset=".344" stop-color="#06fff9"/><stop offset=".366" stop-color="#00f6ff"/><stop offset=".387" stop-color="#00d3ff"/><stop offset=".409" stop-color="#0089ff"/><stop offset=".43" stop-color="#001bff"/><stop offset=".452" stop-color="#0000b2"/><stop offset=".473" stop-color="#0000c0"/><stop offset=".495" stop-color="#0000e7"/><stop offset=".516" stop-color="#0000fd"/><stop offset=".538" stop-color="#0005ff"/><stop offset=".559" stop-color="#0000f4"/><stop offset=".581" stop-color="#0000de"/><stop offset=".602" stop-color="#0000c8"/><stop offset=".624" stop-color="#00b"/><stop offset=".645" stop-color="#0000b6"/><stop offset=".667" stop-color="#0000be"/><stop offset=".688" stop-color="#0000e0"/><stop offset=".71" stop-color="#03f"/><stop offset=".731" stop-color="#007cff"/><stop offset=".753" stop-color="#007eff"/><stop offset=".774" stop-color="#0073ff"/><stop offset=".796" stop-color="#0042ff"/><stop offset=".817" stop-color="#005aff"/><stop offset=".839" stop-color="#0afff5"/><stop offset=".86" stop-color="#6cff93"/><stop offset=".882" stop-color="#8fff70"/><stop offset=".903" stop-color="#9dff62"/><stop offset=".925" stop-color="#a7ff58"/><stop offset=".935" stop-color="#c5ff3a"/><stop offset=".946" stop-color="#fffe00"/><stop offset=".957" stop-color="#ffc500"/><stop offset=".968" stop-color="#ff9100"/><stop offset=".978" stop-color="#ff5e00"/><stop offset=".989" stop-color="#ff3200"/><stop offset="1" stop-color="#ff1500"/></linearGradient>
<linearGradient id="b2" x1="0" y1="0" x2="0" y2="1"><stop offset="0" stop-color="#000094"/><stop offset=".022" stop-color="#000094"/><stop offset=".043" stop-color="#000094"/><stop offset=".065" stop-color="#000094"/><stop offset=".086" stop-color="#000094"/><stop offset=".108" stop-color="#000094"/><stop offset=".129" stop-color="#000094"/><stop offset=".151" stop-color="#000098"/><stop offset=".172" stop-color="#0000af"/><stop offset=".194" stop-color="#0002ff"/><stop offset=".215" stop-color="#0090ff"/><stop offset=".237" stop-color="#00e0ff"/><stop offset=".258" stop-color="#0efff1"/><stop offset=".28" stop-color="#1effe1"/><stop offset=".301" stop-color="#2fd"/><stop offset=".323" stop-color="#18ffe7"/><stop offset=".344" stop-color="#0afff5"/><stop offset=".366" stop-color="#00faff"/><stop offset=".387" stop-color="#00d8ff"/><stop offset=".409" stop-color="#0090ff"/><stop offset=".43" stop-color="#0021ff"/><stop offset=".452" stop-color="#0000b2"/><stop offset=".473" stop-color="#0000c1"/><stop offset=".495" stop-color="#0000e9"/><stop offset=".516" stop-color="#00f"/><stop offset=".538" stop-color="#0007ff"/><stop offset=".559" stop-color="#0000f5"/><stop offset=".581" stop-color="#0000de"/><stop offset=".602" stop-color="#0000c9"/><stop offset=".624" stop-color="#0000be"/><stop offset=".645" stop-color="#0000b8"/><stop offset=".667" stop-color="#0000c0"/><stop offset=".688" stop-color="#0000e0"/><stop offset=".71" stop-color="#0032ff"/><stop offset=".731" stop-color="#007cff"/><stop offset=".753" stop-color="#007dff"/><stop offset=".774" stop-color="#0070ff"/><stop offset=".796" stop-color="#0040ff"/><stop offset=".817" stop-color="#0058ff"/><stop offset=".839" stop-color="#0bfff4"/><stop offset=".86" stop-color="#6dff92"/><stop offset=".882" stop-color="#91ff6e"/><stop offset=".903" stop-color="#9cff63"/><stop offset=".925" stop-color="#a2ff5d"/><stop offset=".935" stop-color="#bdff42"/><stop offset=".946" stop-color="#f9ff06"/><stop offset=".957" stop-color="#ffcb00"/><stop offset=".968" stop-color="#ff9500"/><stop offset=".978" stop-color="#ff5f00"/><stop offset=".989" stop-color="#ff3200"/><stop offset="1" stop-color="#ff1500"/></linearGradient>
<linearGradient id="b3" x1="0" y1="0" x2="0" y2="1"><stop offset="0" stop-color="#000094"/><stop offset=".022" stop-color="#000094"/><stop offset=".043" stop-color="#000094"/><stop offset=".065" stop-color="#000094"/><stop offset=".086" stop-color="#000094"/><stop offset=".108" stop-color="#000094"/><stop offset=".129" stop-color="#000094"/><stop offset=".151" stop-color="#009"/><stop offset=".172" stop-color="#0000b4"/><stop offset=".194" stop-color="#0009ff"/><stop offset=".215" stop-color="#0097ff"/><stop offset=".237" stop-color="#00e6ff"/><stop offset=".258" stop-color="#12ffed"/><stop offset=".28" stop-color="#2fd"/><stop offset=".301" stop-color="#27ffd8"/><stop offset=".323" stop-color="#1dffe2"/><stop offset=".344" stop-color="#0ffff0"/><stop offset=".366" stop-color="#00feff"/><stop offset=".387" stop-color="#00deff"/><stop offset=".409" stop-color="#0098ff"/><stop offset=".43" stop-color="#0027ff"/><stop offset=".452" stop-color="#0000b3"/><stop offset=".473" stop-color="#0000c2"/><stop offset=".495" stop-color="#0000eb"/><stop offset=".516" stop-color="#0002ff"/><stop offset=".538" stop-color="#000aff"/><stop offset=".559" stop-color="#0000f6"/><stop offset=".581" stop-color="#0000df"/><stop offset=".602" stop-color="#0000cb"/><stop offset=".624" stop-color="#0000c0"/><stop offset=".645" stop-color="#0000ba"/><stop offset=".667" stop-color="#0000c1"/><stop offset=".688" stop-color="#0000e0"/><stop offset=".71" stop-color="#0032ff"/><stop offset=".731" stop-color="#007cff"/><stop offset=".753" stop-color="#007dff"/><stop offset=".774" stop-color="#006fff"/><stop offset=".796" stop-color="#003eff"/><stop offset=".817" stop-color="#0056ff"/><stop offset=".839" stop-color="#0cfff3"/><stop offset=".86" stop-color="#6dff92"/><stop offset=".882" stop-color="#93ff6c"/><stop offset=".903" stop-color="#9bff64"/><stop offset=".925" stop-color="#9dff62"/><stop offset=".935" stop-color="#b6ff49"/><stop offset=".946" stop-color="#f3ff0c"/><stop offset=".957" stop-color="#ffd000"/><stop offset=".968" stop-color="#f90"/><stop offset=".978" stop-color="#ff6000"/><stop offset=".989" stop-color="#ff3200"/><stop offset="1" stop-color="#ff1500"/></linearGradient>
<linearGradient id="b4" x1="0" y1="0" x2="0" y2="1"><stop offset="0" stop-color="#000094"/><stop offset=".022" stop-color="#000094"/><stop offset=".043" stop-color="#000094"/><stop offset=".065" stop-color="#000094"/><stop offset=".086" stop-color="#000094"/><stop offset=".108" stop-color="#000094"/><stop offset=".129" stop-color="#000094"/><stop offset=".151" stop-color="#00009a"/><stop offset=".172" stop-color="#0000b8"/><stop offset=".194" stop-color="#01f"/><stop offset=".215" stop-color="#009eff"/><stop offset=".237" stop-color="#00ecff"/><stop offset=".258" stop-color="#17ffe8"/><stop offset=".28" stop-color="#27ffd8"/><stop offset=".301" stop-color="#2bffd4"/><stop offset=".323" stop-color="#2fd"/><stop offset=".344" stop-color="#14ffeb"/><stop offset=".366" stop-color="#04fffb"/><stop offset=".387" stop-color="#00e3ff"/><stop offset=".409" stop-color="#00a1ff"/><stop offset=".43" stop-color="#002dff"/><stop offset=".452" stop-color="#0000b3"/><stop offset=".473" stop-color="#0000c3"/><stop offset=".495" stop-color="#00e"/><stop offset=".516" stop-color="#0005ff"/><stop offset=".538" stop-color="#000cff"/><stop offset=".559" stop-color="#0000f7"/><stop offset=".581" stop-color="#0000df"/><stop offset=".602" stop-color="#0000cd"/><stop offset=".624" stop-color="#0000c2"/><stop offset=".645" stop-color="#0000bd"/><stop offset=".667" stop-color="#0000c4"/><stop offset=".688" stop-color="#0000e1"/><stop offset=".71" stop-color="#0031ff"/><stop offset=".731" stop-color="#007cff"/><stop offset=".753" stop-color="#007cff"/><stop offset=".774" stop-color="#006eff"/><stop offset=".796" stop-color="#003eff"/><stop offset=".817" stop-color="#0056ff"/><stop offset=".839" stop-color="#0dfff2"/><stop offset=".86" stop-color="#6eff91"/><stop offset=".882" stop-color="#94ff6b"/><stop offset=".903" stop-color="#9bff64"/><stop offset=".925" stop-color="#98ff67"/><stop offset=".935" stop-color="#b1ff4e"/><stop offset=".946" stop-color="#ef1"/><stop offset=".957" stop-color="#ffd400"/><stop offset=".968" stop-color="#ff9c00"/><stop offset=".978" stop-color="#ff6100"/><stop offset=".989" stop-color="#ff3100"/><stop offset="1" stop-color="#ff1500"/></linearGradient>
<linearGradient id="b5" x1="0" y1="0" x2="0" y2="1"><stop offset="0" stop-color="#000094"/><stop offset=".022" stop-color="#000094"/><stop offset=".043" stop-color="#000094"/><stop offset=".065" stop-color="#000094"/><stop offset=".086" stop-color="#000094"/><stop offset=".108" stop-color="#000094"/><stop offset=".129" stop-color="#000094"/><stop offset=".151" stop-color="#00009b"/><stop offset=".172" stop-color="#0000be"/><stop offset=".194" stop-color="#001aff"/><stop offset=".215" stop-color="#00a7ff"/><stop offset=".237" stop-color="#00f2ff"/><stop offset=".258" stop-color="#1cffe3"/><stop offset=".28" stop-color="#2cffd3"/><stop offset=".301" stop-color="#31ffce"/><stop offset=".323" stop-color="#27ffd8"/><stop offset=".344" stop-color="#19ffe6"/><stop offset=".366" stop-color="#09fff6"/><stop offset=".387" stop-color="#00eaff"/><stop offset=".409" stop-color="#0af"/><stop offset=".43" stop-color="#0034ff"/><stop offset=".452" stop-color="#0000b4"/><stop offset=".473" stop-color="#0000c4"/><stop offset=".495" stop-color="#0000f1"/><stop offset=".516" stop-color="#0009ff"/><stop offset=".538" stop-color="#0010ff"/><stop offset=".559" stop-color="#0000f8"/><stop offset=".581" stop-color="#0000e0"/><stop offset=".602" stop-color="#0000ce"/><stop offset=".624" stop-color="#0000c4"/><stop offset=".645" stop-color="#0000bf"/><stop offset=".667" stop-color="#0000c6"/><stop offset=".688" stop-color="#0000e2"/><stop offset=".71" stop-color="#0032ff"/><stop offset=".731" stop-color="#007dff"/><stop offset=".753" stop-color="#007dff"/><stop offset=".774" stop-color="#006eff"/><stop offset=".796" stop-color="#003eff"/><stop offset=".817" stop-color="#0056ff"/><stop offset=".839" stop-color="#0dfff2"/><stop offset=".86" stop-color="#6eff91"/><stop offset=".882" stop-color="#95ff6a"/><stop offset=".903" stop-color="#9bff64"/><stop offset=".925" stop-color="#93ff6c"/><stop offset=".935" stop-color="#acff53"/><stop offset=".946" stop-color="#eaff15"/><stop offset=".957" stop-color="#ffd800"/><stop offset=".968" stop-color="#ff9e00"/><stop offset=".978" stop-color="#ff6100"/><stop offset=".989" stop-color="#ff3100"/><stop offset="1" stop-color="#ff1500"/></linearGradient>
<linearGradient id="b6" x1="0" y1="0" x2="0" y2="1"><stop offset="0" stop-color="#000094"/><stop offset=".022" stop-color="#000094"/><stop offset=".043" stop-color="#000095"/><stop offset=".065" stop-color="#000095"/><stop offset=".086" stop-color="#000095"/><stop offset=".108" stop-color="#000095"/><stop offset=".129" stop-color="#000095"/><stop offset=".151" stop-color="#00009d"/><stop offset=".172" stop-color="#0000c5"/><stop offset=".194" stop-color="#0025ff"/><stop offset=".215" stop-color="#00b1ff"/><stop offset=".237" stop-color="#00f9ff"/><stop offset=".258" stop-color="#2fd"/><stop offset=".28" stop-color="#31ffce"/><stop offset=".301" stop-color="#36ffc9"/><stop offset=".323" stop-color="#2cffd3"/><stop offset=".344" stop-color="#1effe1"/><stop offset=".366" stop-color="#0ffff0"/><stop offset=".387" stop-color="#00f0ff"/><stop offset=".409" stop-color="#00b4ff"/><stop offset=".43" stop-color="#003cff"/><stop offset=".452" stop-color="#0000b6"/><stop offset=".473" stop-color="#0000c6"/><stop offset=".495" stop-color="#0000f4"/><stop offset=".516" stop-color="#000eff"/><stop offset=".538" stop-color="#0016ff"/><stop offset=".559" stop-color="#0000fc"/><stop offset=".581" stop-color="#0000e2"/><stop offset=".602" stop-color="#0000d0"/><stop offset=".624" stop-color="#0000c7"/><stop offset=".645" stop-color="#0000c3"/><stop offset=".667" stop-color="#0000c9"/><stop offset=".688" stop-color="#0000e4"/><stop offset=".71" stop-color="#0035ff"/><stop offset=".731" stop-color="#0080ff"/><stop offset=".753" stop-color="#007fff"/><stop offset=".774" stop-color="#006fff"/><stop offset=".796" stop-color="#003fff"/><stop offset=".817" stop-color="#0057ff"/><stop offset=".839" stop-color="#0dfff2"/><stop offset=".86" stop-color="#6fff90"/><stop offset=".882" stop-color="#97ff68"/><stop offset=".903" stop-color="#9aff65"/><stop offset=".925" stop-color="#8eff71"/><stop offset=".935" stop-color="#a7ff58"/><stop offset=".946" stop-color="#e7ff18"/><stop offset=".957" stop-color="#ffdb00"/><stop offset=".968" stop-color="#ffa100"/><stop offset=".978" stop-color="#ff6200"/><stop offset=".989" stop-color="#ff3100"/><stop offset="1" stop-color="#ff1500"/></linearGradient>
<linearGradient id="b7" x1="0" y1="0" x2="0" y2="1"><stop offset="0" stop-color="#000094"/><stop offset=".022" stop-color="#000094"/><stop offset=".043" stop-color="#000096"/><stop offset=".065" stop-color="#000097"/><stop offset=".086" stop-color="#000097"/><stop offset=".108" stop-color="#000097"/><stop offset=".129" stop-color="#000097"/><stop offset=".151" stop-color="#0000a1"/><stop offset=".172" stop-color="#0000d0"/><stop offset=".194" stop-color="#03f"/><stop offset=".215" stop-color="#00bcff"/><stop offset=".237" stop-color="#02fffd"/><stop offset=".258" stop-color="#27ffd8"/><stop offset=".28" stop-color="#37ffc8"/><stop offset=".301" stop-color="#3cffc3"/><stop offset=".323" stop-color="#32ffcd"/><stop offset=".344" stop-color="#24ffdb"/><stop offset=".366" stop-color="#15ffea"/><stop offset=".387" stop-color="#00f8ff"/><stop offset=".409" stop-color="#00beff"/><stop offset=".43" stop-color="#0045ff"/><stop offset=".452" stop-color="#0000b9"/><stop offset=".473" stop-color="#0000c9"/><stop offset=".495" stop-color="#0000f9"/><stop offset=".516" stop-color="#0014ff"/><stop offset=".538" stop-color="#001cff"/><stop offset=".559" stop-color="#0003ff"/><stop offset=".581" stop-color="#0000e6"/><stop offset=".602" stop-color="#0000d2"/><stop offset=".624" stop-color="#0000c9"/><stop offset=".645" stop-color="#0000c6"/><stop offset=".667" stop-color="#0000cd"/><stop offset=".688" stop-color="#0000e9"/><stop offset=".71" stop-color="#0039ff"/><stop offset=".731" stop-color="#0085ff"/><stop offset=".753" stop-color="#0083ff"/><stop offset=".774" stop-color="#0071ff"/><stop offset=".796" stop-color="#0042ff"/><stop offset=".817" stop-color="#0059ff"/><stop offset=".839" stop-color="#0cfff3"/><stop offset=".86" stop-color="#70ff8f"/><stop offset=".882" stop-color="#9f6"/><stop offset=".903" stop-color="#9aff65"/><stop offset=".925" stop-color="#89ff76"/><stop offset=".935" stop-color="#a3ff5c"/><stop offset=".946" stop-color="#e4ff1b"/><stop offset=".957" stop-color="#fd0"/><stop offset=".968" stop-color="#ffa300"/><stop offset=".978" stop-color="#ff6300"/><stop offset=".989" stop-color="#ff3100"/><stop offset="1" stop-color="#ff1500"/></linearGradient>
<linearGradient id="b8" x1="0" y1="0" x2="0" y2="1"><stop offset="0" stop-color="#000094"/><stop offset=".022" stop-color="#000094"/><stop offset=".043" stop-color="#000098"/><stop offset=".065" stop-color="#00009a"/><stop offset=".086" stop-color="#00009a"/><stop offset=".108" stop-color="#00009a"/><stop offset=".129" stop-color="#00009a"/><stop offset=".151" stop-color="#0000a5"/><stop offset=".172" stop-color="#0000dc"/><stop offset=".194" stop-color="#0043ff"/><stop offset=".215" stop-color="#00c8ff"/><stop offset=".237" stop-color="#0bfff4"/><stop offset=".258" stop-color="#2effd1"/><stop offset=".28" stop-color="#3effc1"/><stop offset=".301" stop-color="#42ffbd"/><stop offset=".323" stop-color="#39ffc6"/><stop offset=".344" stop-color="#2bffd4"/><stop offset=".366" stop-color="#1cffe3"/><stop offset=".387" stop-color="#0ff"/><stop offset=".409" stop-color="#00c8ff"/><stop offset=".43" stop-color="#004eff"/><stop offset=".452" stop-color="#0000bc"/><stop offset=".473" stop-color="#00c"/><stop offset=".495" stop-color="#0000fd"/><stop offset=".516" stop-color="#001bff"/><stop offset=".538" stop-color="#0024ff"/><stop offset=".559" stop-color="#0009ff"/><stop offset=".581" stop-color="#0000eb"/><stop offset=".602" stop-color="#0000d4"/><stop offset=".624" stop-color="#00c"/><stop offset=".645" stop-color="#0000cb"/><stop offset=".667" stop-color="#0000d2"/><stop offset=".688" stop-color="#00e"/><stop offset=".71" stop-color="#003fff"/><stop offset=".731" stop-color="#008aff"/><stop offset=".753" stop-color="#08f"/><stop offset=".774" stop-color="#0074ff"/><stop offset=".796" stop-color="#04f"/><stop offset=".817" stop-color="#005bff"/><stop offset=".839" stop-color="#0cfff3"/><stop offset=".86" stop-color="#72ff8d"/><stop offset=".882" stop-color="#9cff63"/><stop offset=".903" stop-color="#9aff65"/><stop offset=".925" stop-color="#86ff79"/><stop offset=".935" stop-color="#9fff60"/><stop offset=".946" stop-color="#e2ff1d"/><stop offset=".957" stop-color="#ffdf00"/><stop offset=".968" stop-color="#ffa500"/><stop offset=".978" stop-color="#ff6300"/><stop offset=".989" stop-color="#ff3100"/><stop offset="1" stop-color="#ff1500"/></linearGradient>
<linearGradient id="b9" x1="0" y1="0" x2="0" y2="1"><stop offset="0" stop-color="#000094"/><stop offset=".022" stop-color="#000094"/><stop offset=".043" stop-color="#00009a"/><stop offset=".065" stop-color="#00009e"/><stop offset=".086" stop-color="#00009e"/><stop offset=".108" stop-color="#00009e"/><stop offset=".129" stop-color="#00009e"/><stop offset=".151" stop-color="#0000ab"/><stop offset=".172" stop-color="#0000ea"/><stop offset=".194" stop-color="#0054ff"/><stop offset=".215" stop-color="#00d4ff"/><stop offset=".237" stop-color="#15ffea"/><stop offset=".258" stop-color="#36ffc9"/><stop offset=".28" stop-color="#46ffb9"/><stop offset=".301" stop-color="#4affb5"/><stop offset=".323" stop-color="#41ffbe"/><stop offset=".344" stop-color="#3fc"/><stop offset=".366" stop-color="#23ffdc"/><stop offset=".387" stop-color="#08fff7"/><stop offset=".409" stop-color="#00d2ff"/><stop offset=".43" stop-color="#0056ff"/><stop offset=".452" stop-color="#0000c0"/><stop offset=".473" stop-color="#0000d0"/><stop offset=".495" stop-color="#0003ff"/><stop offset=".516" stop-color="#0021ff"/><stop offset=".538" stop-color="#002aff"/><stop offset=".559" stop-color="#0010ff"/><stop offset=".581" stop-color="#0000f0"/><stop offset=".602" stop-color="#0000d7"/><stop offset=".624" stop-color="#0000d0"/><stop offset=".645" stop-color="#0000d0"/><stop offset=".667" stop-color="#0000d8"/><stop offset=".688" stop-color="#0000f4"/><stop offset=".71" stop-color="#0045ff"/><stop offset=".731" stop-color="#0090ff"/><stop offset=".753" stop-color="#008cff"/><stop offset=".774" stop-color="#07f"/><stop offset=".796" stop-color="#0047ff"/><stop offset=".817" stop-color="#005dff"/><stop offset=".839" stop-color="#0cfff3"/><stop offset=".86" stop-color="#73ff8c"/><stop offset=".882" stop-color="#9eff61"/><stop offset=".903" stop-color="#9bff64"/><stop offset=".925" stop-color="#84ff7b"/><stop offset=".935" stop-color="#9eff61"/><stop offset=".946" stop-color="#e1ff1e"/><stop offset=".957" stop-color="#ffe000"/><stop offset=".968" stop-color="#ffa600"/><stop offset=".978" stop-color="#ff6400"/><stop offset=".989" stop-color="#ff3100"/><stop offset="1" stop-color="#ff1500"/></linearGradient>
<linearGradient id="b10" x1="0" y1="0" x2="0" y2="1"><stop offset="0" stop-color="#000098"/><stop offset=".022" stop-color="#000098"/><stop offset=".043" stop-color="#0000a1"/><stop offset=".065" stop-color="#0000a7"/><stop offset=".086" stop-color="#0000a6"/><stop offset=".108" stop-color="#0000a6"/><stop offset=".129" stop-color="#0000a8"/><stop offset=".151" stop-color="#0000b8"/><stop offset=".172" stop-color="#0000fe"/><stop offset=".194" stop-color="#0069ff"/><stop offset=".215" stop-color="#00e2ff"/><stop offset=".237" stop-color="#20ffdf"/><stop offset=".258" stop-color="#41ffbe"/><stop offset=".28" stop-color="#50ffaf"/><stop offset=".301" stop-color="#5fa"/><stop offset=".323" stop-color="#4bffb4"/><stop offset=".344" stop-color="#3dffc2"/><stop offset=".366" stop-color="#2bffd4"/><stop offset=".387" stop-color="#0ffff0"/><stop offset=".409" stop-color="#00daff"/><stop offset=".43" stop-color="#005eff"/><stop offset=".452" stop-color="#0000c4"/><stop offset=".473" stop-color="#0000d4"/><stop offset=".495" stop-color="#0009ff"/><stop offset=".516" stop-color="#0027ff"/><stop offset=".538" stop-color="#0031ff"/><stop offset=".559" stop-color="#0016ff"/><stop offset=".581" stop-color="#0000f6"/><stop offset=".602" stop-color="#0000dc"/><stop offset=".624" stop-color="#0000d6"/><stop offset=".645" stop-color="#0000d7"/><stop offset=".667" stop-color="#0000df"/><stop offset=".688" stop-color="#0000fb"/><stop offset=".71" stop-color="#004bff"/><stop offset=".731" stop-color="#0095ff"/><stop offset=".753" stop-color="#0091ff"/><stop offset=".774" stop-color="#007bff"/><stop offset=".796" stop-color="#004aff"/><stop offset=".817" stop-color="#005eff"/><stop offset=".839" stop-color="#09fff6"/><stop offset=".86" stop-color="#74ff8b"/><stop offset=".882" stop-color="#a1ff5e"/><stop offset=".903" stop-color="#9eff61"/><stop offset=".925" stop-color="#85ff7a"/><stop offset=".935" stop-color="#9fff60"/><stop offset=".946" stop-color="#e1ff1e"/><stop offset=".957" stop-color="#ffe000"/><stop offset=".968" stop-color="#ffa600"/><stop offset=".978" stop-color="#ff6400"/><stop offset=".989" stop-color="#ff3100"/><stop offset="1" stop-color="#ff1400"/></linearGradient>
<linearGradient id="b11" x1="0" y1="0" x2="0" y2="1"><stop offset="0" stop-color="#0000a3"/><stop offset=".022" stop-color="#0000a3"/><stop offset=".043" stop-color="#0000b0"/><stop offset=".065" stop-color="#0000b8"/><stop offset=".086" stop-color="#0000b8"/><stop offset=".108" stop-color="#0000b8"/><stop offset=".129" stop-color="#0000bc"/><stop offset=".151" stop-color="#0000d2"/><stop offset=".172" stop-color="#001cff"/><stop offset=".194" stop-color="#0081ff"/><stop offset=".215" stop-color="#00f1ff"/><stop offset=".237" stop-color="#2dffd2"/><stop offset=".258" stop-color="#4effb1"/><stop offset=".28" stop-color="#5effa1"/><stop offset=".301" stop-color="#63ff9c"/><stop offset=".323" stop-color="#59ffa6"/><stop offset=".344" stop-color="#4affb5"/><stop offset=".366" stop-color="#35ffca"/><stop offset=".387" stop-color="#16ffe9"/><stop offset=".409" stop-color="#00e3ff"/><stop offset=".43" stop-color="#0065ff"/><stop offset=".452" stop-color="#0000ca"/><stop offset=".473" stop-color="#0000db"/><stop offset=".495" stop-color="#000fff"/><stop offset=".516" stop-color="#002dff"/><stop offset=".538" stop-color="#0036ff"/><stop offset=".559" stop-color="#001dff"/><stop offset=".581" stop-color="#0000fe"/><stop offset=".602" stop-color="#0000e5"/><stop offset=".624" stop-color="#0000df"/><stop offset=".645" stop-color="#0000e0"/><stop offset=".667" stop-color="#0000e9"/><stop offset=".688" stop-color="#0006ff"/><stop offset=".71" stop-color="#0053ff"/><stop offset=".731" stop-color="#009bff"/><stop offset=".753" stop-color="#0096ff"/><stop offset=".774" stop-color="#007fff"/><stop offset=".796" stop-color="#004dff"/><stop offset=".817" stop-color="#005eff"/><stop offset=".839" stop-color="#03fffc"/><stop offset=".86" stop-color="#74ff8b"/><stop offset=".882" stop-color="#a4ff5b"/><stop offset=".903" stop-color="#a1ff5e"/><stop offset=".925" stop-color="#8f7"/><stop offset=".935" stop-color="#a1ff5e"/><stop offset=".946" stop-color="#e3ff1c"/><stop offset=".957" stop-color="#ffdf00"/><stop offset=".968" stop-color="#ffa600"/><stop offset=".978" stop-color="#ff6400"/><stop offset=".989" stop-color="#ff3100"/><stop offset="1" stop-color="#ff1400"/></linearGradient>
<linearGradient id="b12" x1="0" y1="0" x2="0" y2="1"><stop offset="0" stop-color="#0000b2"/><stop offset=".022" stop-color="#0000b2"/><stop offset=".043" stop-color="#0000c3"/><stop offset=".065" stop-color="#0000cf"/><stop offset=".086" stop-color="#0000ce"/><stop offset=".108" stop-color="#0000cf"/><stop offset=".129" stop-color="#0000d7"/><stop offset=".151" stop-color="#0000f3"/><stop offset=".172" stop-color="#003dff"/><stop offset=".194" stop-color="#009cff"/><stop offset=".215" stop-color="#01fffe"/><stop offset=".237" stop-color="#3cffc3"/><stop offset=".258" stop-color="#5effa1"/><stop offset=".28" stop-color="#6eff91"/><stop offset=".301" stop-color="#72ff8d"/><stop offset=".323" stop-color="#69ff96"/><stop offset=".344" stop-color="#59ffa6"/><stop offset=".366" stop-color="#40ffbf"/><stop offset=".387" stop-color="#1dffe2"/><stop offset=".409" stop-color="#00ebff"/><stop offset=".43" stop-color="#006dff"/><stop offset=".452" stop-color="#0000d1"/><stop offset=".473" stop-color="#0000e2"/><stop offset=".495" stop-color="#0016ff"/><stop offset=".516" stop-color="#03f"/><stop offset=".538" stop-color="#003cff"/><stop offset=".559" stop-color="#0024ff"/><stop offset=".581" stop-color="#0008ff"/><stop offset=".602" stop-color="#0000f0"/><stop offset=".624" stop-color="#0000eb"/><stop offset=".645" stop-color="#0000ec"/><stop offset=".667" stop-color="#0000f4"/><stop offset=".688" stop-color="#01f"/><stop offset=".71" stop-color="#005cff"/><stop offset=".731" stop-color="#00a1ff"/><stop offset=".753" stop-color="#009cff"/><stop offset=".774" stop-color="#0085ff"/><stop offset=".796" stop-color="#0051ff"/><stop offset=".817" stop-color="#005eff"/><stop offset=".839" stop-color="#00fbff"/><stop offset=".86" stop-color="#74ff8b"/><stop offset=".882" stop-color="#a8ff57"/><stop offset=".903" stop-color="#a5ff5a"/><stop offset=".925" stop-color="#8cff73"/><stop offset=".935" stop-color="#a5ff5a"/><stop offset=".946" stop-color="#e5ff1a"/><stop offset=".957" stop-color="#ffde00"/><stop offset=".968" stop-color="#ffa500"/><stop offset=".978" stop-color="#ff6400"/><stop offset=".989" stop-color="#ff3100"/><stop offset="1" stop-color="#ff1400"/></linearGradient>
<linearGradient id="b13" x1="0" y1="0" x2="0" y2="1"><stop offset="0" stop-color="#0000c2"/><stop offset=".022" stop-color="#0000c3"/><stop offset=".043" stop-color="#0000d8"/><stop offset=".065" stop-color="#0000e7"/><stop offset=".086" stop-color="#0000e6"/><stop offset=".108" stop-color="#0000e7"/><stop offset=".129" stop-color="#0000f4"/><stop offset=".151" stop-color="#0015ff"/><stop offset=".172" stop-color="#005fff"/><stop offset=".194" stop-color="#00b7ff"/><stop offset=".215" stop-color="#12ffed"/><stop offset=".237" stop-color="#4cffb3"/><stop offset=".258" stop-color="#6fff90"/><stop offset=".28" stop-color="#7eff81"/><stop offset=".301" stop-color="#83ff7c"/><stop offset=".323" stop-color="#7aff85"/><stop offset=".344" stop-color="#69ff96"/><stop offset=".366" stop-color="#4bffb4"/><stop offset=".387" stop-color="#26ffd9"/><stop offset=".409" stop-color="#00f3ff"/><stop offset=".43" stop-color="#0075ff"/><stop offset=".452" stop-color="#0000d8"/><stop offset=".473" stop-color="#0000e9"/><stop offset=".495" stop-color="#001dff"/><stop offset=".516" stop-color="#003aff"/><stop offset=".538" stop-color="#0043ff"/><stop offset=".559" stop-color="#002dff"/><stop offset=".581" stop-color="#0012ff"/><stop offset=".602" stop-color="#0000fc"/><stop offset=".624" stop-color="#0000f8"/><stop offset=".645" stop-color="#0000f8"/><stop offset=".667" stop-color="#0001ff"/><stop offset=".688" stop-color="#001dff"/><stop offset=".71" stop-color="#0065ff"/><stop offset=".731" stop-color="#00a8ff"/><stop offset=".753" stop-color="#00a4ff"/><stop offset=".774" stop-color="#008dff"/><stop offset=".796" stop-color="#0056ff"/><stop offset=".817" stop-color="#0060ff"/><stop offset=".839" stop-color="#00f5ff"/><stop offset=".86" stop-color="#74ff8b"/><stop offset=".882" stop-color="#acff53"/><stop offset=".903" stop-color="#af5"/><stop offset=".925" stop-color="#92ff6d"/><stop offset=".935" stop-color="#af5"/><stop offset=".946" stop-color="#e9ff16"/><stop offset=".957" stop-color="#ffdc00"/><stop offset=".968" stop-color="#ffa500"/><stop offset=".978" stop-color="#ff6400"/><stop offset=".989" stop-color="#ff3100"/><stop offset="1" stop-color="#ff1400"/></linearGradient>
<linearGradient id="b14" x1="0" y1="0" x2="0" y2="1"><stop offset="0" stop-color="#0000d1"/><stop offset=".022" stop-color="#0000d3"/><stop offset=".043" stop-color="#0000ea"/><stop offset=".065" stop-color="#0000fa"/><stop offset=".086" stop-color="#0000fa"/><stop offset=".108" stop-color="#0000fd"/><stop offset=".129" stop-color="#000eff"/><stop offset=".151" stop-color="#03f"/><stop offset=".172" stop-color="#007cff"/><stop offset=".194" stop-color="#00cfff"/><stop offset=".215" stop-color="#24ffdb"/><stop offset=".237" stop-color="#5cffa3"/><stop offset=".258" stop-color="#7fff80"/><stop offset=".28" stop-color="#8fff70"/><stop offset=".301" stop-color="#94ff6b"/><stop offset=".323" stop-color="#8aff75"/><stop offset=".344" stop-color="#78ff87"/><stop offset=".366" stop-color="#57ffa8"/><stop offset=".387" stop-color="#2fffd0"/><stop offset=".409" stop-color="#00fbff"/><stop offset=".43" stop-color="#007dff"/><stop offset=".452" stop-color="#0000e0"/><stop offset=".473" stop-color="#0000ef"/><stop offset=".495" stop-color="#0023ff"/><stop offset=".516" stop-color="#0041ff"/><stop offset=".538" stop-color="#004bff"/><stop offset=".559" stop-color="#0036ff"/><stop offset=".581" stop-color="#001dff"/><stop offset=".602" stop-color="#000aff"/><stop offset=".624" stop-color="#0006ff"/><stop offset=".645" stop-color="#0006ff"/><stop offset=".667" stop-color="#000dff"/><stop offset=".688" stop-color="#002aff"/><stop offset=".71" stop-color="#0070ff"/><stop offset=".731" stop-color="#00b0ff"/><stop offset=".753" stop-color="#00acff"/><stop offset=".774" stop-color="#0095ff"/><stop offset=".796" stop-color="#005dff"/><stop offset=".817" stop-color="#0064ff"/><stop offset=".839" stop-color="#00f2ff"/><stop offset=".86" stop-color="#75ff8a"/><stop offset=".882" stop-color="#b0ff4f"/><stop offset=".903" stop-color="#b0ff4f"/><stop offset=".925" stop-color="#9f6"/><stop offset=".935" stop-color="#b0ff4f"/><stop offset=".946" stop-color="#edff12"/><stop offset=".957" stop-color="#ffda00"/><stop offset=".968" stop-color="#ffa500"/><stop offset=".978" stop-color="#ff6400"/><stop offset=".989" stop-color="#ff3100"/><stop offset="1" stop-color="#ff1500"/></linearGradient>
<linearGradient id="b15" x1="0" y1="0" x2="0" y2="1"><stop offset="0" stop-color="#0000e0"/><stop offset=".022" stop-color="#0000e4"/><stop offset=".043" stop-color="#0000fa"/><stop offset=".065" stop-color="#000cff"/><stop offset=".086" stop-color="#000eff"/><stop offset=".108" stop-color="#0013ff"/><stop offset=".129" stop-color="#0027ff"/><stop offset=".151" stop-color="#004eff"/><stop offset=".172" stop-color="#0097ff"/><stop offset=".194" stop-color="#00e9ff"/><stop offset=".215" stop-color="#3bffc4"/><stop offset=".237" stop-color="#71ff8e"/><stop offset=".258" stop-color="#93ff6c"/><stop offset=".28" stop-color="#a2ff5d"/><stop offset=".301" stop-color="#a7ff58"/><stop offset=".323" stop-color="#9dff62"/><stop offset=".344" stop-color="#89ff76"/><stop offset=".366" stop-color="#65ff9a"/><stop offset=".387" stop-color="#3bffc4"/><stop offset=".409" stop-color="#06fff9"/><stop offset=".43" stop-color="#0085ff"/><stop offset=".452" stop-color="#0000e8"/><stop offset=".473" stop-color="#0000f6"/><stop offset=".495" stop-color="#0029ff"/><stop offset=".516" stop-color="#004aff"/><stop offset=".538" stop-color="#0056ff"/><stop offset=".559" stop-color="#0041ff"/><stop offset=".581" stop-color="#002aff"/><stop offset=".602" stop-color="#0019ff"/><stop offset=".624" stop-color="#0015ff"/><stop offset=".645" stop-color="#0016ff"/><stop offset=".667" stop-color="#001dff"/><stop offset=".688" stop-color="#0039ff"/><stop offset=".71" stop-color="#007eff"/><stop offset=".731" stop-color="#00bcff"/><stop offset=".753" stop-color="#00b9ff"/><stop offset=".774" stop-color="#00a3ff"/><stop offset=".796" stop-color="#006bff"/><stop offset=".817" stop-color="#006fff"/><stop offset=".839" stop-color="#00f8ff"/><stop offset=".86" stop-color="#79ff86"/><stop offset=".882" stop-color="#b7ff48"/><stop offset=".903" stop-color="#b8ff47"/><stop offset=".925" stop-color="#a4ff5b"/><stop offset=".935" stop-color="#baff45"/><stop offset=".946" stop-color="#f5ff0a"/><stop offset=".957" stop-color="#ffd500"/><stop offset=".968" stop-color="#ffa200"/><stop offset=".978" stop-color="#ff6300"/><stop offset=".989" stop-color="#ff3100"/><stop offset="1" stop-color="#ff1500"/></linearGradient>
<linearGradient id="b16" x1="0" y1="0" x2="0" y2="1"><stop offset="0" stop-color="#0000f1"/><stop offset=".022" stop-color="#0000f7"/><stop offset=".043" stop-color="#000cff"/><stop offset=".065" stop-color="#001eff"/><stop offset=".086" stop-color="#02f"/><stop offset=".108" stop-color="#002bff"/><stop offset=".129" stop-color="#0041ff"/><stop offset=".151" stop-color="#006aff"/><stop offset=".172" stop-color="#00b3ff"/><stop offset=".194" stop-color="#06fff9"/><stop offset=".215" stop-color="#56ffa9"/><stop offset=".237" stop-color="#89ff76"/><stop offset=".258" stop-color="#a9ff56"/><stop offset=".28" stop-color="#b8ff47"/><stop offset=".301" stop-color="#bdff42"/><stop offset=".323" stop-color="#b1ff4e"/><stop offset=".344" stop-color="#9cff63"/><stop offset=".366" stop-color="#7f8"/><stop offset=".387" stop-color="#4affb5"/><stop offset=".409" stop-color="#12ffed"/><stop offset=".43" stop-color="#008eff"/><stop offset=".452" stop-color="#0000f2"/><stop offset=".473" stop-color="#0000fe"/><stop offset=".495" stop-color="#002eff"/><stop offset=".516" stop-color="#05f"/><stop offset=".538" stop-color="#0064ff"/><stop offset=".559" stop-color="#004fff"/><stop offset=".581" stop-color="#0039ff"/><stop offset=".602" stop-color="#002cff"/><stop offset=".624" stop-color="#0029ff"/><stop offset=".645" stop-color="#0029ff"/><stop offset=".667" stop-color="#0030ff"/><stop offset=".688" stop-color="#004dff"/><stop offset=".71" stop-color="#0090ff"/><stop offset=".731" stop-color="#00cdff"/><stop offset=".753" stop-color="#00caff"/><stop offset=".774" stop-color="#00b8ff"/><stop offset=".796" stop-color="#0081ff"/><stop offset=".817" stop-color="#0083ff"/><stop offset=".839" stop-color="#09fff6"/><stop offset=".86" stop-color="#82ff7d"/><stop offset=".882" stop-color="#bfff40"/><stop offset=".903" stop-color="#c3ff3c"/><stop offset=".925" stop-color="#b4ff4b"/><stop offset=".935" stop-color="#caff35"/><stop offset=".946" stop-color="#fffd00"/><stop offset=".957" stop-color="#fc0"/><stop offset=".968" stop-color="#ff9d00"/><stop offset=".978" stop-color="#ff6200"/><stop offset=".989" stop-color="#ff3100"/><stop offset="1" stop-color="#ff1500"/></linearGradient>
<linearGradient id="b17" x1="0" y1="0" x2="0" y2="1"><stop offset="0" stop-color="#0002ff"/><stop offset=".022" stop-color="#000aff"/><stop offset=".043" stop-color="#001cff"/><stop offset=".065" stop-color="#002dff"/><stop offset=".086" stop-color="#0034ff"/><stop offset=".108" stop-color="#0040ff"/><stop offset=".129" stop-color="#0059ff"/><stop offset=".151" stop-color="#0084ff"/><stop offset=".172" stop-color="#0cf"/><stop offset=".194" stop-color="#20ffdf"/><stop offset=".215" stop-color="#71ff8e"/><stop offset=".237" stop-color="#a0ff5f"/><stop offset=".258" stop-color="#bdff42"/><stop offset=".28" stop-color="#cdff32"/><stop offset=".301" stop-color="#d1ff2e"/><stop offset=".323" stop-color="#c4ff3b"/><stop offset=".344" stop-color="#adff52"/><stop offset=".366" stop-color="#87ff78"/><stop offset=".387" stop-color="#58ffa7"/><stop offset=".409" stop-color="#1cffe3"/><stop offset=".43" stop-color="#0097ff"/><stop offset=".452" stop-color="#0000fc"/><stop offset=".473" stop-color="#0006ff"/><stop offset=".495" stop-color="#0034ff"/><stop offset=".516" stop-color="#0060ff"/><stop offset=".538" stop-color="#0073ff"/><stop offset=".559" stop-color="#005dff"/><stop offset=".581" stop-color="#0049ff"/><stop offset=".602" stop-color="#003dff"/><stop offset=".624" stop-color="#003bff"/><stop offset=".645" stop-color="#003bff"/><stop offset=".667" stop-color="#0043ff"/><stop offset=".688" stop-color="#005fff"/><stop offset=".71" stop-color="#00a2ff"/><stop offset=".731" stop-color="#0df"/><stop offset=".753" stop-color="#00dcff"/><stop offset=".774" stop-color="#00ceff"/><stop offset=".796" stop-color="#009dff"/><stop offset=".817" stop-color="#009cff"/><stop offset=".839" stop-color="#1effe1"/><stop offset=".86" stop-color="#8dff72"/><stop offset=".882" stop-color="#c8ff37"/><stop offset=".903" stop-color="#d0ff2f"/><stop offset=".925" stop-color="#c7ff38"/><stop offset=".935" stop-color="#dcff23"/><stop offset=".946" stop-color="#ffef00"/><stop offset=".957" stop-color="#ffc100"/><stop offset=".968" stop-color="#ff9500"/><stop offset=".978" stop-color="#ff6000"/><stop offset=".989" stop-color="#ff3200"/><stop offset="1" stop-color="#ff1500"/></linearGradient>
<linearGradient id="b18" x1="0" y1="0" x2="0" y2="1"><stop offset="0" stop-color="#000cff"/><stop offset=".022" stop-color="#0016ff"/><stop offset=".043" stop-color="#0027ff"/><stop offset=".065" stop-color="#0037ff"/><stop offset=".086" stop-color="#0040ff"/><stop offset=".108" stop-color="#004fff"/><stop offset=".129" stop-color="#0069ff"/><stop offset=".151" stop-color="#0095ff"/><stop offset=".172" stop-color="#00dcff"/><stop offset=".194" stop-color="#31ffce"/><stop offset=".215" stop-color="#83ff7c"/><stop offset=".237" stop-color="#b1ff4e"/><stop offset=".258" stop-color="#cf3"/><stop offset=".28" stop-color="#dbff24"/><stop offset=".301" stop-color="#dfff20"/><stop offset=".323" stop-color="#d2ff2d"/><stop offset=".344" stop-color="#b9ff46"/><stop offset=".366" stop-color="#93ff6c"/><stop offset=".387" stop-color="#63ff9c"/><stop offset=".409" stop-color="#25ffda"/><stop offset=".43" stop-color="#009eff"/><stop offset=".452" stop-color="#0004ff"/><stop offset=".473" stop-color="#000bff"/><stop offset=".495" stop-color="#0037ff"/><stop offset=".516" stop-color="#0069ff"/><stop offset=".538" stop-color="#0080ff"/><stop offset=".559" stop-color="#006aff"/><stop offset=".581" stop-color="#05f"/><stop offset=".602" stop-color="#004aff"/><stop offset=".624" stop-color="#0048ff"/><stop offset=".645" stop-color="#0048ff"/><stop offset=".667" stop-color="#0050ff"/><stop offset=".688" stop-color="#006cff"/><stop offset=".71" stop-color="#00aeff"/><stop offset=".731" stop-color="#00e9ff"/><stop offset=".753" stop-color="#00eaff"/><stop offset=".774" stop-color="#00e1ff"/><stop offset=".796" stop-color="#00b7ff"/><stop offset=".817" stop-color="#00b7ff"/><stop offset=".839" stop-color="#34ffcb"/><stop offset=".86" stop-color="#98ff67"/><stop offset=".882" stop-color="#d2ff2d"/><stop offset=".903" stop-color="#dcff23"/><stop offset=".925" stop-color="#daff25"/><stop offset=".935" stop-color="#edff12"/><stop offset=".946" stop-color="#ffe200"/><stop offset=".957" stop-color="#ffb700"/><stop offset=".968" stop-color="#ff8e00"/><stop offset=".978" stop-color="#ff5e00"/><stop offset=".989" stop-color="#ff3200"/><stop offset="1" stop-color="#ff1600"/></linearGradient>
<linearGradient id="b19" x1="0" y1="0" x2="0" y2="1"><stop offset="0" stop-color="#0010ff"/><stop offset=".022" stop-color="#001aff"/><stop offset=".043" stop-color="#002aff"/><stop offset=".065" stop-color="#0039ff"/><stop offset=".086" stop-color="#04f"/><stop offset=".108" stop-color="#0052ff"/><stop offset=".129" stop-color="#006dff"/><stop offset=".151" stop-color="#09f"/><stop offset=".172" stop-color="#00e1ff"/><stop offset=".194" stop-color="#36ffc9"/><stop offset=".215" stop-color="#89ff76"/><stop offset=".237" stop-color="#b6ff49"/><stop offset=".258" stop-color="#d0ff2f"/><stop offset=".28" stop-color="#dfff20"/><stop offset=".301" stop-color="#e4ff1b"/><stop offset=".323" stop-color="#d6ff29"/><stop offset=".344" stop-color="#bdff42"/><stop offset=".366" stop-color="#96ff69"/><stop offset=".387" stop-color="#67ff98"/><stop offset=".409" stop-color="#29ffd6"/><stop offset=".43" stop-color="#00a3ff"/><stop offset=".452" stop-color="#0009ff"/><stop offset=".473" stop-color="#000fff"/><stop offset=".495" stop-color="#0039ff"/><stop offset=".516" stop-color="#006eff"/><stop offset=".538" stop-color="#08f"/><stop offset=".559" stop-color="#0073ff"/><stop offset=".581" stop-color="#005dff"/><stop offset=".602" stop-color="#004fff"/><stop offset=".624" stop-color="#004bff"/><stop offset=".645" stop-color="#004bff"/><stop offset=".667" stop-color="#0053ff"/><stop offset=".688" stop-color="#006fff"/><stop offset=".71" stop-color="#00b1ff"/><stop offset=".731" stop-color="#00edff"/><stop offset=".753" stop-color="#00f1ff"/><stop offset=".774" stop-color="#0ef"/><stop offset=".796" stop-color="#00ceff"/><stop offset=".817" stop-color="#00d0ff"/><stop offset=".839" stop-color="#48ffb7"/><stop offset=".86" stop-color="#a3ff5c"/><stop offset=".882" stop-color="#daff25"/><stop offset=".903" stop-color="#e8ff17"/><stop offset=".925" stop-color="#eaff15"/><stop offset=".935" stop-color="#fdff02"/><stop offset=".946" stop-color="#ffd600"/><stop offset=".957" stop-color="#ffad00"/><stop offset=".968" stop-color="#ff8700"/><stop offset=".978" stop-color="#ff5c00"/><stop offset=".989" stop-color="#f30"/><stop offset="1" stop-color="#ff1600"/></linearGradient>
<linearGradient id="b20" x1="0" y1="0" x2="0" y2="1"><stop offset="0" stop-color="#000cff"/><stop offset=".022" stop-color="#0014ff"/><stop offset=".043" stop-color="#0024ff"/><stop offset=".065" stop-color="#03f"/><stop offset=".086" stop-color="#003cff"/><stop offset=".108" stop-color="#0049ff"/><stop offset=".129" stop-color="#0062ff"/><stop offset=".151" stop-color="#008fff"/><stop offset=".172" stop-color="#00d9ff"/><stop offset=".194" stop-color="#2fffd0"/><stop offset=".215" stop-color="#81ff7e"/><stop offset=".237" stop-color="#b1ff4e"/><stop offset=".258" stop-color="#cfff30"/><stop offset=".28" stop-color="#deff21"/><stop offset=".301" stop-color="#e2ff1d"/><stop offset=".323" stop-color="#d5ff2a"/><stop offset=".344" stop-color="#bcff43"/><stop offset=".366" stop-color="#96ff69"/><stop offset=".387" stop-color="#67ff98"/><stop offset=".409" stop-color="#2cffd3"/><stop offset=".43" stop-color="#00a7ff"/><stop offset=".452" stop-color="#000dff"/><stop offset=".473" stop-color="#0010ff"/><stop offset=".495" stop-color="#0039ff"/><stop offset=".516" stop-color="#0072ff"/><stop offset=".538" stop-color="#008fff"/><stop offset=".559" stop-color="#007aff"/><stop offset=".581" stop-color="#0061ff"/><stop offset=".602" stop-color="#004eff"/><stop offset=".624" stop-color="#04f"/><stop offset=".645" stop-color="#0040ff"/><stop offset=".667" stop-color="#0048ff"/><stop offset=".688" stop-color="#0069ff"/><stop offset=".71" stop-color="#00acff"/><stop offset=".731" stop-color="#00eaff"/><stop offset=".753" stop-color="#00f5ff"/><stop offset=".774" stop-color="#00f6ff"/><stop offset=".796" stop-color="#00e4ff"/><stop offset=".817" stop-color="#00ecff"/><stop offset=".839" stop-color="#5dffa2"/><stop offset=".86" stop-color="#aeff51"/><stop offset=".882" stop-color="#e4ff1b"/><stop offset=".903" stop-color="#f5ff0a"/><stop offset=".925" stop-color="#f9ff06"/><stop offset=".935" stop-color="#fff200"/><stop offset=".946" stop-color="#ffca00"/><stop offset=".957" stop-color="#ffa500"/><stop offset=".968" stop-color="#ff8100"/><stop offset=".978" stop-color="#ff5a00"/><stop offset=".989" stop-color="#ff3400"/><stop offset="1" stop-color="#ff1600"/></linearGradient>
<linearGradient id="b21" x1="0" y1="0" x2="0" y2="1"><stop offset="0" stop-color="#0003ff"/><stop offset=".022" stop-color="#000aff"/><stop offset=".043" stop-color="#0019ff"/><stop offset=".065" stop-color="#0026ff"/><stop offset=".086" stop-color="#002cff"/><stop offset=".108" stop-color="#0036ff"/><stop offset=".129" stop-color="#004dff"/><stop offset=".151" stop-color="#007aff"/><stop offset=".172" stop-color="#00caff"/><stop offset=".194" stop-color="#20ffdf"/><stop offset=".215" stop-color="#71ff8e"/><stop offset=".237" stop-color="#a8ff57"/><stop offset=".258" stop-color="#cbff34"/><stop offset=".28" stop-color="#daff25"/><stop offset=".301" stop-color="#dfff20"/><stop offset=".323" stop-color="#d2ff2d"/><stop offset=".344" stop-color="#bf4"/><stop offset=".366" stop-color="#96ff69"/><stop offset=".387" stop-color="#68ff97"/><stop offset=".409" stop-color="#2effd1"/><stop offset=".43" stop-color="#0af"/><stop offset=".452" stop-color="#000fff"/><stop offset=".473" stop-color="#0012ff"/><stop offset=".495" stop-color="#0039ff"/><stop offset=".516" stop-color="#0075ff"/><stop offset=".538" stop-color="#0094ff"/><stop offset=".559" stop-color="#0080ff"/><stop offset=".581" stop-color="#0065ff"/><stop offset=".602" stop-color="#004aff"/><stop offset=".624" stop-color="#0037ff"/><stop offset=".645" stop-color="#002bff"/><stop offset=".667" stop-color="#0035ff"/><stop offset=".688" stop-color="#005dff"/><stop offset=".71" stop-color="#00a2ff"/><stop offset=".731" stop-color="#00e4ff"/><stop offset=".753" stop-color="#00f6ff"/><stop offset=".774" stop-color="#00fdff"/><stop offset=".796" stop-color="#00faff"/><stop offset=".817" stop-color="#0cfff3"/><stop offset=".839" stop-color="#73ff8c"/><stop offset=".86" stop-color="#baff45"/><stop offset=".882" stop-color="#ef1"/><stop offset=".903" stop-color="#fffc00"/><stop offset=".925" stop-color="#fff500"/><stop offset=".935" stop-color="#ffe300"/><stop offset=".946" stop-color="#ffbf00"/><stop offset=".957" stop-color="#ff9c00"/><stop offset=".968" stop-color="#ff7b00"/><stop offset=".978" stop-color="#ff5800"/><stop offset=".989" stop-color="#ff3400"/><stop offset="1" stop-color="#ff1600"/></linearGradient>
<linearGradient id="b22" x1="0" y1="0" x2="0" y2="1"><stop offset="0" stop-color="#0000f7"/><stop offset=".022" stop-color="#0000fb"/><stop offset=".043" stop-color="#000aff"/><stop offset=".065" stop-color="#0015ff"/><stop offset=".086" stop-color="#0018ff"/><stop offset=".108" stop-color="#001fff"/><stop offset=".129" stop-color="#03f"/><stop offset=".151" stop-color="#005fff"/><stop offset=".172" stop-color="#00b6ff"/><stop offset=".194" stop-color="#0dfff2"/><stop offset=".215" stop-color="#5dffa2"/><stop offset=".237" stop-color="#9cff63"/><stop offset=".258" stop-color="#c5ff3a"/><stop offset=".28" stop-color="#d5ff2a"/><stop offset=".301" stop-color="#daff25"/><stop offset=".323" stop-color="#ceff31"/><stop offset=".344" stop-color="#b9ff46"/><stop offset=".366" stop-color="#95ff6a"/><stop offset=".387" stop-color="#69ff96"/><stop offset=".409" stop-color="#30ffcf"/><stop offset=".43" stop-color="#00acff"/><stop offset=".452" stop-color="#0012ff"/><stop offset=".473" stop-color="#0013ff"/><stop offset=".495" stop-color="#0039ff"/><stop offset=".516" stop-color="#07f"/><stop offset=".538" stop-color="#09f"/><stop offset=".559" stop-color="#0085ff"/><stop offset=".581" stop-color="#0068ff"/><stop offset=".602" stop-color="#0045ff"/><stop offset=".624" stop-color="#0029ff"/><stop offset=".645" stop-color="#0014ff"/><stop offset=".667" stop-color="#0020ff"/><stop offset=".688" stop-color="#004fff"/><stop offset=".71" stop-color="#0098ff"/><stop offset=".731" stop-color="#00dcff"/><stop offset=".753" stop-color="#00f5ff"/><stop offset=".774" stop-color="#04fffb"/><stop offset=".796" stop-color="#0efff1"/><stop offset=".817" stop-color="#2affd5"/><stop offset=".839" stop-color="#8f7"/><stop offset=".86" stop-color="#c5ff3a"/><stop offset=".882" stop-color="#f7ff08"/><stop offset=".903" stop-color="#fff100"/><stop offset=".925" stop-color="#ffe800"/><stop offset=".935" stop-color="#ffd600"/><stop offset=".946" stop-color="#ffb600"/><stop offset=".957" stop-color="#ff9400"/><stop offset=".968" stop-color="#ff7500"/><stop offset=".978" stop-color="#ff5600"/><stop offset=".989" stop-color="#ff3500"/><stop offset="1" stop-color="#ff1700"/></linearGradient>
<linearGradient id="b23" x1="0" y1="0" x2="0" y2="1"><stop offset="0" stop-color="#0000ec"/><stop offset=".022" stop-color="#00e"/><stop offset=".043" stop-color="#0000fa"/><stop offset=".065" stop-color="#0004ff"/><stop offset=".086" stop-color="#0005ff"/><stop offset=".108" stop-color="#0009ff"/><stop offset=".129" stop-color="#001aff"/><stop offset=".151" stop-color="#0046ff"/><stop offset=".172" stop-color="#00a1ff"/><stop offset=".194" stop-color="#00f9ff"/><stop offset=".215" stop-color="#4bffb4"/><stop offset=".237" stop-color="#91ff6e"/><stop offset=".258" stop-color="#bfff40"/><stop offset=".28" stop-color="#d0ff2f"/><stop offset=".301" stop-color="#d4ff2b"/><stop offset=".323" stop-color="#caff35"/><stop offset=".344" stop-color="#b7ff48"/><stop offset=".366" stop-color="#94ff6b"/><stop offset=".387" stop-color="#69ff96"/><stop offset=".409" stop-color="#31ffce"/><stop offset=".43" stop-color="#00aeff"/><stop offset=".452" stop-color="#0013ff"/><stop offset=".473" stop-color="#0014ff"/><stop offset=".495" stop-color="#0039ff"/><stop offset=".516" stop-color="#0078ff"/><stop offset=".538" stop-color="#009bff"/><stop offset=".559" stop-color="#08f"/><stop offset=".581" stop-color="#0069ff"/><stop offset=".602" stop-color="#0042ff"/><stop offset=".624" stop-color="#001fff"/><stop offset=".645" stop-color="#0004ff"/><stop offset=".667" stop-color="#01f"/><stop offset=".688" stop-color="#0046ff"/><stop offset=".71" stop-color="#008fff"/><stop offset=".731" stop-color="#00d4ff"/><stop offset=".753" stop-color="#00f2ff"/><stop offset=".774" stop-color="#08fff7"/><stop offset=".796" stop-color="#1affe5"/><stop offset=".817" stop-color="#3fffc0"/><stop offset=".839" stop-color="#95ff6a"/><stop offset=".86" stop-color="#ceff31"/><stop offset=".882" stop-color="#fdff02"/><stop offset=".903" stop-color="#ffe900"/><stop offset=".925" stop-color="#ffdf00"/><stop offset=".935" stop-color="#ffcd00"/><stop offset=".946" stop-color="#ffae00"/><stop offset=".957" stop-color="#ff8d00"/><stop offset=".968" stop-color="#ff6f00"/><stop offset=".978" stop-color="#f50"/><stop offset=".989" stop-color="#ff3600"/><stop offset="1" stop-color="#ff1700"/></linearGradient>
<linearGradient id="b24" x1="0" y1="0" x2="0" y2="1"><stop offset="0" stop-color="#0000e2"/><stop offset=".022" stop-color="#0000e2"/><stop offset=".043" stop-color="#0000ed"/><stop offset=".065" stop-color="#0000f5"/><stop offset=".086" stop-color="#0000f5"/><stop offset=".108" stop-color="#0000f7"/><stop offset=".129" stop-color="#0007ff"/><stop offset=".151" stop-color="#0031ff"/><stop offset=".172" stop-color="#008dff"/><stop offset=".194" stop-color="#00e7ff"/><stop offset=".215" stop-color="#3cffc3"/><stop offset=".237" stop-color="#87ff78"/><stop offset=".258" stop-color="#b9ff46"/><stop offset=".28" stop-color="#c9ff36"/><stop offset=".301" stop-color="#ceff31"/><stop offset=".323" stop-color="#c5ff3a"/><stop offset=".344" stop-color="#b4ff4b"/><stop offset=".366" stop-color="#93ff6c"/><stop offset=".387" stop-color="#69ff96"/><stop offset=".409" stop-color="#31ffce"/><stop offset=".43" stop-color="#00aeff"/><stop offset=".452" stop-color="#0013ff"/><stop offset=".473" stop-color="#0014ff"/><stop offset=".495" stop-color="#003aff"/><stop offset=".516" stop-color="#0079ff"/><stop offset=".538" stop-color="#009cff"/><stop offset=".559" stop-color="#0089ff"/><stop offset=".581" stop-color="#006aff"/><stop offset=".602" stop-color="#0042ff"/><stop offset=".624" stop-color="#001dff"/><stop offset=".645" stop-color="#00f"/><stop offset=".667" stop-color="#000dff"/><stop offset=".688" stop-color="#0043ff"/><stop offset=".71" stop-color="#008aff"/><stop offset=".731" stop-color="#00cdff"/><stop offset=".753" stop-color="#00efff"/><stop offset=".774" stop-color="#08fff7"/><stop offset=".796" stop-color="#1dffe2"/><stop offset=".817" stop-color="#46ffb9"/><stop offset=".839" stop-color="#9aff65"/><stop offset=".86" stop-color="#d3ff2c"/><stop offset=".882" stop-color="#fffe00"/><stop offset=".903" stop-color="#ffe800"/><stop offset=".925" stop-color="#fd0"/><stop offset=".935" stop-color="#ffca00"/><stop offset=".946" stop-color="#ffa800"/><stop offset=".957" stop-color="#ff8700"/><stop offset=".968" stop-color="#ff6a00"/><stop offset=".978" stop-color="#ff5300"/><stop offset=".989" stop-color="#ff3600"/><stop offset="1" stop-color="#ff1700"/></linearGradient>
<linearGradient id="b25" x1="0" y1="0" x2="0" y2="1"><stop offset="0" stop-color="#0000d7"/><stop offset=".022" stop-color="#0000d7"/><stop offset=".043" stop-color="#0000e0"/><stop offset=".065" stop-color="#0000e7"/><stop offset=".086" stop-color="#0000e6"/><stop offset=".108" stop-color="#0000e8"/><stop offset=".129" stop-color="#0000f6"/><stop offset=".151" stop-color="#001fff"/><stop offset=".172" stop-color="#0078ff"/><stop offset=".194" stop-color="#00d4ff"/><stop offset=".215" stop-color="#30ffcf"/><stop offset=".237" stop-color="#7fff80"/><stop offset=".258" stop-color="#b2ff4d"/><stop offset=".28" stop-color="#c1ff3e"/><stop offset=".301" stop-color="#c5ff3a"/><stop offset=".323" stop-color="#bdff42"/><stop offset=".344" stop-color="#aeff51"/><stop offset=".366" stop-color="#8eff71"/><stop offset=".387" stop-color="#6f9"/><stop offset=".409" stop-color="#2effd1"/><stop offset=".43" stop-color="#00acff"/><stop offset=".452" stop-color="#01f"/><stop offset=".473" stop-color="#0014ff"/><stop offset=".495" stop-color="#003bff"/><stop offset=".516" stop-color="#007aff"/><stop offset=".538" stop-color="#009cff"/><stop offset=".559" stop-color="#0089ff"/><stop offset=".581" stop-color="#006aff"/><stop offset=".602" stop-color="#0045ff"/><stop offset=".624" stop-color="#0021ff"/><stop offset=".645" stop-color="#0003ff"/><stop offset=".667" stop-color="#0010ff"/><stop offset=".688" stop-color="#0043ff"/><stop offset=".71" stop-color="#0085ff"/><stop offset=".731" stop-color="#00c6ff"/><stop offset=".753" stop-color="#00ecff"/><stop offset=".774" stop-color="#08fff7"/><stop offset=".796" stop-color="#1effe1"/><stop offset=".817" stop-color="#49ffb6"/><stop offset=".839" stop-color="#9bff64"/><stop offset=".86" stop-color="#d7ff28"/><stop offset=".882" stop-color="#fffd00"/><stop offset=".903" stop-color="#ffe800"/><stop offset=".925" stop-color="#fd0"/><stop offset=".935" stop-color="#ffc800"/><stop offset=".946" stop-color="#ffa300"/><stop offset=".957" stop-color="#ff8100"/><stop offset=".968" stop-color="#ff6500"/><stop offset=".978" stop-color="#ff5200"/><stop offset=".989" stop-color="#ff3700"/><stop offset="1" stop-color="#ff1800"/></linearGradient>
<linearGradient id="b26" x1="0" y1="0" x2="0" y2="1"><stop offset="0" stop-color="#0000cb"/><stop offset=".022" stop-color="#0000cb"/><stop offset=".043" stop-color="#0000d3"/><stop offset=".065" stop-color="#0000d9"/><stop offset=".086" stop-color="#0000d9"/><stop offset=".108" stop-color="#0000da"/><stop offset=".129" stop-color="#0000e7"/><stop offset=".151" stop-color="#000dff"/><stop offset=".172" stop-color="#0061ff"/><stop offset=".194" stop-color="#00c0ff"/><stop offset=".215" stop-color="#24ffdb"/><stop offset=".237" stop-color="#76ff89"/><stop offset=".258" stop-color="#a9ff56"/><stop offset=".28" stop-color="#b7ff48"/><stop offset=".301" stop-color="#baff45"/><stop offset=".323" stop-color="#b4ff4b"/><stop offset=".344" stop-color="#a6ff59"/><stop offset=".366" stop-color="#87ff78"/><stop offset=".387" stop-color="#5fffa0"/><stop offset=".409" stop-color="#29ffd6"/><stop offset=".43" stop-color="#00a8ff"/><stop offset=".452" stop-color="#000eff"/><stop offset=".473" stop-color="#0013ff"/><stop offset=".495" stop-color="#003eff"/><stop offset=".516" stop-color="#007cff"/><stop offset=".538" stop-color="#009cff"/><stop offset=".559" stop-color="#08f"/><stop offset=".581" stop-color="#006bff"/><stop offset=".602" stop-color="#004aff"/><stop offset=".624" stop-color="#0028ff"/><stop offset=".645" stop-color="#000aff"/><stop offset=".667" stop-color="#0014ff"/><stop offset=".688" stop-color="#04f"/><stop offset=".71" stop-color="#0081ff"/><stop offset=".731" stop-color="#00bfff"/><stop offset=".753" stop-color="#00e7ff"/><stop offset=".774" stop-color="#06fff9"/><stop offset=".796" stop-color="#1effe1"/><stop offset=".817" stop-color="#4bffb4"/><stop offset=".839" stop-color="#9cff63"/><stop offset=".86" stop-color="#daff25"/><stop offset=".882" stop-color="#fffc00"/><stop offset=".903" stop-color="#ffe800"/><stop offset=".925" stop-color="#fd0"/><stop offset=".935" stop-color="#ffc700"/><stop offset=".946" stop-color="#ff9f00"/><stop offset=".957" stop-color="#ff7b00"/><stop offset=".968" stop-color="#ff6000"/><stop offset=".978" stop-color="#ff5000"/><stop offset=".989" stop-color="#ff3800"/><stop offset="1" stop-color="#ff1800"/></linearGradient>
<linearGradient id="b27" x1="0" y1="0" x2="0" y2="1"><stop offset="0" stop-color="#0000c0"/><stop offset=".022" stop-color="#0000c0"/><stop offset=".043" stop-color="#0000c7"/><stop offset=".065" stop-color="#00c"/><stop offset=".086" stop-color="#00c"/><stop offset=".108" stop-color="#0000cd"/><stop offset=".129" stop-color="#0000da"/><stop offset=".151" stop-color="#0000fb"/><stop offset=".172" stop-color="#004aff"/><stop offset=".194" stop-color="#00adff"/><stop offset=".215" stop-color="#19ffe6"/><stop offset=".237" stop-color="#6dff92"/><stop offset=".258" stop-color="#a0ff5f"/><stop offset=".28" stop-color="#abff54"/><stop offset=".301" stop-color="#aeff51"/><stop offset=".323" stop-color="#a9ff56"/><stop offset=".344" stop-color="#9cff63"/><stop offset=".366" stop-color="#7fff80"/><stop offset=".387" stop-color="#58ffa7"/><stop offset=".409" stop-color="#23ffdc"/><stop offset=".43" stop-color="#00a4ff"/><stop offset=".452" stop-color="#000bff"/><stop offset=".473" stop-color="#0012ff"/><stop offset=".495" stop-color="#0041ff"/><stop offset=".516" stop-color="#007dff"/><stop offset=".538" stop-color="#009cff"/><stop offset=".559" stop-color="#08f"/><stop offset=".581" stop-color="#006dff"/><stop offset=".602" stop-color="#0051ff"/><stop offset=".624" stop-color="#0031ff"/><stop offset=".645" stop-color="#0012ff"/><stop offset=".667" stop-color="#001bff"/><stop offset=".688" stop-color="#0045ff"/><stop offset=".71" stop-color="#007dff"/><stop offset=".731" stop-color="#00b9ff"/><stop offset=".753" stop-color="#00e3ff"/><stop offset=".774" stop-color="#04fffb"/><stop offset=".796" stop-color="#1fffe0"/><stop offset=".817" stop-color="#4dffb2"/><stop offset=".839" stop-color="#9dff62"/><stop offset=".86" stop-color="#dcff23"/><stop offset=".882" stop-color="#fffb00"/><stop offset=".903" stop-color="#ffe800"/><stop offset=".925" stop-color="#fd0"/><stop offset=".935" stop-color="#ffc600"/><stop offset=".946" stop-color="#ff9c00"/><stop offset=".957" stop-color="#ff7600"/><stop offset=".968" stop-color="#ff5c00"/><stop offset=".978" stop-color="#ff4f00"/><stop offset=".989" stop-color="#ff3900"/><stop offset="1" stop-color="#ff1800"/></linearGradient>
<linearGradient id="b28" x1="0" y1="0" x2="0" y2="1"><stop offset="0" stop-color="#0000b6"/><stop offset=".022" stop-color="#0000b7"/><stop offset=".043" stop-color="#0000bd"/><stop offset=".065" stop-color="#0000c1"/><stop offset=".086" stop-color="#0000c1"/><stop offset=".108" stop-color="#0000c2"/><stop offset=".129" stop-color="#0000ce"/><stop offset=".151" stop-color="#0000ed"/><stop offset=".172" stop-color="#0038ff"/><stop offset=".194" stop-color="#009cff"/><stop offset=".215" stop-color="#0ffff0"/><stop offset=".237" stop-color="#64ff9b"/><stop offset=".258" stop-color="#96ff69"/><stop offset=".28" stop-color="#a0ff5f"/><stop offset=".301" stop-color="#a3ff5c"/><stop offset=".323" stop-color="#9eff61"/><stop offset=".344" stop-color="#93ff6c"/><stop offset=".366" stop-color="#76ff89"/><stop offset=".387" stop-color="#51ffae"/><stop offset=".409" stop-color="#1dffe2"/><stop offset=".43" stop-color="#00a0ff"/><stop offset=".452" stop-color="#0009ff"/><stop offset=".473" stop-color="#0012ff"/><stop offset=".495" stop-color="#0042ff"/><stop offset=".516" stop-color="#007eff"/><stop offset=".538" stop-color="#009cff"/><stop offset=".559" stop-color="#08f"/><stop offset=".581" stop-color="#006eff"/><stop offset=".602" stop-color="#0056ff"/><stop offset=".624" stop-color="#0039ff"/><stop offset=".645" stop-color="#001aff"/><stop offset=".667" stop-color="#0021ff"/><stop offset=".688" stop-color="#0046ff"/><stop offset=".71" stop-color="#007aff"/><stop offset=".731" stop-color="#00b4ff"/><stop offset=".753" stop-color="#00deff"/><stop offset=".774" stop-color="#01fffe"/><stop offset=".796" stop-color="#1fffe0"/><stop offset=".817" stop-color="#4dffb2"/><stop offset=".839" stop-color="#9dff62"/><stop offset=".86" stop-color="#df2"/><stop offset=".882" stop-color="#fffb00"/><stop offset=".903" stop-color="#ffe800"/><stop offset=".925" stop-color="#fd0"/><stop offset=".935" stop-color="#ffc500"/><stop offset=".946" stop-color="#ff9a00"/><stop offset=".957" stop-color="#ff7300"/><stop offset=".968" stop-color="#ff5a00"/><stop offset=".978" stop-color="#ff4e00"/><stop offset=".989" stop-color="#ff3900"/><stop offset="1" stop-color="#ff1900"/></linearGradient>
<linearGradient id="b29" x1="0" y1="0" x2="0" y2="1"><stop offset="0" stop-color="#0000ae"/><stop offset=".022" stop-color="#0000ae"/><stop offset=".043" stop-color="#0000b4"/><stop offset=".065" stop-color="#0000b8"/><stop offset=".086" stop-color="#0000b8"/><stop offset=".108" stop-color="#0000b9"/><stop offset=".129" stop-color="#0000c4"/><stop offset=".151" stop-color="#0000e1"/><stop offset=".172" stop-color="#002cff"/><stop offset=".194" stop-color="#0091ff"/><stop offset=".215" stop-color="#05fffa"/><stop offset=".237" stop-color="#5cffa3"/><stop offset=".258" stop-color="#8eff71"/><stop offset=".28" stop-color="#96ff69"/><stop offset=".301" stop-color="#98ff67"/><stop offset=".323" stop-color="#94ff6b"/><stop offset=".344" stop-color="#89ff76"/><stop offset=".366" stop-color="#6eff91"/><stop offset=".387" stop-color="#4bffb4"/><stop offset=".409" stop-color="#18ffe7"/><stop offset=".43" stop-color="#009eff"/><stop offset=".452" stop-color="#000aff"/><stop offset=".473" stop-color="#0012ff"/><stop offset=".495" stop-color="#0042ff"/><stop offset=".516" stop-color="#007dff"/><stop offset=".538" stop-color="#009aff"/><stop offset=".559" stop-color="#0086ff"/><stop offset=".581" stop-color="#006eff"/><stop offset=".602" stop-color="#005aff"/><stop offset=".624" stop-color="#0040ff"/><stop offset=".645" stop-color="#0023ff"/><stop offset=".667" stop-color="#0028ff"/><stop offset=".688" stop-color="#0048ff"/><stop offset=".71" stop-color="#0078ff"/><stop offset=".731" stop-color="#00b0ff"/><stop offset=".753" stop-color="#00d8ff"/><stop offset=".774" stop-color="#00fbff"/><stop offset=".796" stop-color="#1effe1"/><stop offset=".817" stop-color="#4dffb2"/><stop offset=".839" stop-color="#9dff62"/><stop offset=".86" stop-color="#dcff23"/><stop offset=".882" stop-color="#fffc00"/><stop offset=".903" stop-color="#ffe900"/><stop offset=".925" stop-color="#ffde00"/><stop offset=".935" stop-color="#ffc600"/><stop offset=".946" stop-color="#ff9b00"/><stop offset=".957" stop-color="#ff7400"/><stop offset=".968" stop-color="#ff5a00"/><stop offset=".978" stop-color="#ff4e00"/><stop offset=".989" stop-color="#ff3900"/><stop offset="1" stop-color="#ff1900"/></linearGradient>
<linearGradient id="b30" x1="0" y1="0" x2="0" y2="1"><stop offset="0" stop-color="#0000a5"/><stop offset=".022" stop-color="#0000a6"/><stop offset=".043" stop-color="#0000ac"/><stop offset=".065" stop-color="#0000b0"/><stop offset=".086" stop-color="#0000b0"/><stop offset=".108" stop-color="#0000b1"/><stop offset=".129" stop-color="#0000ba"/><stop offset=".151" stop-color="#0000d6"/><stop offset=".172" stop-color="#02f"/><stop offset=".194" stop-color="#08f"/><stop offset=".215" stop-color="#00fcff"/><stop offset=".237" stop-color="#54ffab"/><stop offset=".258" stop-color="#85ff7a"/><stop offset=".28" stop-color="#8bff74"/><stop offset=".301" stop-color="#8dff72"/><stop offset=".323" stop-color="#8f7"/><stop offset=".344" stop-color="#7fff80"/><stop offset=".366" stop-color="#67ff98"/><stop offset=".387" stop-color="#45ffba"/><stop offset=".409" stop-color="#13ffec"/><stop offset=".43" stop-color="#009dff"/><stop offset=".452" stop-color="#000fff"/><stop offset=".473" stop-color="#0016ff"/><stop offset=".495" stop-color="#0040ff"/><stop offset=".516" stop-color="#0078ff"/><stop offset=".538" stop-color="#0094ff"/><stop offset=".559" stop-color="#0080ff"/><stop offset=".581" stop-color="#006bff"/><stop offset=".602" stop-color="#005cff"/><stop offset=".624" stop-color="#0047ff"/><stop offset=".645" stop-color="#002eff"/><stop offset=".667" stop-color="#0032ff"/><stop offset=".688" stop-color="#004dff"/><stop offset=".71" stop-color="#007aff"/><stop offset=".731" stop-color="#00aeff"/><stop offset=".753" stop-color="#00cfff"/><stop offset=".774" stop-color="#0ef"/><stop offset=".796" stop-color="#17ffe8"/><stop offset=".817" stop-color="#4dffb2"/><stop offset=".839" stop-color="#9cff63"/><stop offset=".86" stop-color="#daff25"/><stop offset=".882" stop-color="#ff0"/><stop offset=".903" stop-color="#fe0"/><stop offset=".925" stop-color="#ffe400"/><stop offset=".935" stop-color="#fc0"/><stop offset=".946" stop-color="#ffa100"/><stop offset=".957" stop-color="#ff7900"/><stop offset=".968" stop-color="#ff5d00"/><stop offset=".978" stop-color="#ff4f00"/><stop offset=".989" stop-color="#ff3900"/><stop offset="1" stop-color="#ff1800"/></linearGradient>
<linearGradient id="b31" x1="0" y1="0" x2="0" y2="1"><stop offset="0" stop-color="#00009e"/><stop offset=".022" stop-color="#00009e"/><stop offset=".043" stop-color="#0000a5"/><stop offset=".065" stop-color="#0000a9"/><stop offset=".086" stop-color="#0000a9"/><stop offset=".108" stop-color="#00a"/><stop offset=".129" stop-color="#0000b1"/><stop offset=".151" stop-color="#00c"/><stop offset=".172" stop-color="#001aff"/><stop offset=".194" stop-color="#0081ff"/><stop offset=".215" stop-color="#00f4ff"/><stop offset=".237" stop-color="#4dffb2"/><stop offset=".258" stop-color="#7dff82"/><stop offset=".28" stop-color="#81ff7e"/><stop offset=".301" stop-color="#81ff7e"/><stop offset=".323" stop-color="#7dff82"/><stop offset=".344" stop-color="#74ff8b"/><stop offset=".366" stop-color="#5fffa0"/><stop offset=".387" stop-color="#3fffc0"/><stop offset=".409" stop-color="#0efff1"/><stop offset=".43" stop-color="#009dff"/><stop offset=".452" stop-color="#0018ff"/><stop offset=".473" stop-color="#001bff"/><stop offset=".495" stop-color="#003eff"/><stop offset=".516" stop-color="#0071ff"/><stop offset=".538" stop-color="#008bff"/><stop offset=".559" stop-color="#0078ff"/><stop offset=".581" stop-color="#0067ff"/><stop offset=".602" stop-color="#005eff"/><stop offset=".624" stop-color="#004fff"/><stop offset=".645" stop-color="#0039ff"/><stop offset=".667" stop-color="#003cff"/><stop offset=".688" stop-color="#0053ff"/><stop offset=".71" stop-color="#007dff"/><stop offset=".731" stop-color="#00acff"/><stop offset=".753" stop-color="#00c2ff"/><stop offset=".774" stop-color="#00dbff"/><stop offset=".796" stop-color="#0bfff4"/><stop offset=".817" stop-color="#4dffb2"/><stop offset=".839" stop-color="#9aff65"/><stop offset=".86" stop-color="#d5ff2a"/><stop offset=".882" stop-color="#f9ff06"/><stop offset=".903" stop-color="#fff600"/><stop offset=".925" stop-color="#ffed00"/><stop offset=".935" stop-color="#ffd600"/><stop offset=".946" stop-color="#fa0"/><stop offset=".957" stop-color="#ff8000"/><stop offset=".968" stop-color="#ff6100"/><stop offset=".978" stop-color="#ff5000"/><stop offset=".989" stop-color="#ff3800"/><stop offset="1" stop-color="#ff1800"/></linearGradient>
<linearGradient id="b32" x1="0" y1="0" x2="0" y2="1"><stop offset="0" stop-color="#000097"/><stop offset=".022" stop-color="#000098"/><stop offset=".043" stop-color="#00009f"/><stop offset=".065" stop-color="#0000a4"/><stop offset=".086" stop-color="#0000a4"/><stop offset=".108" stop-color="#0000a4"/><stop offset=".129" stop-color="#00a"/><stop offset=".151" stop-color="#0000c4"/><stop offset=".172" stop-color="#0013ff"/><stop offset=".194" stop-color="#0079ff"/><stop offset=".215" stop-color="#00ecff"/><stop offset=".237" stop-color="#45ffba"/><stop offset=".258" stop-color="#74ff8b"/><stop offset=".28" stop-color="#7f8"/><stop offset=".301" stop-color="#7f8"/><stop offset=".323" stop-color="#72ff8d"/><stop offset=".344" stop-color="#69ff96"/><stop offset=".366" stop-color="#57ffa8"/><stop offset=".387" stop-color="#3affc5"/><stop offset=".409" stop-color="#09fff6"/><stop offset=".43" stop-color="#009dff"/><stop offset=".452" stop-color="#001fff"/><stop offset=".473" stop-color="#001fff"/><stop offset=".495" stop-color="#003bff"/><stop offset=".516" stop-color="#006aff"/><stop offset=".538" stop-color="#0083ff"/><stop offset=".559" stop-color="#0070ff"/><stop offset=".581" stop-color="#0063ff"/><stop offset=".602" stop-color="#005fff"/><stop offset=".624" stop-color="#05f"/><stop offset=".645" stop-color="#04f"/><stop offset=".667" stop-color="#0047ff"/><stop offset=".688" stop-color="#005aff"/><stop offset=".71" stop-color="#0081ff"/><stop offset=".731" stop-color="#0af"/><stop offset=".753" stop-color="#00b6ff"/><stop offset=".774" stop-color="#00c6ff"/><stop offset=".796" stop-color="#00fdff"/><stop offset=".817" stop-color="#4cffb3"/><stop offset=".839" stop-color="#98ff67"/><stop offset=".86" stop-color="#d0ff2f"/><stop offset=".882" stop-color="#f1ff0e"/><stop offset=".903" stop-color="#ff0"/><stop offset=".925" stop-color="#fff700"/><stop offset=".935" stop-color="#ffe100"/><stop offset=".946" stop-color="#ffb600"/><stop offset=".957" stop-color="#ff8a00"/><stop offset=".968" stop-color="#ff6700"/><stop offset=".978" stop-color="#ff5200"/><stop offset=".989" stop-color="#ff3700"/><stop offset="1" stop-color="#ff1800"/></linearGradient>
<linearGradient id="b33" x1="0" y1="0" x2="0" y2="1"><stop offset="0" stop-color="#000094"/><stop offset=".022" stop-color="#000095"/><stop offset=".043" stop-color="#00009b"/><stop offset=".065" stop-color="#00009f"/><stop offset=".086" stop-color="#00009f"/><stop offset=".108" stop-color="#0000a0"/><stop offset=".129" stop-color="#0000a5"/><stop offset=".151" stop-color="#0000be"/><stop offset=".172" stop-color="#000bff"/><stop offset=".194" stop-color="#0070ff"/><stop offset=".215" stop-color="#00e3ff"/><stop offset=".237" stop-color="#3cffc3"/><stop offset=".258" stop-color="#6cff93"/><stop offset=".28" stop-color="#6dff92"/><stop offset=".301" stop-color="#6dff92"/><stop offset=".323" stop-color="#69ff96"/><stop offset=".344" stop-color="#60ff9f"/><stop offset=".366" stop-color="#4fffb0"/><stop offset=".387" stop-color="#34ffcb"/><stop offset=".409" stop-color="#05fffa"/><stop offset=".43" stop-color="#009dff"/><stop offset=".452" stop-color="#0024ff"/><stop offset=".473" stop-color="#02f"/><stop offset=".495" stop-color="#0039ff"/><stop offset=".516" stop-color="#0065ff"/><stop offset=".538" stop-color="#007eff"/><stop offset=".559" stop-color="#006bff"/><stop offset=".581" stop-color="#0061ff"/><stop offset=".602" stop-color="#0060ff"/><stop offset=".624" stop-color="#005bff"/><stop offset=".645" stop-color="#004dff"/><stop offset=".667" stop-color="#004fff"/><stop offset=".688" stop-color="#005eff"/><stop offset=".71" stop-color="#0083ff"/><stop offset=".731" stop-color="#00a8ff"/><stop offset=".753" stop-color="#00abff"/><stop offset=".774" stop-color="#00b3ff"/><stop offset=".796" stop-color="#00efff"/><stop offset=".817" stop-color="#4bffb4"/><stop offset=".839" stop-color="#96ff69"/><stop offset=".86" stop-color="#caff35"/><stop offset=".882" stop-color="#ebff14"/><stop offset=".903" stop-color="#f6ff09"/><stop offset=".925" stop-color="#fcff03"/><stop offset=".935" stop-color="#ffed00"/><stop offset=".946" stop-color="#ffc000"/><stop offset=".957" stop-color="#ff9200"/><stop offset=".968" stop-color="#ff6c00"/><stop offset=".978" stop-color="#ff5300"/><stop offset=".989" stop-color="#ff3600"/><stop offset="1" stop-color="#ff1700"/></linearGradient>
<linearGradient id="b34" x1="0" y1="0" x2="0" y2="1"><stop offset="0" stop-color="#000094"/><stop offset=".022" stop-color="#000094"/><stop offset=".043" stop-color="#009"/><stop offset=".065" stop-color="#00009c"/><stop offset=".086" stop-color="#00009c"/><stop offset=".108" stop-color="#00009c"/><stop offset=".129" stop-color="#0000a2"/><stop offset=".151" stop-color="#0000b9"/><stop offset=".172" stop-color="#0001ff"/><stop offset=".194" stop-color="#0064ff"/><stop offset=".215" stop-color="#00d9ff"/><stop offset=".237" stop-color="#3fc"/><stop offset=".258" stop-color="#63ff9c"/><stop offset=".28" stop-color="#6f9"/><stop offset=".301" stop-color="#6f9"/><stop offset=".323" stop-color="#61ff9e"/><stop offset=".344" stop-color="#58ffa7"/><stop offset=".366" stop-color="#48ffb7"/><stop offset=".387" stop-color="#2fffd0"/><stop offset=".409" stop-color="#02fffd"/><stop offset=".43" stop-color="#009cff"/><stop offset=".452" stop-color="#0024ff"/><stop offset=".473" stop-color="#02f"/><stop offset=".495" stop-color="#003aff"/><stop offset=".516" stop-color="#0065ff"/><stop offset=".538" stop-color="#007dff"/><stop offset=".559" stop-color="#006bff"/><stop offset=".581" stop-color="#0062ff"/><stop offset=".602" stop-color="#0062ff"/><stop offset=".624" stop-color="#005fff"/><stop offset=".645" stop-color="#0053ff"/><stop offset=".667" stop-color="#0054ff"/><stop offset=".688" stop-color="#005fff"/><stop offset=".71" stop-color="#0082ff"/><stop offset=".731" stop-color="#00a4ff"/><stop offset=".753" stop-color="#00a1ff"/><stop offset=".774" stop-color="#00a3ff"/><stop offset=".796" stop-color="#00e0ff"/><stop offset=".817" stop-color="#48ffb7"/><stop offset=".839" stop-color="#93ff6c"/><stop offset=".86" stop-color="#c4ff3b"/><stop offset=".882" stop-color="#e4ff1b"/><stop offset=".903" stop-color="#ef1"/><stop offset=".925" stop-color="#f3ff0c"/><stop offset=".935" stop-color="#fff700"/><stop offset=".946" stop-color="#ffca00"/><stop offset=".957" stop-color="#ff9a00"/><stop offset=".968" stop-color="#ff7200"/><stop offset=".978" stop-color="#f50"/><stop offset=".989" stop-color="#ff3600"/><stop offset="1" stop-color="#ff1700"/></linearGradient>
<linearGradient id="b35" x1="0" y1="0" x2="0" y2="1"><stop offset="0" stop-color="#000094"/><stop offset=".022" stop-color="#000094"/><stop offset=".043" stop-color="#000097"/><stop offset=".065" stop-color="#009"/><stop offset=".086" stop-color="#009"/><stop offset=".108" stop-color="#00009a"/><stop offset=".129" stop-color="#00009f"/><stop offset=".151" stop-color="#0000b5"/><stop offset=".172" stop-color="#0000f4"/><stop offset=".194" stop-color="#0056ff"/><stop offset=".215" stop-color="#00cdff"/><stop offset=".237" stop-color="#29ffd6"/><stop offset=".258" stop-color="#5bffa4"/><stop offset=".28" stop-color="#5fffa0"/><stop offset=".301" stop-color="#5fffa0"/><stop offset=".323" stop-color="#5bffa4"/><stop offset=".344" stop-color="#52ffad"/><stop offset=".366" stop-color="#42ffbd"/><stop offset=".387" stop-color="#2affd5"/><stop offset=".409" stop-color="#00feff"/><stop offset=".43" stop-color="#009aff"/><stop offset=".452" stop-color="#02f"/><stop offset=".473" stop-color="#02f"/><stop offset=".495" stop-color="#003cff"/><stop offset=".516" stop-color="#0067ff"/><stop offset=".538" stop-color="#007dff"/><stop offset=".559" stop-color="#006cff"/><stop offset=".581" stop-color="#0063ff"/><stop offset=".602" stop-color="#0065ff"/><stop offset=".624" stop-color="#0062ff"/><stop offset=".645" stop-color="#0057ff"/><stop offset=".667" stop-color="#0058ff"/><stop offset=".688" stop-color="#0060ff"/><stop offset=".71" stop-color="#007fff"/><stop offset=".731" stop-color="#009eff"/><stop offset=".753" stop-color="#0096ff"/><stop offset=".774" stop-color="#0092ff"/><stop offset=".796" stop-color="#00cdff"/><stop offset=".817" stop-color="#40ffbf"/><stop offset=".839" stop-color="#8eff71"/><stop offset=".86" stop-color="#beff41"/><stop offset=".882" stop-color="#deff21"/><stop offset=".903" stop-color="#e6ff19"/><stop offset=".925" stop-color="#e9ff16"/><stop offset=".935" stop-color="#fdff02"/><stop offset=".946" stop-color="#ffd300"/><stop offset=".957" stop-color="#ffa300"/><stop offset=".968" stop-color="#ff7800"/><stop offset=".978" stop-color="#ff5600"/><stop offset=".989" stop-color="#ff3500"/><stop offset="1" stop-color="#ff1700"/></linearGradient>
<linearGradient id="b36" x1="0" y1="0" x2="0" y2="1"><stop offset="0" stop-color="#000094"/><stop offset=".022" stop-color="#000094"/><stop offset=".043" stop-color="#000095"/><stop offset=".065" stop-color="#000096"/><stop offset=".086" stop-color="#000096"/><stop offset=".108" stop-color="#000097"/><stop offset=".129" stop-color="#00009d"/><stop offset=".151" stop-color="#0000b1"/><stop offset=".172" stop-color="#0000e8"/><stop offset=".194" stop-color="#0046ff"/><stop offset=".215" stop-color="#00bfff"/><stop offset=".237" stop-color="#1effe1"/><stop offset=".258" stop-color="#53ffac"/><stop offset=".28" stop-color="#59ffa6"/><stop offset=".301" stop-color="#5affa5"/><stop offset=".323" stop-color="#5fa"/><stop offset=".344" stop-color="#4cffb3"/><stop offset=".366" stop-color="#3cffc3"/><stop offset=".387" stop-color="#24ffdb"/><stop offset=".409" stop-color="#00fbff"/><stop offset=".43" stop-color="#09f"/><stop offset=".452" stop-color="#0020ff"/><stop offset=".473" stop-color="#02f"/><stop offset=".495" stop-color="#003fff"/><stop offset=".516" stop-color="#0068ff"/><stop offset=".538" stop-color="#007eff"/><stop offset=".559" stop-color="#006eff"/><stop offset=".581" stop-color="#06f"/><stop offset=".602" stop-color="#0067ff"/><stop offset=".624" stop-color="#0064ff"/><stop offset=".645" stop-color="#005bff"/><stop offset=".667" stop-color="#005bff"/><stop offset=".688" stop-color="#0060ff"/><stop offset=".71" stop-color="#007cff"/><stop offset=".731" stop-color="#09f"/><stop offset=".753" stop-color="#008bff"/><stop offset=".774" stop-color="#0083ff"/><stop offset=".796" stop-color="#00b8ff"/><stop offset=".817" stop-color="#36ffc9"/><stop offset=".839" stop-color="#87ff78"/><stop offset=".86" stop-color="#b7ff48"/><stop offset=".882" stop-color="#d8ff27"/><stop offset=".903" stop-color="#deff21"/><stop offset=".925" stop-color="#dfff20"/><stop offset=".935" stop-color="#f2ff0d"/><stop offset=".946" stop-color="#fd0"/><stop offset=".957" stop-color="#ffab00"/><stop offset=".968" stop-color="#ff7e00"/><stop offset=".978" stop-color="#ff5800"/><stop offset=".989" stop-color="#ff3400"/><stop offset="1" stop-color="#ff1600"/></linearGradient>
<linearGradient id="b37" x1="0" y1="0" x2="0" y2="1"><stop offset="0" stop-color="#000094"/><stop offset=".022" stop-color="#000094"/><stop offset=".043" stop-color="#000094"/><stop offset=".065" stop-color="#000095"/><stop offset=".086" stop-color="#000095"/><stop offset=".108" stop-color="#000095"/><stop offset=".129" stop-color="#00009c"/><stop offset=".151" stop-color="#0000ad"/><stop offset=".172" stop-color="#00d"/><stop offset=".194" stop-color="#0037ff"/><stop offset=".215" stop-color="#00b2ff"/><stop offset=".237" stop-color="#13ffec"/><stop offset=".258" stop-color="#4affb5"/><stop offset=".28" stop-color="#52ffad"/><stop offset=".301" stop-color="#54ffab"/><stop offset=".323" stop-color="#4fffb0"/><stop offset=".344" stop-color="#46ffb9"/><stop offset=".366" stop-color="#36ffc9"/><stop offset=".387" stop-color="#1fffe0"/><stop offset=".409" stop-color="#00f9ff"/><stop offset=".43" stop-color="#0098ff"/><stop offset=".452" stop-color="#001dff"/><stop offset=".473" stop-color="#0021ff"/><stop offset=".495" stop-color="#0041ff"/><stop offset=".516" stop-color="#006aff"/><stop offset=".538" stop-color="#007eff"/><stop offset=".559" stop-color="#0070ff"/><stop offset=".581" stop-color="#0068ff"/><stop offset=".602" stop-color="#0069ff"/><stop offset=".624" stop-color="#0067ff"/><stop offset=".645" stop-color="#005fff"/><stop offset=".667" stop-color="#005eff"/><stop offset=".688" stop-color="#0061ff"/><stop offset=".71" stop-color="#0079ff"/><stop offset=".731" stop-color="#0094ff"/><stop offset=".753" stop-color="#0082ff"/><stop offset=".774" stop-color="#0076ff"/><stop offset=".796" stop-color="#00a5ff"/><stop offset=".817" stop-color="#29ffd6"/><stop offset=".839" stop-color="#7fff80"/><stop offset=".86" stop-color="#b0ff4f"/><stop offset=".882" stop-color="#d1ff2e"/><stop offset=".903" stop-color="#d6ff29"/><stop offset=".925" stop-color="#d4ff2b"/><stop offset=".935" stop-color="#e8ff17"/><stop offset=".946" stop-color="#ffe600"/><stop offset=".957" stop-color="#ffb300"/><stop offset=".968" stop-color="#ff8400"/><stop offset=".978" stop-color="#ff5a00"/><stop offset=".989" stop-color="#ff3400"/><stop offset="1" stop-color="#ff1600"/></linearGradient>
<linearGradient id="b38" x1="0" y1="0" x2="0" y2="1"><stop offset="0" stop-color="#000094"/><stop offset=".022" stop-color="#000094"/><stop offset=".043" stop-color="#000094"/><stop offset=".065" stop-color="#000094"/><stop offset=".086" stop-color="#000094"/><stop offset=".108" stop-color="#000095"/><stop offset=".129" stop-color="#00009a"/><stop offset=".151" stop-color="#00a"/><stop offset=".172" stop-color="#0000d5"/><stop offset=".194" stop-color="#002aff"/><stop offset=".215" stop-color="#00a3ff"/><stop offset=".237" stop-color="#07fff8"/><stop offset=".258" stop-color="#41ffbe"/><stop offset=".28" stop-color="#4bffb4"/><stop offset=".301" stop-color="#4dffb2"/><stop offset=".323" stop-color="#48ffb7"/><stop offset=".344" stop-color="#3fffc0"/><stop offset=".366" stop-color="#2fffd0"/><stop offset=".387" stop-color="#18ffe7"/><stop offset=".409" stop-color="#00f5ff"/><stop offset=".43" stop-color="#0096ff"/><stop offset=".452" stop-color="#001bff"/><stop offset=".473" stop-color="#0020ff"/><stop offset=".495" stop-color="#0042ff"/><stop offset=".516" stop-color="#006bff"/><stop offset=".538" stop-color="#007eff"/><stop offset=".559" stop-color="#0071ff"/><stop offset=".581" stop-color="#006bff"/><stop offset=".602" stop-color="#006bff"/><stop offset=".624" stop-color="#0069ff"/><stop offset=".645" stop-color="#0062ff"/><stop offset=".667" stop-color="#0061ff"/><stop offset=".688" stop-color="#0061ff"/><stop offset=".71" stop-color="#07f"/><stop offset=".731" stop-color="#0092ff"/><stop offset=".753" stop-color="#007dff"/><stop offset=".774" stop-color="#006eff"/><stop offset=".796" stop-color="#0095ff"/><stop offset=".817" stop-color="#1affe5"/><stop offset=".839" stop-color="#78ff87"/><stop offset=".86" stop-color="#abff54"/><stop offset=".882" stop-color="#cbff34"/><stop offset=".903" stop-color="#cfff30"/><stop offset=".925" stop-color="#caff35"/><stop offset=".935" stop-color="#deff21"/><stop offset=".946" stop-color="#fe0"/><stop offset=".957" stop-color="#ffba00"/><stop offset=".968" stop-color="#ff8900"/><stop offset=".978" stop-color="#ff5c00"/><stop offset=".989" stop-color="#f30"/><stop offset="1" stop-color="#ff1600"/></linearGradient>
<linearGradient id="b39" x1="0" y1="0" x2="0" y2="1"><stop offset="0" stop-color="#000094"/><stop offset=".022" stop-color="#000094"/><stop offset=".043" stop-color="#000094"/><stop offset=".065" stop-color="#000094"/><stop offset=".086" stop-color="#000094"/><stop offset=".108" stop-color="#000094"/><stop offset=".129" stop-color="#009"/><stop offset=".151" stop-color="#0000a7"/><stop offset=".172" stop-color="#0000d0"/><stop offset=".194" stop-color="#0020ff"/><stop offset=".215" stop-color="#0094ff"/><stop offset=".237" stop-color="#00f9ff"/><stop offset=".258" stop-color="#38ffc7"/><stop offset=".28" stop-color="#42ffbd"/><stop offset=".301" stop-color="#4fb"/><stop offset=".323" stop-color="#40ffbf"/><stop offset=".344" stop-color="#37ffc8"/><stop offset=".366" stop-color="#26ffd9"/><stop offset=".387" stop-color="#10ffef"/><stop offset=".409" stop-color="#0ef"/><stop offset=".43" stop-color="#0092ff"/><stop offset=".452" stop-color="#0019ff"/><stop offset=".473" stop-color="#001fff"/><stop offset=".495" stop-color="#0042ff"/><stop offset=".516" stop-color="#006aff"/><stop offset=".538" stop-color="#007eff"/><stop offset=".559" stop-color="#0073ff"/><stop offset=".581" stop-color="#006dff"/><stop offset=".602" stop-color="#006dff"/><stop offset=".624" stop-color="#006cff"/><stop offset=".645" stop-color="#0065ff"/><stop offset=".667" stop-color="#0062ff"/><stop offset=".688" stop-color="#0061ff"/><stop offset=".71" stop-color="#07f"/><stop offset=".731" stop-color="#0092ff"/><stop offset=".753" stop-color="#007bff"/><stop offset=".774" stop-color="#006aff"/><stop offset=".796" stop-color="#0089ff"/><stop offset=".817" stop-color="#08fff7"/><stop offset=".839" stop-color="#70ff8f"/><stop offset=".86" stop-color="#a6ff59"/><stop offset=".882" stop-color="#c6ff39"/><stop offset=".903" stop-color="#c7ff38"/><stop offset=".925" stop-color="#beff41"/><stop offset=".935" stop-color="#d4ff2b"/><stop offset=".946" stop-color="#fff500"/><stop offset=".957" stop-color="#ffc000"/><stop offset=".968" stop-color="#ff8e00"/><stop offset=".978" stop-color="#ff5d00"/><stop offset=".989" stop-color="#f30"/><stop offset="1" stop-color="#ff1600"/></linearGradient>
<linearGradient id="b40" x1="0" y1="0" x2="0" y2="1"><stop offset="0" stop-color="#000094"/><stop offset=".022" stop-color="#000094"/><stop offset=".043" stop-color="#000094"/><stop offset=".065" stop-color="#000094"/><stop offset=".086" stop-color="#000094"/><stop offset=".108" stop-color="#000094"/><stop offset=".129" stop-color="#000097"/><stop offset=".151" stop-color="#0000a3"/><stop offset=".172" stop-color="#00c"/><stop offset=".194" stop-color="#0017ff"/><stop offset=".215" stop-color="#0083ff"/><stop offset=".237" stop-color="#00eaff"/><stop offset=".258" stop-color="#2effd1"/><stop offset=".28" stop-color="#38ffc7"/><stop offset=".301" stop-color="#3bffc4"/><stop offset=".323" stop-color="#36ffc9"/><stop offset=".344" stop-color="#2dffd2"/><stop offset=".366" stop-color="#1cffe3"/><stop offset=".387" stop-color="#06fff9"/><stop offset=".409" stop-color="#00e5ff"/><stop offset=".43" stop-color="#008bff"/><stop offset=".452" stop-color="#0017ff"/><stop offset=".473" stop-color="#001eff"/><stop offset=".495" stop-color="#0042ff"/><stop offset=".516" stop-color="#006aff"/><stop offset=".538" stop-color="#007cff"/><stop offset=".559" stop-color="#0074ff"/><stop offset=".581" stop-color="#0070ff"/><stop offset=".602" stop-color="#0070ff"/><stop offset=".624" stop-color="#006eff"/><stop offset=".645" stop-color="#0068ff"/><stop offset=".667" stop-color="#0064ff"/><stop offset=".688" stop-color="#0061ff"/><stop offset=".71" stop-color="#07f"/><stop offset=".731" stop-color="#0092ff"/><stop offset=".753" stop-color="#007aff"/><stop offset=".774" stop-color="#06f"/><stop offset=".796" stop-color="#007cff"/><stop offset=".817" stop-color="#00f0ff"/><stop offset=".839" stop-color="#67ff98"/><stop offset=".86" stop-color="#a2ff5d"/><stop offset=".882" stop-color="#c1ff3e"/><stop offset=".903" stop-color="#bfff40"/><stop offset=".925" stop-color="#b1ff4e"/><stop offset=".935" stop-color="#c8ff37"/><stop offset=".946" stop-color="#fffc00"/><stop offset=".957" stop-color="#ffc600"/><stop offset=".968" stop-color="#ff9300"/><stop offset=".978" stop-color="#ff5e00"/><stop offset=".989" stop-color="#ff3200"/><stop offset="1" stop-color="#ff1500"/></linearGradient>
<linearGradient id="b41" x1="0" y1="0" x2="0" y2="1"><stop offset="0" stop-color="#000094"/><stop offset=".022" stop-color="#000094"/><stop offset=".043" stop-color="#000094"/><stop offset=".065" stop-color="#000094"/><stop offset=".086" stop-color="#000094"/><stop offset=".108" stop-color="#000094"/><stop offset=".129" stop-color="#000095"/><stop offset=".151" stop-color="#0000a0"/><stop offset=".172" stop-color="#0000c8"/><stop offset=".194" stop-color="#000eff"/><stop offset=".215" stop-color="#0072ff"/><stop offset=".237" stop-color="#00dbff"/><stop offset=".258" stop-color="#23ffdc"/><stop offset=".28" stop-color="#2effd1"/><stop offset=".301" stop-color="#30ffcf"/><stop offset=".323" stop-color="#2bffd4"/><stop offset=".344" stop-color="#2fd"/><stop offset=".366" stop-color="#1fe"/><stop offset=".387" stop-color="#00faff"/><stop offset=".409" stop-color="#00d9ff"/><stop offset=".43" stop-color="#0082ff"/><stop offset=".452" stop-color="#0014ff"/><stop offset=".473" stop-color="#001dff"/><stop offset=".495" stop-color="#0042ff"/><stop offset=".516" stop-color="#0068ff"/><stop offset=".538" stop-color="#007aff"/><stop offset=".559" stop-color="#0075ff"/><stop offset=".581" stop-color="#0073ff"/><stop offset=".602" stop-color="#0073ff"/><stop offset=".624" stop-color="#0071ff"/><stop offset=".645" stop-color="#006bff"/><stop offset=".667" stop-color="#0065ff"/><stop offset=".688" stop-color="#0062ff"/><stop offset=".71" stop-color="#07f"/><stop offset=".731" stop-color="#0092ff"/><stop offset=".753" stop-color="#0078ff"/><stop offset=".774" stop-color="#0064ff"/><stop offset=".796" stop-color="#0071ff"/><stop offset=".817" stop-color="#00d5ff"/><stop offset=".839" stop-color="#5dffa2"/><stop offset=".86" stop-color="#9eff61"/><stop offset=".882" stop-color="#bcff43"/><stop offset=".903" stop-color="#b7ff48"/><stop offset=".925" stop-color="#a5ff5a"/><stop offset=".935" stop-color="#bdff42"/><stop offset=".946" stop-color="#fbff04"/><stop offset=".957" stop-color="#ffcb00"/><stop offset=".968" stop-color="#ff9800"/><stop offset=".978" stop-color="#ff6000"/><stop offset=".989" stop-color="#ff3200"/><stop offset="1" stop-color="#ff1500"/></linearGradient>
<linearGradient id="b42" x1="0" y1="0" x2="0" y2="1"><stop offset="0" stop-color="#000094"/><stop offset=".022" stop-color="#000094"/><stop offset=".043" stop-color="#000094"/><stop offset=".065" stop-color="#000094"/><stop offset=".086" stop-color="#000094"/><stop offset=".108" stop-color="#000094"/><stop offset=".129" stop-color="#000094"/><stop offset=".151" stop-color="#00009d"/><stop offset=".172" stop-color="#0000c5"/><stop offset=".194" stop-color="#0006ff"/><stop offset=".215" stop-color="#0061ff"/><stop offset=".237" stop-color="#0cf"/><stop offset=".258" stop-color="#18ffe7"/><stop offset=".28" stop-color="#2fd"/><stop offset=".301" stop-color="#24ffdb"/><stop offset=".323" stop-color="#20ffdf"/><stop offset=".344" stop-color="#17ffe8"/><stop offset=".366" stop-color="#06fff9"/><stop offset=".387" stop-color="#0ef"/><stop offset=".409" stop-color="#0cf"/><stop offset=".43" stop-color="#0079ff"/><stop offset=".452" stop-color="#01f"/><stop offset=".473" stop-color="#001bff"/><stop offset=".495" stop-color="#0042ff"/><stop offset=".516" stop-color="#0067ff"/><stop offset=".538" stop-color="#0078ff"/><stop offset=".559" stop-color="#0076ff"/><stop offset=".581" stop-color="#0075ff"/><stop offset=".602" stop-color="#0075ff"/><stop offset=".624" stop-color="#0073ff"/><stop offset=".645" stop-color="#006dff"/><stop offset=".667" stop-color="#06f"/><stop offset=".688" stop-color="#0062ff"/><stop offset=".71" stop-color="#07f"/><stop offset=".731" stop-color="#0091ff"/><stop offset=".753" stop-color="#07f"/><stop offset=".774" stop-color="#0062ff"/><stop offset=".796" stop-color="#0069ff"/><stop offset=".817" stop-color="#00bdff"/><stop offset=".839" stop-color="#52ffad"/><stop offset=".86" stop-color="#9bff64"/><stop offset=".882" stop-color="#b8ff47"/><stop offset=".903" stop-color="#b2ff4d"/><stop offset=".925" stop-color="#9cff63"/><stop offset=".935" stop-color="#b6ff49"/><stop offset=".946" stop-color="#f7ff08"/><stop offset=".957" stop-color="#ffce00"/><stop offset=".968" stop-color="#ff9b00"/><stop offset=".978" stop-color="#ff6100"/><stop offset=".989" stop-color="#ff3100"/><stop offset="1" stop-color="#ff1500"/></linearGradient>
<linearGradient id="b43" x1="0" y1="0" x2="0" y2="1"><stop offset="0" stop-color="#000094"/><stop offset=".022" stop-color="#000094"/><stop offset=".043" stop-color="#000094"/><stop offset=".065" stop-color="#000094"/><stop offset=".086" stop-color="#000094"/><stop offset=".108" stop-color="#000094"/><stop offset=".129" stop-color="#000094"/><stop offset=".151" stop-color="#00009c"/><stop offset=".172" stop-color="#0000c2"/><stop offset=".194" stop-color="#0000fd"/><stop offset=".215" stop-color="#0053ff"/><stop offset=".237" stop-color="#00beff"/><stop offset=".258" stop-color="#0cfff3"/><stop offset=".28" stop-color="#16ffe9"/><stop offset=".301" stop-color="#18ffe7"/><stop offset=".323" stop-color="#13ffec"/><stop offset=".344" stop-color="#0bfff4"/><stop offset=".366" stop-color="#00f9ff"/><stop offset=".387" stop-color="#00e2ff"/><stop offset=".409" stop-color="#00c0ff"/><stop offset=".43" stop-color="#006fff"/><stop offset=".452" stop-color="#000eff"/><stop offset=".473" stop-color="#0019ff"/><stop offset=".495" stop-color="#0041ff"/><stop offset=".516" stop-color="#0064ff"/><stop offset=".538" stop-color="#0075ff"/><stop offset=".559" stop-color="#0075ff"/><stop offset=".581" stop-color="#0075ff"/><stop offset=".602" stop-color="#0075ff"/><stop offset=".624" stop-color="#0073ff"/><stop offset=".645" stop-color="#006dff"/><stop offset=".667" stop-color="#06f"/><stop offset=".688" stop-color="#0062ff"/><stop offset=".71" stop-color="#07f"/><stop offset=".731" stop-color="#0091ff"/><stop offset=".753" stop-color="#07f"/><stop offset=".774" stop-color="#0061ff"/><stop offset=".796" stop-color="#0065ff"/><stop offset=".817" stop-color="#0af"/><stop offset=".839" stop-color="#45ffba"/><stop offset=".86" stop-color="#96ff69"/><stop offset=".882" stop-color="#b6ff49"/><stop offset=".903" stop-color="#b0ff4f"/><stop offset=".925" stop-color="#9f6"/><stop offset=".935" stop-color="#b3ff4c"/><stop offset=".946" stop-color="#f5ff0a"/><stop offset=".957" stop-color="#ffcf00"/><stop offset=".968" stop-color="#ff9c00"/><stop offset=".978" stop-color="#ff6100"/><stop offset=".989" stop-color="#ff3100"/><stop offset="1" stop-color="#ff1500"/></linearGradient>
<linearGradient id="b44" x1="0" y1="0" x2="0" y2="1"><stop offset="0" stop-color="#000094"/><stop offset=".022" stop-color="#000094"/><stop offset=".043" stop-color="#000094"/><stop offset=".065" stop-color="#000094"/><stop offset=".086" stop-color="#000094"/><stop offset=".108" stop-color="#000094"/><stop offset=".129" stop-color="#000094"/><stop offset=".151" stop-color="#00009b"/><stop offset=".172" stop-color="#0000bf"/><stop offset=".194" stop-color="#0000f6"/><stop offset=".215" stop-color="#0048ff"/><stop offset=".237" stop-color="#00b1ff"/><stop offset=".258" stop-color="#00fdff"/><stop offset=".28" stop-color="#08fff7"/><stop offset=".301" stop-color="#0bfff4"/><stop offset=".323" stop-color="#06fff9"/><stop offset=".344" stop-color="#00fcff"/><stop offset=".366" stop-color="#00edff"/><stop offset=".387" stop-color="#00d6ff"/><stop offset=".409" stop-color="#00b4ff"/><stop offset=".43" stop-color="#0065ff"/><stop offset=".452" stop-color="#0007ff"/><stop offset=".473" stop-color="#0012ff"/><stop offset=".495" stop-color="#003aff"/><stop offset=".516" stop-color="#005dff"/><stop offset=".538" stop-color="#0070ff"/><stop offset=".559" stop-color="#0073ff"/><stop offset=".581" stop-color="#0074ff"/><stop offset=".602" stop-color="#0073ff"/><stop offset=".624" stop-color="#0070ff"/><stop offset=".645" stop-color="#006bff"/><stop offset=".667" stop-color="#0064ff"/><stop offset=".688" stop-color="#0060ff"/><stop offset=".71" stop-color="#0076ff"/><stop offset=".731" stop-color="#0091ff"/><stop offset=".753" stop-color="#0078ff"/><stop offset=".774" stop-color="#0063ff"/><stop offset=".796" stop-color="#0065ff"/><stop offset=".817" stop-color="#009aff"/><stop offset=".839" stop-color="#3fc"/><stop offset=".86" stop-color="#91ff6e"/><stop offset=".882" stop-color="#b6ff49"/><stop offset=".903" stop-color="#b1ff4e"/><stop offset=".925" stop-color="#9bff64"/><stop offset=".935" stop-color="#b5ff4a"/><stop offset=".946" stop-color="#f7ff08"/><stop offset=".957" stop-color="#ffcf00"/><stop offset=".968" stop-color="#ff9c00"/><stop offset=".978" stop-color="#ff6100"/><stop offset=".989" stop-color="#ff3100"/><stop offset="1" stop-color="#ff1500"/></linearGradient>
<linearGradient id="b45" x1="0" y1="0" x2="0" y2="1"><stop offset="0" stop-color="#000094"/><stop offset=".022" stop-color="#000094"/><stop offset=".043" stop-color="#000094"/><stop offset=".065" stop-color="#000094"/><stop offset=".086" stop-color="#000094"/><stop offset=".108" stop-color="#000094"/><stop offset=".129" stop-color="#000094"/><stop offset=".151" stop-color="#00009b"/><stop offset=".172" stop-color="#0000bc"/><stop offset=".194" stop-color="#0000ef"/><stop offset=".215" stop-color="#003dff"/><stop offset=".237" stop-color="#00a3ff"/><stop offset=".258" stop-color="#0ef"/><stop offset=".28" stop-color="#00f8ff"/><stop offset=".301" stop-color="#00faff"/><stop offset=".323" stop-color="#00f6ff"/><stop offset=".344" stop-color="#00edff"/><stop offset=".366" stop-color="#00dfff"/><stop offset=".387" stop-color="#00caff"/><stop offset=".409" stop-color="#00a8ff"/><stop offset=".43" stop-color="#0059ff"/><stop offset=".452" stop-color="#0000fb"/><stop offset=".473" stop-color="#0005ff"/><stop offset=".495" stop-color="#002aff"/><stop offset=".516" stop-color="#0051ff"/><stop offset=".538" stop-color="#0069ff"/><stop offset=".559" stop-color="#006fff"/><stop offset=".581" stop-color="#0070ff"/><stop offset=".602" stop-color="#006dff"/><stop offset=".624" stop-color="#0069ff"/><stop offset=".645" stop-color="#0065ff"/><stop offset=".667" stop-color="#0060ff"/><stop offset=".688" stop-color="#005cff"/><stop offset=".71" stop-color="#0074ff"/><stop offset=".731" stop-color="#0091ff"/><stop offset=".753" stop-color="#007aff"/><stop offset=".774" stop-color="#0067ff"/><stop offset=".796" stop-color="#0067ff"/><stop offset=".817" stop-color="#008aff"/><stop offset=".839" stop-color="#1cffe3"/><stop offset=".86" stop-color="#8aff75"/><stop offset=".882" stop-color="#b5ff4a"/><stop offset=".903" stop-color="#b3ff4c"/><stop offset=".925" stop-color="#a1ff5e"/><stop offset=".935" stop-color="#bf4"/><stop offset=".946" stop-color="#f9ff06"/><stop offset=".957" stop-color="#ffce00"/><stop offset=".968" stop-color="#ff9c00"/><stop offset=".978" stop-color="#ff6100"/><stop offset=".989" stop-color="#ff3100"/><stop offset="1" stop-color="#ff1500"/></linearGradient>
<linearGradient id="b46" x1="0" y1="0" x2="0" y2="1"><stop offset="0" stop-color="#000094"/><stop offset=".022" stop-color="#000094"/><stop offset=".043" stop-color="#000094"/><stop offset=".065" stop-color="#000094"/><stop offset=".086" stop-color="#000094"/><stop offset=".108" stop-color="#000094"/><stop offset=".129" stop-color="#000094"/><stop offset=".151" stop-color="#00009a"/><stop offset=".172" stop-color="#0000b8"/><stop offset=".194" stop-color="#0000e9"/><stop offset=".215" stop-color="#0034ff"/><stop offset=".237" stop-color="#0096ff"/><stop offset=".258" stop-color="#00deff"/><stop offset=".28" stop-color="#00e9ff"/><stop offset=".301" stop-color="#00ebff"/><stop offset=".323" stop-color="#00e6ff"/><stop offset=".344" stop-color="#00deff"/><stop offset=".366" stop-color="#00d1ff"/><stop offset=".387" stop-color="#00bdff"/><stop offset=".409" stop-color="#009bff"/><stop offset=".43" stop-color="#004dff"/><stop offset=".452" stop-color="#00e"/><stop offset=".473" stop-color="#0000f4"/><stop offset=".495" stop-color="#0015ff"/><stop offset=".516" stop-color="#0041ff"/><stop offset=".538" stop-color="#0060ff"/><stop offset=".559" stop-color="#0069ff"/><stop offset=".581" stop-color="#006aff"/><stop offset=".602" stop-color="#0064ff"/><stop offset=".624" stop-color="#005fff"/><stop offset=".645" stop-color="#005dff"/><stop offset=".667" stop-color="#005aff"/><stop offset=".688" stop-color="#0057ff"/><stop offset=".71" stop-color="#0071ff"/><stop offset=".731" stop-color="#0091ff"/><stop offset=".753" stop-color="#007dff"/><stop offset=".774" stop-color="#006cff"/><stop offset=".796" stop-color="#006aff"/><stop offset=".817" stop-color="#007dff"/><stop offset=".839" stop-color="#06fff9"/><stop offset=".86" stop-color="#83ff7c"/><stop offset=".882" stop-color="#b5ff4a"/><stop offset=".903" stop-color="#b5ff4a"/><stop offset=".925" stop-color="#a9ff56"/><stop offset=".935" stop-color="#c1ff3e"/><stop offset=".946" stop-color="#fdff02"/><stop offset=".957" stop-color="#fc0"/><stop offset=".968" stop-color="#ff9b00"/><stop offset=".978" stop-color="#ff6100"/><stop offset=".989" stop-color="#ff3100"/><stop offset="1" stop-color="#ff1500"/></linearGradient>
<linearGradient id="b47" x1="0" y1="0" x2="0" y2="1"><stop offset="0" stop-color="#000094"/><stop offset=".022" stop-color="#000094"/><stop offset=".043" stop-color="#000094"/><stop offset=".065" stop-color="#000094"/><stop offset=".086" stop-color="#000094"/><stop offset=".108" stop-color="#000094"/><stop offset=".129" stop-color="#000094"/><stop offset=".151" stop-color="#00009a"/><stop offset=".172" stop-color="#0000b5"/><stop offset=".194" stop-color="#0000e3"/><stop offset=".215" stop-color="#002aff"/><stop offset=".237" stop-color="#0089ff"/><stop offset=".258" stop-color="#00cfff"/><stop offset=".28" stop-color="#00d9ff"/><stop offset=".301" stop-color="#00dcff"/><stop offset=".323" stop-color="#00d7ff"/><stop offset=".344" stop-color="#00cfff"/><stop offset=".366" stop-color="#00c4ff"/><stop offset=".387" stop-color="#00b1ff"/><stop offset=".409" stop-color="#008eff"/><stop offset=".43" stop-color="#0040ff"/><stop offset=".452" stop-color="#0000e2"/><stop offset=".473" stop-color="#0000e4"/><stop offset=".495" stop-color="#00f"/><stop offset=".516" stop-color="#0030ff"/><stop offset=".538" stop-color="#0056ff"/><stop offset=".559" stop-color="#0063ff"/><stop offset=".581" stop-color="#0064ff"/><stop offset=".602" stop-color="#0059ff"/><stop offset=".624" stop-color="#05f"/><stop offset=".645" stop-color="#0054ff"/><stop offset=".667" stop-color="#0052ff"/><stop offset=".688" stop-color="#0051ff"/><stop offset=".71" stop-color="#006eff"/><stop offset=".731" stop-color="#0091ff"/><stop offset=".753" stop-color="#0080ff"/><stop offset=".774" stop-color="#0071ff"/><stop offset=".796" stop-color="#006eff"/><stop offset=".817" stop-color="#0075ff"/><stop offset=".839" stop-color="#00f5ff"/><stop offset=".86" stop-color="#7eff81"/><stop offset=".882" stop-color="#b4ff4b"/><stop offset=".903" stop-color="#b8ff47"/><stop offset=".925" stop-color="#b0ff4f"/><stop offset=".935" stop-color="#c8ff37"/><stop offset=".946" stop-color="#fffd00"/><stop offset=".957" stop-color="#ffcb00"/><stop offset=".968" stop-color="#ff9b00"/><stop offset=".978" stop-color="#ff6100"/><stop offset=".989" stop-color="#ff3100"/><stop offset="1" stop-color="#ff1500"/></linearGradient>
<linearGradient id="b48" x1="0" y1="0" x2="0" y2="1"><stop offset="0" stop-color="#000094"/><stop offset=".022" stop-color="#000094"/><stop offset=".043" stop-color="#000094"/><stop offset=".065" stop-color="#000094"/><stop offset=".086" stop-color="#000094"/><stop offset=".108" stop-color="#000094"/><stop offset=".129" stop-color="#000094"/><stop offset=".151" stop-color="#009"/><stop offset=".172" stop-color="#0000b2"/><stop offset=".194" stop-color="#00d"/><stop offset=".215" stop-color="#0021ff"/><stop offset=".237" stop-color="#007dff"/><stop offset=".258" stop-color="#00c1ff"/><stop offset=".28" stop-color="#00cbff"/><stop offset=".301" stop-color="#00cdff"/><stop offset=".323" stop-color="#00c9ff"/><stop offset=".344" stop-color="#00c1ff"/><stop offset=".366" stop-color="#00b6ff"/><stop offset=".387" stop-color="#00a4ff"/><stop offset=".409" stop-color="#0080ff"/><stop offset=".43" stop-color="#03f"/><stop offset=".452" stop-color="#0000d7"/><stop offset=".473" stop-color="#0000d7"/><stop offset=".495" stop-color="#0000ed"/><stop offset=".516" stop-color="#02f"/><stop offset=".538" stop-color="#004cff"/><stop offset=".559" stop-color="#005bff"/><stop offset=".581" stop-color="#005cff"/><stop offset=".602" stop-color="#004dff"/><stop offset=".624" stop-color="#0049ff"/><stop offset=".645" stop-color="#0049ff"/><stop offset=".667" stop-color="#004aff"/><stop offset=".688" stop-color="#004bff"/><stop offset=".71" stop-color="#006bff"/><stop offset=".731" stop-color="#0092ff"/><stop offset=".753" stop-color="#0084ff"/><stop offset=".774" stop-color="#07f"/><stop offset=".796" stop-color="#0072ff"/><stop offset=".817" stop-color="#0073ff"/><stop offset=".839" stop-color="#00f0ff"/><stop offset=".86" stop-color="#7bff84"/><stop offset=".882" stop-color="#b3ff4c"/><stop offset=".903" stop-color="#baff45"/><stop offset=".925" stop-color="#b6ff49"/><stop offset=".935" stop-color="#cdff32"/><stop offset=".946" stop-color="#fffa00"/><stop offset=".957" stop-color="#ffc900"/><stop offset=".968" stop-color="#ff9b00"/><stop offset=".978" stop-color="#ff6100"/><stop offset=".989" stop-color="#ff3100"/><stop offset="1" stop-color="#ff1500"/></linearGradient>
<linearGradient id="b49" x1="0" y1="0" x2="0" y2="1"><stop offset="0" stop-color="#000094"/><stop offset=".022" stop-color="#000094"/><stop offset=".043" stop-color="#000094"/><stop offset=".065" stop-color="#000094"/><stop offset=".086" stop-color="#000094"/><stop offset=".108" stop-color="#000094"/><stop offset=".129" stop-color="#000094"/><stop offset=".151" stop-color="#000098"/><stop offset=".172" stop-color="#0000ae"/><stop offset=".194" stop-color="#0000d6"/><stop offset=".215" stop-color="#0019ff"/><stop offset=".237" stop-color="#0071ff"/><stop offset=".258" stop-color="#00b4ff"/><stop offset=".28" stop-color="#00beff"/><stop offset=".301" stop-color="#00c0ff"/><stop offset=".323" stop-color="#0bf"/><stop offset=".344" stop-color="#00b4ff"/><stop offset=".366" stop-color="#0af"/><stop offset=".387" stop-color="#0097ff"/><stop offset=".409" stop-color="#0071ff"/><stop offset=".43" stop-color="#0025ff"/><stop offset=".452" stop-color="#00c"/><stop offset=".473" stop-color="#0000ca"/><stop offset=".495" stop-color="#0000db"/><stop offset=".516" stop-color="#0013ff"/><stop offset=".538" stop-color="#0042ff"/><stop offset=".559" stop-color="#004fff"/><stop offset=".581" stop-color="#004fff"/><stop offset=".602" stop-color="#003eff"/><stop offset=".624" stop-color="#0039ff"/><stop offset=".645" stop-color="#0039ff"/><stop offset=".667" stop-color="#003cff"/><stop offset=".688" stop-color="#04f"/><stop offset=".71" stop-color="#006aff"/><stop offset=".731" stop-color="#0092ff"/><stop offset=".753" stop-color="#08f"/><stop offset=".774" stop-color="#007eff"/><stop offset=".796" stop-color="#0079ff"/><stop offset=".817" stop-color="#0079ff"/><stop offset=".839" stop-color="#00f2ff"/><stop offset=".86" stop-color="#79ff86"/><stop offset=".882" stop-color="#b3ff4c"/><stop offset=".903" stop-color="#bf4"/><stop offset=".925" stop-color="#bf4"/><stop offset=".935" stop-color="#d1ff2e"/><stop offset=".946" stop-color="#fff700"/><stop offset=".957" stop-color="#ffc800"/><stop offset=".968" stop-color="#ff9b00"/><stop offset=".978" stop-color="#ff6200"/><stop offset=".989" stop-color="#ff3100"/><stop offset="1" stop-color="#ff1500"/></linearGradient>
<linearGradient id="b50" x1="0" y1="0" x2="0" y2="1"><stop offset="0" stop-color="#000094"/><stop offset=".022" stop-color="#000094"/><stop offset=".043" stop-color="#000094"/><stop offset=".065" stop-color="#000094"/><stop offset=".086" stop-color="#000094"/><stop offset=".108" stop-color="#000094"/><stop offset=".129" stop-color="#000094"/><stop offset=".151" stop-color="#000098"/><stop offset=".172" stop-color="#0000ab"/><stop offset=".194" stop-color="#0000d0"/><stop offset=".215" stop-color="#0010ff"/><stop offset=".237" stop-color="#06f"/><stop offset=".258" stop-color="#00a7ff"/><stop offset=".28" stop-color="#00b1ff"/><stop offset=".301" stop-color="#00b4ff"/><stop offset=".323" stop-color="#00afff"/><stop offset=".344" stop-color="#00a7ff"/><stop offset=".366" stop-color="#009dff"/><stop offset=".387" stop-color="#0089ff"/><stop offset=".409" stop-color="#0062ff"/><stop offset=".43" stop-color="#0016ff"/><stop offset=".452" stop-color="#0000c2"/><stop offset=".473" stop-color="#0000be"/><stop offset=".495" stop-color="#0000ca"/><stop offset=".516" stop-color="#0005ff"/><stop offset=".538" stop-color="#0035ff"/><stop offset=".559" stop-color="#003fff"/><stop offset=".581" stop-color="#003eff"/><stop offset=".602" stop-color="#002aff"/><stop offset=".624" stop-color="#0025ff"/><stop offset=".645" stop-color="#0025ff"/><stop offset=".667" stop-color="#002bff"/><stop offset=".688" stop-color="#003cff"/><stop offset=".71" stop-color="#0069ff"/><stop offset=".731" stop-color="#0092ff"/><stop offset=".753" stop-color="#008dff"/><stop offset=".774" stop-color="#0086ff"/><stop offset=".796" stop-color="#0081ff"/><stop offset=".817" stop-color="#0083ff"/><stop offset=".839" stop-color="#00f6ff"/><stop offset=".86" stop-color="#7f8"/><stop offset=".882" stop-color="#b2ff4d"/><stop offset=".903" stop-color="#bdff42"/><stop offset=".925" stop-color="#bfff40"/><stop offset=".935" stop-color="#d6ff29"/><stop offset=".946" stop-color="#fff400"/><stop offset=".957" stop-color="#ffc600"/><stop offset=".968" stop-color="#ff9b00"/><stop offset=".978" stop-color="#ff6200"/><stop offset=".989" stop-color="#ff3100"/><stop offset="1" stop-color="#ff1500"/></linearGradient>
<linearGradient id="b51" x1="0" y1="0" x2="0" y2="1"><stop offset="0" stop-color="#000094"/><stop offset=".022" stop-color="#000094"/><stop offset=".043" stop-color="#000094"/><stop offset=".065" stop-color="#000094"/><stop offset=".086" stop-color="#000094"/><stop offset=".108" stop-color="#000094"/><stop offset=".129" stop-color="#000094"/><stop offset=".151" stop-color="#000097"/><stop offset=".172" stop-color="#0000a7"/><stop offset=".194" stop-color="#0000ca"/><stop offset=".215" stop-color="#0008ff"/><stop offset=".237" stop-color="#005bff"/><stop offset=".258" stop-color="#009aff"/><stop offset=".28" stop-color="#00a5ff"/><stop offset=".301" stop-color="#00a7ff"/><stop offset=".323" stop-color="#00a2ff"/><stop offset=".344" stop-color="#009bff"/><stop offset=".366" stop-color="#0091ff"/><stop offset=".387" stop-color="#007cff"/><stop offset=".409" stop-color="#0052ff"/><stop offset=".43" stop-color="#0008ff"/><stop offset=".452" stop-color="#0000b9"/><stop offset=".473" stop-color="#0000b3"/><stop offset=".495" stop-color="#0000ba"/><stop offset=".516" stop-color="#0000f6"/><stop offset=".538" stop-color="#0029ff"/><stop offset=".559" stop-color="#002eff"/><stop offset=".581" stop-color="#002cff"/><stop offset=".602" stop-color="#0017ff"/><stop offset=".624" stop-color="#01f"/><stop offset=".645" stop-color="#01f"/><stop offset=".667" stop-color="#0019ff"/><stop offset=".688" stop-color="#0034ff"/><stop offset=".71" stop-color="#0067ff"/><stop offset=".731" stop-color="#0092ff"/><stop offset=".753" stop-color="#0091ff"/><stop offset=".774" stop-color="#008eff"/><stop offset=".796" stop-color="#0089ff"/><stop offset=".817" stop-color="#0090ff"/><stop offset=".839" stop-color="#00faff"/><stop offset=".86" stop-color="#75ff8a"/><stop offset=".882" stop-color="#b0ff4f"/><stop offset=".903" stop-color="#bfff40"/><stop offset=".925" stop-color="#c2ff3d"/><stop offset=".935" stop-color="#daff25"/><stop offset=".946" stop-color="#fff100"/><stop offset=".957" stop-color="#ffc500"/><stop offset=".968" stop-color="#ff9a00"/><stop offset=".978" stop-color="#ff6200"/><stop offset=".989" stop-color="#ff3100"/><stop offset="1" stop-color="#ff1500"/></linearGradient>
<linearGradient id="b52" x1="0" y1="0" x2="0" y2="1"><stop offset="0" stop-color="#000094"/><stop offset=".022" stop-color="#000094"/><stop offset=".043" stop-color="#000094"/><stop offset=".065" stop-color="#000094"/><stop offset=".086" stop-color="#000094"/><stop offset=".108" stop-color="#000094"/><stop offset=".129" stop-color="#000094"/><stop offset=".151" stop-color="#000097"/><stop offset=".172" stop-color="#0000a4"/><stop offset=".194" stop-color="#0000c4"/><stop offset=".215" stop-color="#00f"/><stop offset=".237" stop-color="#0051ff"/><stop offset=".258" stop-color="#008eff"/><stop offset=".28" stop-color="#09f"/><stop offset=".301" stop-color="#009bff"/><stop offset=".323" stop-color="#0096ff"/><stop offset=".344" stop-color="#008eff"/><stop offset=".366" stop-color="#0084ff"/><stop offset=".387" stop-color="#006fff"/><stop offset=".409" stop-color="#0045ff"/><stop offset=".43" stop-color="#0000fc"/><stop offset=".452" stop-color="#0000b1"/><stop offset=".473" stop-color="#0000ab"/><stop offset=".495" stop-color="#0000af"/><stop offset=".516" stop-color="#0000ec"/><stop offset=".538" stop-color="#001eff"/><stop offset=".559" stop-color="#0020ff"/><stop offset=".581" stop-color="#001dff"/><stop offset=".602" stop-color="#0008ff"/><stop offset=".624" stop-color="#0001ff"/><stop offset=".645" stop-color="#0001ff"/><stop offset=".667" stop-color="#000bff"/><stop offset=".688" stop-color="#002cff"/><stop offset=".71" stop-color="#0065ff"/><stop offset=".731" stop-color="#0092ff"/><stop offset=".753" stop-color="#0093ff"/><stop offset=".774" stop-color="#0093ff"/><stop offset=".796" stop-color="#0091ff"/><stop offset=".817" stop-color="#009bff"/><stop offset=".839" stop-color="#0ff"/><stop offset=".86" stop-color="#74ff8b"/><stop offset=".882" stop-color="#b0ff4f"/><stop offset=".903" stop-color="#c0ff3f"/><stop offset=".925" stop-color="#c5ff3a"/><stop offset=".935" stop-color="#df2"/><stop offset=".946" stop-color="#fe0"/><stop offset=".957" stop-color="#ffc400"/><stop offset=".968" stop-color="#ff9a00"/><stop offset=".978" stop-color="#ff6200"/><stop offset=".989" stop-color="#ff3100"/><stop offset="1" stop-color="#ff1500"/></linearGradient>
<linearGradient id="b53" x1="0" y1="0" x2="0" y2="1"><stop offset="0" stop-color="#000094"/><stop offset=".022" stop-color="#000094"/><stop offset=".043" stop-color="#000094"/><stop offset=".065" stop-color="#000094"/><stop offset=".086" stop-color="#000094"/><stop offset=".108" stop-color="#000094"/><stop offset=".129" stop-color="#000094"/><stop offset=".151" stop-color="#000096"/><stop offset=".172" stop-color="#0000a2"/><stop offset=".194" stop-color="#0000c0"/><stop offset=".215" stop-color="#0000f8"/><stop offset=".237" stop-color="#0047ff"/><stop offset=".258" stop-color="#0083ff"/><stop offset=".28" stop-color="#008cff"/><stop offset=".301" stop-color="#008eff"/><stop offset=".323" stop-color="#0089ff"/><stop offset=".344" stop-color="#0082ff"/><stop offset=".366" stop-color="#07f"/><stop offset=".387" stop-color="#0063ff"/><stop offset=".409" stop-color="#003aff"/><stop offset=".43" stop-color="#0000f4"/><stop offset=".452" stop-color="#0000ad"/><stop offset=".473" stop-color="#0000a7"/><stop offset=".495" stop-color="#0000a9"/><stop offset=".516" stop-color="#0000e5"/><stop offset=".538" stop-color="#0016ff"/><stop offset=".559" stop-color="#0016ff"/><stop offset=".581" stop-color="#0012ff"/><stop offset=".602" stop-color="#0000fd"/><stop offset=".624" stop-color="#0000f7"/><stop offset=".645" stop-color="#0000f7"/><stop offset=".667" stop-color="#0003ff"/><stop offset=".688" stop-color="#0025ff"/><stop offset=".71" stop-color="#0061ff"/><stop offset=".731" stop-color="#0091ff"/><stop offset=".753" stop-color="#0094ff"/><stop offset=".774" stop-color="#0094ff"/><stop offset=".796" stop-color="#0096ff"/><stop offset=".817" stop-color="#00a5ff"/><stop offset=".839" stop-color="#04fffb"/><stop offset=".86" stop-color="#74ff8b"/><stop offset=".882" stop-color="#afff50"/><stop offset=".903" stop-color="#c1ff3e"/><stop offset=".925" stop-color="#c8ff37"/><stop offset=".935" stop-color="#e0ff1f"/><stop offset=".946" stop-color="#ffed00"/><stop offset=".957" stop-color="#ffc400"/><stop offset=".968" stop-color="#ff9a00"/><stop offset=".978" stop-color="#ff6200"/><stop offset=".989" stop-color="#ff3100"/><stop offset="1" stop-color="#ff1500"/></linearGradient>
<linearGradient id="b54" x1="0" y1="0" x2="0" y2="1"><stop offset="0" stop-color="#000094"/><stop offset=".022" stop-color="#000094"/><stop offset=".043" stop-color="#000094"/><stop offset=".065" stop-color="#000094"/><stop offset=".086" stop-color="#000094"/><stop offset=".108" stop-color="#000094"/><stop offset=".129" stop-color="#000094"/><stop offset=".151" stop-color="#000096"/><stop offset=".172" stop-color="#0000a0"/><stop offset=".194" stop-color="#0000bc"/><stop offset=".215" stop-color="#0000f2"/><stop offset=".237" stop-color="#003eff"/><stop offset=".258" stop-color="#0078ff"/><stop offset=".28" stop-color="#007fff"/><stop offset=".301" stop-color="#0081ff"/><stop offset=".323" stop-color="#007cff"/><stop offset=".344" stop-color="#0074ff"/><stop offset=".366" stop-color="#006aff"/><stop offset=".387" stop-color="#0056ff"/><stop offset=".409" stop-color="#0031ff"/><stop offset=".43" stop-color="#0000ef"/><stop offset=".452" stop-color="#00a"/><stop offset=".473" stop-color="#0000a4"/><stop offset=".495" stop-color="#0000a6"/><stop offset=".516" stop-color="#0000e0"/><stop offset=".538" stop-color="#000fff"/><stop offset=".559" stop-color="#000fff"/><stop offset=".581" stop-color="#000bff"/><stop offset=".602" stop-color="#0000f7"/><stop offset=".624" stop-color="#0000f1"/><stop offset=".645" stop-color="#0000f1"/><stop offset=".667" stop-color="#0000fb"/><stop offset=".688" stop-color="#001dff"/><stop offset=".71" stop-color="#005aff"/><stop offset=".731" stop-color="#008eff"/><stop offset=".753" stop-color="#0092ff"/><stop offset=".774" stop-color="#0095ff"/><stop offset=".796" stop-color="#09f"/><stop offset=".817" stop-color="#00aeff"/><stop offset=".839" stop-color="#09fff6"/><stop offset=".86" stop-color="#74ff8b"/><stop offset=".882" stop-color="#afff50"/><stop offset=".903" stop-color="#c2ff3d"/><stop offset=".925" stop-color="#caff35"/><stop offset=".935" stop-color="#e2ff1d"/><stop offset=".946" stop-color="#ffed00"/><stop offset=".957" stop-color="#ffc400"/><stop offset=".968" stop-color="#ff9a00"/><stop offset=".978" stop-color="#ff6200"/><stop offset=".989" stop-color="#ff3100"/><stop offset="1" stop-color="#ff1500"/></linearGradient>
<linearGradient id="b55" x1="0" y1="0" x2="0" y2="1"><stop offset="0" stop-color="#000094"/><stop offset=".022" stop-color="#000094"/><stop offset=".043" stop-color="#000094"/><stop offset=".065" stop-color="#000094"/><stop offset=".086" stop-color="#000094"/><stop offset=".108" stop-color="#000094"/><stop offset=".129" stop-color="#000094"/><stop offset=".151" stop-color="#000096"/><stop offset=".172" stop-color="#00009f"/><stop offset=".194" stop-color="#0000b8"/><stop offset=".215" stop-color="#0000ec"/><stop offset=".237" stop-color="#0036ff"/><stop offset=".258" stop-color="#006dff"/><stop offset=".28" stop-color="#0073ff"/><stop offset=".301" stop-color="#0073ff"/><stop offset=".323" stop-color="#006eff"/><stop offset=".344" stop-color="#0067ff"/><stop offset=".366" stop-color="#005cff"/><stop offset=".387" stop-color="#004aff"/><stop offset=".409" stop-color="#0029ff"/><stop offset=".43" stop-color="#0000eb"/><stop offset=".452" stop-color="#0000a7"/><stop offset=".473" stop-color="#0000a1"/><stop offset=".495" stop-color="#0000a3"/><stop offset=".516" stop-color="#0000db"/><stop offset=".538" stop-color="#0009ff"/><stop offset=".559" stop-color="#0009ff"/><stop offset=".581" stop-color="#0004ff"/><stop offset=".602" stop-color="#0000f1"/><stop offset=".624" stop-color="#0000ec"/><stop offset=".645" stop-color="#0000ec"/><stop offset=".667" stop-color="#0000f5"/><stop offset=".688" stop-color="#0015ff"/><stop offset=".71" stop-color="#0052ff"/><stop offset=".731" stop-color="#0089ff"/><stop offset=".753" stop-color="#0091ff"/><stop offset=".774" stop-color="#0095ff"/><stop offset=".796" stop-color="#009dff"/><stop offset=".817" stop-color="#00b7ff"/><stop offset=".839" stop-color="#0efff1"/><stop offset=".86" stop-color="#73ff8c"/><stop offset=".882" stop-color="#afff50"/><stop offset=".903" stop-color="#c3ff3c"/><stop offset=".925" stop-color="#cdff32"/><stop offset=".935" stop-color="#e4ff1b"/><stop offset=".946" stop-color="#ffec00"/><stop offset=".957" stop-color="#ffc400"/><stop offset=".968" stop-color="#ff9a00"/><stop offset=".978" stop-color="#ff6200"/><stop offset=".989" stop-color="#ff3100"/><stop offset="1" stop-color="#ff1500"/></linearGradient>
<linearGradient id="b56" x1="0" y1="0" x2="0" y2="1"><stop offset="0" stop-color="#000094"/><stop offset=".022" stop-color="#000094"/><stop offset=".043" stop-color="#000094"/><stop offset=".065" stop-color="#000094"/><stop offset=".086" stop-color="#000094"/><stop offset=".108" stop-color="#000094"/><stop offset=".129" stop-color="#000094"/><stop offset=".151" stop-color="#000095"/><stop offset=".172" stop-color="#00009d"/><stop offset=".194" stop-color="#0000b5"/><stop offset=".215" stop-color="#0000e6"/><stop offset=".237" stop-color="#002eff"/><stop offset=".258" stop-color="#0062ff"/><stop offset=".28" stop-color="#06f"/><stop offset=".301" stop-color="#06f"/><stop offset=".323" stop-color="#0062ff"/><stop offset=".344" stop-color="#005aff"/><stop offset=".366" stop-color="#004fff"/><stop offset=".387" stop-color="#003eff"/><stop offset=".409" stop-color="#02f"/><stop offset=".43" stop-color="#0000e7"/><stop offset=".452" stop-color="#0000a5"/><stop offset=".473" stop-color="#00009f"/><stop offset=".495" stop-color="#0000a2"/><stop offset=".516" stop-color="#0000d7"/><stop offset=".538" stop-color="#0003ff"/><stop offset=".559" stop-color="#0003ff"/><stop offset=".581" stop-color="#0000fe"/><stop offset=".602" stop-color="#0000ed"/><stop offset=".624" stop-color="#0000e8"/><stop offset=".645" stop-color="#0000e8"/><stop offset=".667" stop-color="#0000f0"/><stop offset=".688" stop-color="#000fff"/><stop offset=".71" stop-color="#004bff"/><stop offset=".731" stop-color="#0084ff"/><stop offset=".753" stop-color="#008eff"/><stop offset=".774" stop-color="#0095ff"/><stop offset=".796" stop-color="#00a0ff"/><stop offset=".817" stop-color="#00bfff"/><stop offset=".839" stop-color="#12ffed"/><stop offset=".86" stop-color="#73ff8c"/><stop offset=".882" stop-color="#afff50"/><stop offset=".903" stop-color="#c4ff3b"/><stop offset=".925" stop-color="#ceff31"/><stop offset=".935" stop-color="#e6ff19"/><stop offset=".946" stop-color="#ffec00"/><stop offset=".957" stop-color="#ffc400"/><stop offset=".968" stop-color="#ff9a00"/><stop offset=".978" stop-color="#ff6200"/><stop offset=".989" stop-color="#ff3100"/><stop offset="1" stop-color="#ff1500"/></linearGradient>
<linearGradient id="b57" x1="0" y1="0" x2="0" y2="1"><stop offset="0" stop-color="#000094"/><stop offset=".022" stop-color="#000094"/><stop offset=".043" stop-color="#000094"/><stop offset=".065" stop-color="#000094"/><stop offset=".086" stop-color="#000094"/><stop offset=".108" stop-color="#000094"/><stop offset=".129" stop-color="#000094"/><stop offset=".151" stop-color="#000095"/><stop offset=".172" stop-color="#00009c"/><stop offset=".194" stop-color="#0000b2"/><stop offset=".215" stop-color="#0000e1"/><stop offset=".237" stop-color="#0026ff"/><stop offset=".258" stop-color="#0059ff"/><stop offset=".28" stop-color="#005bff"/><stop offset=".301" stop-color="#005bff"/><stop offset=".323" stop-color="#0056ff"/><stop offset=".344" stop-color="#004eff"/><stop offset=".366" stop-color="#0043ff"/><stop offset=".387" stop-color="#0034ff"/><stop offset=".409" stop-color="#001bff"/><stop offset=".43" stop-color="#0000e4"/><stop offset=".452" stop-color="#0000a4"/><stop offset=".473" stop-color="#00009e"/><stop offset=".495" stop-color="#0000a1"/><stop offset=".516" stop-color="#0000d3"/><stop offset=".538" stop-color="#0000fc"/><stop offset=".559" stop-color="#0000fc"/><stop offset=".581" stop-color="#0000f9"/><stop offset=".602" stop-color="#0000ea"/><stop offset=".624" stop-color="#0000e6"/><stop offset=".645" stop-color="#0000e6"/><stop offset=".667" stop-color="#00e"/><stop offset=".688" stop-color="#000bff"/><stop offset=".71" stop-color="#0045ff"/><stop offset=".731" stop-color="#007fff"/><stop offset=".753" stop-color="#008dff"/><stop offset=".774" stop-color="#0095ff"/><stop offset=".796" stop-color="#00a1ff"/><stop offset=".817" stop-color="#00c3ff"/><stop offset=".839" stop-color="#14ffeb"/><stop offset=".86" stop-color="#73ff8c"/><stop offset=".882" stop-color="#afff50"/><stop offset=".903" stop-color="#c5ff3a"/><stop offset=".925" stop-color="#cfff30"/><stop offset=".935" stop-color="#e7ff18"/><stop offset=".946" stop-color="#ffeb00"/><stop offset=".957" stop-color="#ffc400"/><stop offset=".968" stop-color="#ff9a00"/><stop offset=".978" stop-color="#ff6200"/><stop offset=".989" stop-color="#ff3100"/><stop offset="1" stop-color="#ff1500"/></linearGradient>
<linearGradient id="b58" x1="0" y1="0" x2="0" y2="1"><stop offset="0" stop-color="#000094"/><stop offset=".022" stop-color="#000094"/><stop offset=".043" stop-color="#000094"/><stop offset=".065" stop-color="#000094"/><stop offset=".086" stop-color="#000094"/><stop offset=".108" stop-color="#000094"/><stop offset=".129" stop-color="#000094"/><stop offset=".151" stop-color="#000095"/><stop offset=".172" stop-color="#00009a"/><stop offset=".194" stop-color="#0000ae"/><stop offset=".215" stop-color="#0000dc"/><stop offset=".237" stop-color="#001fff"/><stop offset=".258" stop-color="#004fff"/><stop offset=".28" stop-color="#0051ff"/><stop offset=".301" stop-color="#0050ff"/><stop offset=".323" stop-color="#004cff"/><stop offset=".344" stop-color="#04f"/><stop offset=".366" stop-color="#0039ff"/><stop offset=".387" stop-color="#002aff"/><stop offset=".409" stop-color="#0015ff"/><stop offset=".43" stop-color="#0000e2"/><stop offset=".452" stop-color="#0000a4"/><stop offset=".473" stop-color="#00009e"/><stop offset=".495" stop-color="#0000a0"/><stop offset=".516" stop-color="#0000cf"/><stop offset=".538" stop-color="#0000f5"/><stop offset=".559" stop-color="#0000f7"/><stop offset=".581" stop-color="#0000f5"/><stop offset=".602" stop-color="#0000e9"/><stop offset=".624" stop-color="#0000e6"/><stop offset=".645" stop-color="#0000e6"/><stop offset=".667" stop-color="#0000ef"/><stop offset=".688" stop-color="#000bff"/><stop offset=".71" stop-color="#0043ff"/><stop offset=".731" stop-color="#007cff"/><stop offset=".753" stop-color="#008cff"/><stop offset=".774" stop-color="#0095ff"/><stop offset=".796" stop-color="#00a2ff"/><stop offset=".817" stop-color="#00c3ff"/><stop offset=".839" stop-color="#15ffea"/><stop offset=".86" stop-color="#73ff8c"/><stop offset=".882" stop-color="#afff50"/><stop offset=".903" stop-color="#c5ff3a"/><stop offset=".925" stop-color="#d0ff2f"/><stop offset=".935" stop-color="#e7ff18"/><stop offset=".946" stop-color="#ffeb00"/><stop offset=".957" stop-color="#ffc400"/><stop offset=".968" stop-color="#ff9a00"/><stop offset=".978" stop-color="#ff6200"/><stop offset=".989" stop-color="#ff3100"/><stop offset="1" stop-color="#ff1500"/></linearGradient>
<linearGradient id="b59" x1="0" y1="0" x2="0" y2="1"><stop offset="0" stop-color="#000094"/><stop offset=".022" stop-color="#000094"/><stop offset=".043" stop-color="#000094"/><stop offset=".065" stop-color="#000094"/><stop offset=".086" stop-color="#000094"/><stop offset=".108" stop-color="#000094"/><stop offset=".129" stop-color="#000094"/><stop offset=".151" stop-color="#000095"/><stop offset=".172" stop-color="#000098"/><stop offset=".194" stop-color="#0000ab"/><stop offset=".215" stop-color="#0000d7"/><stop offset=".237" stop-color="#0018ff"/><stop offset=".258" stop-color="#0046ff"/><stop offset=".28" stop-color="#0048ff"/><stop offset=".301" stop-color="#0047ff"/><stop offset=".323" stop-color="#0042ff"/><stop offset=".344" stop-color="#003aff"/><stop offset=".366" stop-color="#002fff"/><stop offset=".387" stop-color="#0021ff"/><stop offset=".409" stop-color="#0010ff"/><stop offset=".43" stop-color="#0000df"/><stop offset=".452" stop-color="#0000a3"/><stop offset=".473" stop-color="#00009e"/><stop offset=".495" stop-color="#0000a0"/><stop offset=".516" stop-color="#0000c9"/><stop offset=".538" stop-color="#00e"/><stop offset=".559" stop-color="#0000f2"/><stop offset=".581" stop-color="#0000f2"/><stop offset=".602" stop-color="#0000e8"/><stop offset=".624" stop-color="#0000e6"/><stop offset=".645" stop-color="#0000e9"/><stop offset=".667" stop-color="#0000f3"/><stop offset=".688" stop-color="#000bff"/><stop offset=".71" stop-color="#0041ff"/><stop offset=".731" stop-color="#007aff"/><stop offset=".753" stop-color="#008bff"/><stop offset=".774" stop-color="#0095ff"/><stop offset=".796" stop-color="#00a2ff"/><stop offset=".817" stop-color="#00c3ff"/><stop offset=".839" stop-color="#15ffea"/><stop offset=".86" stop-color="#73ff8c"/><stop offset=".882" stop-color="#afff50"/><stop offset=".903" stop-color="#c5ff3a"/><stop offset=".925" stop-color="#d0ff2f"/><stop offset=".935" stop-color="#e7ff18"/><stop offset=".946" stop-color="#ffeb00"/><stop offset=".957" stop-color="#ffc400"/><stop offset=".968" stop-color="#ff9a00"/><stop offset=".978" stop-color="#ff6200"/><stop offset=".989" stop-color="#ff3100"/><stop offset="1" stop-color="#ff1500"/></linearGradient>
<linearGradient id="b60" x1="0" y1="0" x2="0" y2="1"><stop offset="0" stop-color="#000094"/><stop offset=".022" stop-color="#000094"/><stop offset=".043" stop-color="#000094"/><stop offset=".065" stop-color="#000094"/><stop offset=".086" stop-color="#000094"/><stop offset=".108" stop-color="#000094"/><stop offset=".129" stop-color="#000094"/><stop offset=".151" stop-color="#000094"/><stop offset=".172" stop-color="#000096"/><stop offset=".194" stop-color="#0000a7"/><stop offset=".215" stop-color="#0000d3"/><stop offset=".237" stop-color="#0012ff"/><stop offset=".258" stop-color="#003eff"/><stop offset=".28" stop-color="#003fff"/><stop offset=".301" stop-color="#003fff"/><stop offset=".323" stop-color="#003aff"/><stop offset=".344" stop-color="#0032ff"/><stop offset=".366" stop-color="#0026ff"/><stop offset=".387" stop-color="#0019ff"/><stop offset=".409" stop-color="#000aff"/><stop offset=".43" stop-color="#00d"/><stop offset=".452" stop-color="#0000a3"/><stop offset=".473" stop-color="#00009e"/><stop offset=".495" stop-color="#0000a0"/><stop offset=".516" stop-color="#0000c3"/><stop offset=".538" stop-color="#0000e6"/><stop offset=".559" stop-color="#00e"/><stop offset=".581" stop-color="#00e"/><stop offset=".602" stop-color="#0000e8"/><stop offset=".624" stop-color="#0000e7"/><stop offset=".645" stop-color="#00e"/><stop offset=".667" stop-color="#0000f8"/><stop offset=".688" stop-color="#000cff"/><stop offset=".71" stop-color="#003fff"/><stop offset=".731" stop-color="#0078ff"/><stop offset=".753" stop-color="#008aff"/><stop offset=".774" stop-color="#0095ff"/><stop offset=".796" stop-color="#00a2ff"/><stop offset=".817" stop-color="#00c3ff"/><stop offset=".839" stop-color="#15ffea"/><stop offset=".86" stop-color="#73ff8c"/><stop offset=".882" stop-color="#afff50"/><stop offset=".903" stop-color="#c5ff3a"/><stop offset=".925" stop-color="#d0ff2f"/><stop offset=".935" stop-color="#e7ff18"/><stop offset=".946" stop-color="#ffeb00"/><stop offset=".957" stop-color="#ffc400"/><stop offset=".968" stop-color="#ff9a00"/><stop offset=".978" stop-color="#ff6200"/><stop offset=".989" stop-color="#ff3100"/><stop offset="1" stop-color="#ff1500"/></linearGradient>
<linearGradient id="b61" x1="0" y1="0" x2="0" y2="1"><stop offset="0" stop-color="#000094"/><stop offset=".022" stop-color="#000094"/><stop offset=".043" stop-color="#000094"/><stop offset=".065" stop-color="#000094"/><stop offset=".086" stop-color="#000094"/><stop offset=".108" stop-color="#000094"/><stop offset=".129" stop-color="#000094"/><stop offset=".151" stop-color="#000094"/><stop offset=".172" stop-color="#000095"/><stop offset=".194" stop-color="#0000a4"/><stop offset=".215" stop-color="#0000d0"/><stop offset=".237" stop-color="#000bff"/><stop offset=".258" stop-color="#0036ff"/><stop offset=".28" stop-color="#0037ff"/><stop offset=".301" stop-color="#0037ff"/><stop offset=".323" stop-color="#0032ff"/><stop offset=".344" stop-color="#002aff"/><stop offset=".366" stop-color="#001eff"/><stop offset=".387" stop-color="#0012ff"/><stop offset=".409" stop-color="#0005ff"/><stop offset=".43" stop-color="#0000db"/><stop offset=".452" stop-color="#0000a3"/><stop offset=".473" stop-color="#00009e"/><stop offset=".495" stop-color="#00009f"/><stop offset=".516" stop-color="#0000be"/><stop offset=".538" stop-color="#0000de"/><stop offset=".559" stop-color="#0000e9"/><stop offset=".581" stop-color="#0000eb"/><stop offset=".602" stop-color="#0000e7"/><stop offset=".624" stop-color="#0000e8"/><stop offset=".645" stop-color="#0000f3"/><stop offset=".667" stop-color="#0000fd"/><stop offset=".688" stop-color="#000dff"/><stop offset=".71" stop-color="#003dff"/><stop offset=".731" stop-color="#0076ff"/><stop offset=".753" stop-color="#008aff"/><stop offset=".774" stop-color="#0096ff"/><stop offset=".796" stop-color="#00a2ff"/><stop offset=".817" stop-color="#00c3ff"/><stop offset=".839" stop-color="#15ffea"/><stop offset=".86" stop-color="#73ff8c"/><stop offset=".882" stop-color="#afff50"/><stop offset=".903" stop-color="#c5ff3a"/><stop offset=".925" stop-color="#d0ff2f"/><stop offset=".935" stop-color="#e7ff18"/><stop offset=".946" stop-color="#ffeb00"/><stop offset=".957" stop-color="#ffc400"/><stop offset=".968" stop-color="#ff9a00"/><stop offset=".978" stop-color="#ff6200"/><stop offset=".989" stop-color="#ff3100"/><stop offset="1" stop-color="#ff1500"/></linearGradient>
<linearGradient id="b62" x1="0" y1="0" x2="0" y2="1"><stop offset="0" stop-color="#000094"/><stop offset=".022" stop-color="#000094"/><stop offset=".043" stop-color="#000094"/><stop offset=".065" stop-color="#000094"/><stop offset=".086" stop-color="#000094"/><stop offset=".108" stop-color="#000094"/><stop offset=".129" stop-color="#000094"/><stop offset=".151" stop-color="#000094"/><stop offset=".172" stop-color="#000094"/><stop offset=".194" stop-color="#0000a2"/><stop offset=".215" stop-color="#00c"/><stop offset=".237" stop-color="#0005ff"/><stop offset=".258" stop-color="#002eff"/><stop offset=".28" stop-color="#0030ff"/><stop offset=".301" stop-color="#002fff"/><stop offset=".323" stop-color="#002aff"/><stop offset=".344" stop-color="#02f"/><stop offset=".366" stop-color="#0017ff"/><stop offset=".387" stop-color="#000cff"/><stop offset=".409" stop-color="#0001ff"/><stop offset=".43" stop-color="#0000d9"/><stop offset=".452" stop-color="#0000a3"/><stop offset=".473" stop-color="#00009e"/><stop offset=".495" stop-color="#00009f"/><stop offset=".516" stop-color="#0000b8"/><stop offset=".538" stop-color="#0000d5"/><stop offset=".559" stop-color="#0000e3"/><stop offset=".581" stop-color="#0000e7"/><stop offset=".602" stop-color="#0000e6"/><stop offset=".624" stop-color="#0000e9"/><stop offset=".645" stop-color="#0000f5"/><stop offset=".667" stop-color="#0001ff"/><stop offset=".688" stop-color="#000dff"/><stop offset=".71" stop-color="#003bff"/><stop offset=".731" stop-color="#0074ff"/><stop offset=".753" stop-color="#0089ff"/><stop offset=".774" stop-color="#0096ff"/><stop offset=".796" stop-color="#00a2ff"/><stop offset=".817" stop-color="#00c3ff"/><stop offset=".839" stop-color="#15ffea"/><stop offset=".86" stop-color="#73ff8c"/><stop offset=".882" stop-color="#afff50"/><stop offset=".903" stop-color="#c5ff3a"/><stop offset=".925" stop-color="#d0ff2f"/><stop offset=".935" stop-color="#e7ff18"/><stop offset=".946" stop-color="#ffeb00"/><stop offset=".957" stop-color="#ffc400"/><stop offset=".968" stop-color="#ff9a00"/><stop offset=".978" stop-color="#ff6200"/><stop offset=".989" stop-color="#ff3100"/><stop offset="1" stop-color="#ff1500"/></linearGradient>
<linearGradient id="b63" x1="0" y1="0" x2="0" y2="1"><stop offset="0" stop-color="#000094"/><stop offset=".022" stop-color="#000094"/><stop offset=".043" stop-color="#000094"/><stop offset=".065" stop-color="#000094"/><stop offset=".086" stop-color="#000094"/><stop offset=".108" stop-color="#000094"/><stop offset=".129" stop-color="#000094"/><stop offset=".151" stop-color="#000094"/><stop offset=".172" stop-color="#000094"/><stop offset=".194" stop-color="#0000a1"/><stop offset=".215" stop-color="#0000c8"/><stop offset=".237" stop-color="#0000fe"/><stop offset=".258" stop-color="#0027ff"/><stop offset=".28" stop-color="#0028ff"/><stop offset=".301" stop-color="#0028ff"/><stop offset=".323" stop-color="#0023ff"/><stop offset=".344" stop-color="#001bff"/><stop offset=".366" stop-color="#01f"/><stop offset=".387" stop-color="#0006ff"/><stop offset=".409" stop-color="#0000fb"/><stop offset=".43" stop-color="#0000d7"/><stop offset=".452" stop-color="#0000a3"/><stop offset=".473" stop-color="#00009f"/><stop offset=".495" stop-color="#00009f"/><stop offset=".516" stop-color="#0000b4"/><stop offset=".538" stop-color="#0000cd"/><stop offset=".559" stop-color="#0000db"/><stop offset=".581" stop-color="#0000e1"/><stop offset=".602" stop-color="#0000e3"/><stop offset=".624" stop-color="#0000e9"/><stop offset=".645" stop-color="#0000f5"/><stop offset=".667" stop-color="#0001ff"/><stop offset=".688" stop-color="#000dff"/><stop offset=".71" stop-color="#003aff"/><stop offset=".731" stop-color="#0071ff"/><stop offset=".753" stop-color="#08f"/><stop offset=".774" stop-color="#0096ff"/><stop offset=".796" stop-color="#00a2ff"/><stop offset=".817" stop-color="#00c3ff"/><stop offset=".839" stop-color="#15ffea"/><stop offset=".86" stop-color="#73ff8c"/><stop offset=".882" stop-color="#afff50"/><stop offset=".903" stop-color="#c5ff3a"/><stop offset=".925" stop-color="#d0ff2f"/><stop offset=".935" stop-color="#e7ff18"/><stop offset=".946" stop-color="#ffeb00"/><stop offset=".957" stop-color="#ffc400"/><stop offset=".968" stop-color="#ff9a00"/><stop offset=".978" stop-color="#ff6200"/><stop offset=".989" stop-color="#ff3100"/><stop offset="1" stop-color="#ff1500"/></linearGradient>
<linearGradient id="b64" x1="0" y1="0" x2="0" y2="1"><stop offset="0" stop-color="#000094"/><stop offset=".022" stop-color="#000094"/><stop offset=".043" stop-color="#000094"/><stop offset=".065" stop-color="#000094"/><stop offset=".086" stop-color="#000094"/><stop offset=".108" stop-color="#000094"/><stop offset=".129" stop-color="#000094"/><stop offset=".151" stop-color="#000094"/><stop offset=".172" stop-color="#000094"/><stop offset=".194" stop-color="#0000a0"/><stop offset=".215" stop-color="#0000c4"/><stop offset=".237" stop-color="#0000f8"/><stop offset=".258" stop-color="#0020ff"/><stop offset=".28" stop-color="#02f"/><stop offset=".301" stop-color="#0021ff"/><stop offset=".323" stop-color="#001cff"/><stop offset=".344" stop-color="#0015ff"/><stop offset=".366" stop-color="#000bff"/><stop offset=".387" stop-color="#0002ff"/><stop offset=".409" stop-color="#0000f7"/><stop offset=".43" stop-color="#0000d4"/><stop offset=".452" stop-color="#0000a4"/><stop offset=".473" stop-color="#0000a0"/><stop offset=".495" stop-color="#0000a1"/><stop offset=".516" stop-color="#0000b0"/><stop offset=".538" stop-color="#0000c4"/><stop offset=".559" stop-color="#0000d1"/><stop offset=".581" stop-color="#0000d9"/><stop offset=".602" stop-color="#0000df"/><stop offset=".624" stop-color="#0000e7"/><stop offset=".645" stop-color="#0000f3"/><stop offset=".667" stop-color="#0000fe"/><stop offset=".688" stop-color="#000dff"/><stop offset=".71" stop-color="#0038ff"/><stop offset=".731" stop-color="#006eff"/><stop offset=".753" stop-color="#0087ff"/><stop offset=".774" stop-color="#0096ff"/><stop offset=".796" stop-color="#00a2ff"/><stop offset=".817" stop-color="#00c3ff"/><stop offset=".839" stop-color="#15ffea"/><stop offset=".86" stop-color="#73ff8c"/><stop offset=".882" stop-color="#afff50"/><stop offset=".903" stop-color="#c5ff3a"/><stop offset=".925" stop-color="#d0ff2f"/><stop offset=".935" stop-color="#e7ff18"/><stop offset=".946" stop-color="#ffeb00"/><stop offset=".957" stop-color="#ffc400"/><stop offset=".968" stop-color="#ff9a00"/><stop offset=".978" stop-color="#ff6200"/><stop offset=".989" stop-color="#ff3100"/><stop offset="1" stop-color="#ff1500"/></linearGradient>
<linearGradient id="b65" x1="0" y1="0" x2="0" y2="1"><stop offset="0" stop-color="#000094"/><stop offset=".022" stop-color="#000094"/><stop offset=".043" stop-color="#000094"/><stop offset=".065" stop-color="#000094"/><stop offset=".086" stop-color="#000094"/><stop offset=".108" stop-color="#000094"/><stop offset=".129" stop-color="#000094"/><stop offset=".151" stop-color="#000094"/><stop offset=".172" stop-color="#000094"/><stop offset=".194" stop-color="#00009f"/><stop offset=".215" stop-color="#0000c0"/><stop offset=".237" stop-color="#0000f3"/><stop offset=".258" stop-color="#001aff"/><stop offset=".28" stop-color="#001bff"/><stop offset=".301" stop-color="#001bff"/><stop offset=".323" stop-color="#0016ff"/><stop offset=".344" stop-color="#000fff"/><stop offset=".366" stop-color="#0006ff"/><stop offset=".387" stop-color="#0000fc"/><stop offset=".409" stop-color="#0000f3"/><stop offset=".43" stop-color="#0000d2"/><stop offset=".452" stop-color="#0000a6"/><stop offset=".473" stop-color="#0000a2"/><stop offset=".495" stop-color="#0000a3"/><stop offset=".516" stop-color="#0000ad"/><stop offset=".538" stop-color="#00b"/><stop offset=".559" stop-color="#0000c6"/><stop offset=".581" stop-color="#0000d0"/><stop offset=".602" stop-color="#0000d8"/><stop offset=".624" stop-color="#0000e3"/><stop offset=".645" stop-color="#0000ef"/><stop offset=".667" stop-color="#0000fb"/><stop offset=".688" stop-color="#000cff"/><stop offset=".71" stop-color="#0037ff"/><stop offset=".731" stop-color="#006aff"/><stop offset=".753" stop-color="#0085ff"/><stop offset=".774" stop-color="#0096ff"/><stop offset=".796" stop-color="#00a2ff"/><stop offset=".817" stop-color="#00c3ff"/><stop offset=".839" stop-color="#15ffea"/><stop offset=".86" stop-color="#73ff8c"/><stop offset=".882" stop-color="#afff50"/><stop offset=".903" stop-color="#c5ff3a"/><stop offset=".925" stop-color="#d0ff2f"/><stop offset=".935" stop-color="#e7ff18"/><stop offset=".946" stop-color="#ffeb00"/><stop offset=".957" stop-color="#ffc400"/><stop offset=".968" stop-color="#ff9a00"/><stop offset=".978" stop-color="#ff6200"/><stop offset=".989" stop-color="#ff3100"/><stop offset="1" stop-color="#ff1500"/></linearGradient>
<linearGradient id="b66" x1="0" y1="0" x2="0" y2="1"><stop offset="0" stop-color="#000094"/><stop offset=".022" stop-color="#000094"/><stop offset=".043" stop-color="#000094"/><stop offset=".065" stop-color="#000094"/><stop offset=".086" stop-color="#000094"/><stop offset=".108" stop-color="#000094"/><stop offset=".129" stop-color="#000094"/><stop offset=".151" stop-color="#000094"/><stop offset=".172" stop-color="#000094"/><stop offset=".194" stop-color="#00009e"/><stop offset=".215" stop-color="#0000bc"/><stop offset=".237" stop-color="#0000ed"/><stop offset=".258" stop-color="#0014ff"/><stop offset=".28" stop-color="#0015ff"/><stop offset=".301" stop-color="#0015ff"/><stop offset=".323" stop-color="#0010ff"/><stop offset=".344" stop-color="#0009ff"/><stop offset=".366" stop-color="#0002ff"/><stop offset=".387" stop-color="#0000f9"/><stop offset=".409" stop-color="#00e"/><stop offset=".43" stop-color="#0000d0"/><stop offset=".452" stop-color="#0000a9"/><stop offset=".473" stop-color="#0000a5"/><stop offset=".495" stop-color="#0000a5"/><stop offset=".516" stop-color="#00a"/><stop offset=".538" stop-color="#0000b2"/><stop offset=".559" stop-color="#0000ba"/><stop offset=".581" stop-color="#0000c4"/><stop offset=".602" stop-color="#0000d1"/><stop offset=".624" stop-color="#00d"/><stop offset=".645" stop-color="#0000e9"/><stop offset=".667" stop-color="#0000f7"/><stop offset=".688" stop-color="#000cff"/><stop offset=".71" stop-color="#0035ff"/><stop offset=".731" stop-color="#0065ff"/><stop offset=".753" stop-color="#0083ff"/><stop offset=".774" stop-color="#0096ff"/><stop offset=".796" stop-color="#00a2ff"/><stop offset=".817" stop-color="#00c3ff"/><stop offset=".839" stop-color="#15ffea"/><stop offset=".86" stop-color="#73ff8c"/><stop offset=".882" stop-color="#afff50"/><stop offset=".903" stop-color="#c5ff3a"/><stop offset=".925" stop-color="#d0ff2f"/><stop offset=".935" stop-color="#e7ff18"/><stop offset=".946" stop-color="#ffeb00"/><stop offset=".957" stop-color="#ffc400"/><stop offset=".968" stop-color="#ff9a00"/><stop offset=".978" stop-color="#ff6200"/><stop offset=".989" stop-color="#ff3100"/><stop offset="1" stop-color="#ff1500"/></linearGradient>
<linearGradient id="b67" x1="0" y1="0" x2="0" y2="1"><stop offset="0" stop-color="#000094"/><stop offset=".022" stop-color="#000094"/><stop offset=".043" stop-color="#000094"/><stop offset=".065" stop-color="#000094"/><stop offset=".086" stop-color="#000094"/><stop offset=".108" stop-color="#000094"/><stop offset=".129" stop-color="#000094"/><stop offset=".151" stop-color="#000094"/><stop offset=".172" stop-color="#000094"/><stop offset=".194" stop-color="#00009d"/><stop offset=".215" stop-color="#0000ba"/><stop offset=".237" stop-color="#0000e9"/><stop offset=".258" stop-color="#0010ff"/><stop offset=".28" stop-color="#01f"/><stop offset=".301" stop-color="#01f"/><stop offset=".323" stop-color="#000cff"/><stop offset=".344" stop-color="#0005ff"/><stop offset=".366" stop-color="#0000fe"/><stop offset=".387" stop-color="#0000f7"/><stop offset=".409" stop-color="#0000ec"/><stop offset=".43" stop-color="#0000cf"/><stop offset=".452" stop-color="#00a"/><stop offset=".473" stop-color="#0000a7"/><stop offset=".495" stop-color="#0000a7"/><stop offset=".516" stop-color="#0000a9"/><stop offset=".538" stop-color="#0000ac"/><stop offset=".559" stop-color="#0000b2"/><stop offset=".581" stop-color="#00b"/><stop offset=".602" stop-color="#00c"/><stop offset=".624" stop-color="#0000d9"/><stop offset=".645" stop-color="#0000e4"/><stop offset=".667" stop-color="#0000f4"/><stop offset=".688" stop-color="#000bff"/><stop offset=".71" stop-color="#0034ff"/><stop offset=".731" stop-color="#0062ff"/><stop offset=".753" stop-color="#0082ff"/><stop offset=".774" stop-color="#0096ff"/><stop offset=".796" stop-color="#00a2ff"/><stop offset=".817" stop-color="#00c3ff"/><stop offset=".839" stop-color="#15ffea"/><stop offset=".86" stop-color="#73ff8c"/><stop offset=".882" stop-color="#afff50"/><stop offset=".903" stop-color="#c5ff3a"/><stop offset=".925" stop-color="#d0ff2f"/><stop offset=".935" stop-color="#e7ff18"/><stop offset=".946" stop-color="#ffeb00"/><stop offset=".957" stop-color="#ffc400"/><stop offset=".968" stop-color="#ff9a00"/><stop offset=".978" stop-color="#ff6200"/><stop offset=".989" stop-color="#ff3100"/><stop offset="1" stop-color="#ff1500"/></linearGradient>
<linearGradient id="cb" x1="0" y1="0" x2="0" y2="1"><stop offset="0.000" stop-color="#800000"/><stop offset="0.062" stop-color="#bf0000"/><stop offset="0.125" stop-color="#f00"/><stop offset="0.188" stop-color="#ff4000"/><stop offset="0.250" stop-color="#ff8000"/><stop offset="0.312" stop-color="#ffbf00"/><stop offset="0.375" stop-color="#ff0"/><stop offset="0.438" stop-color="#bfff40"/><stop offset="0.500" stop-color="#80ff80"/><stop offset="0.562" stop-color="#40ffbf"/><stop offset="0.625" stop-color="#0ff"/><stop offset="0.688" stop-color="#00bfff"/><stop offset="0.750" stop-color="#0080ff"/><stop offset="0.812" stop-color="#0040ff"/><stop offset="0.875" stop-color="#00f"/><stop offset="0.938" stop-color="#0000bf"/><stop offset="1.000" stop-color="#000080"/></linearGradient>
<linearGradient id="wedge" x1="0" y1="0" x2="0" y2="1"><stop offset="0" stop-color="#ffb000" stop-opacity=".1"/><stop offset="0.3" stop-color="#ffa000" stop-opacity=".65"/><stop offset="0.6" stop-color="#ff7000" stop-opacity=".95"/><stop offset="1" stop-color="#ea1000"/></linearGradient>
<filter id="hb" filterUnits="userSpaceOnUse" x="40" y="20" width="600" height="300"><feGaussianBlur stdDeviation="2.5 0"/></filter>
<clipPath id="ca"><rect x="62.3" y="32.3" width="269.2" height="278.7"/></clipPath>
<clipPath id="cbp"><rect x="353.8" y="32.3" width="269.9" height="278.7"/></clipPath>
</defs>
<rect width="685" height="583" fill="#fff"/>

<!-- panel a -->
<g clip-path="url(#ca)">
<g filter="url(#hb)">
<rect x="52.0" y="32" width="14.6" height="279" fill="url(#a0)"/>
<rect x="66.0" y="32" width="4.6" height="279" fill="url(#a1)"/>
<rect x="70.0" y="32" width="4.6" height="279" fill="url(#a2)"/>
<rect x="74.0" y="32" width="4.6" height="279" fill="url(#a3)"/>
<rect x="78.0" y="32" width="4.6" height="279" fill="url(#a4)"/>
<rect x="82.0" y="32" width="4.6" height="279" fill="url(#a5)"/>
<rect x="86.0" y="32" width="4.6" height="279" fill="url(#a6)"/>
<rect x="90.0" y="32" width="4.6" height="279" fill="url(#a7)"/>
<rect x="94.0" y="32" width="4.6" height="279" fill="url(#a8)"/>
<rect x="98.0" y="32" width="4.6" height="279" fill="url(#a9)"/>
<rect x="102.0" y="32" width="4.6" height="279" fill="url(#a10)"/>
<rect x="106.0" y="32" width="4.6" height="279" fill="url(#a11)"/>
<rect x="110.0" y="32" width="4.6" height="279" fill="url(#a12)"/>
<rect x="114.0" y="32" width="4.6" height="279" fill="url(#a13)"/>
<rect x="118.0" y="32" width="4.6" height="279" fill="url(#a14)"/>
<rect x="122.0" y="32" width="4.6" height="279" fill="url(#a15)"/>
<rect x="126.0" y="32" width="4.6" height="279" fill="url(#a16)"/>
<rect x="130.0" y="32" width="4.6" height="279" fill="url(#a17)"/>
<rect x="134.0" y="32" width="4.6" height="279" fill="url(#a18)"/>
<rect x="138.0" y="32" width="4.6" height="279" fill="url(#a19)"/>
<rect x="142.0" y="32" width="4.6" height="279" fill="url(#a20)"/>
<rect x="146.0" y="32" width="4.6" height="279" fill="url(#a21)"/>
<rect x="150.0" y="32" width="4.6" height="279" fill="url(#a22)"/>
<rect x="154.0" y="32" width="4.6" height="279" fill="url(#a23)"/>
<rect x="158.0" y="32" width="4.6" height="279" fill="url(#a24)"/>
<rect x="162.0" y="32" width="4.6" height="279" fill="url(#a25)"/>
<rect x="166.0" y="32" width="4.6" height="279" fill="url(#a26)"/>
<rect x="170.0" y="32" width="4.6" height="279" fill="url(#a27)"/>
<rect x="174.0" y="32" width="4.6" height="279" fill="url(#a28)"/>
<rect x="178.0" y="32" width="4.6" height="279" fill="url(#a29)"/>
<rect x="182.0" y="32" width="4.6" height="279" fill="url(#a30)"/>
<rect x="186.0" y="32" width="4.6" height="279" fill="url(#a31)"/>
<rect x="190.0" y="32" width="4.6" height="279" fill="url(#a32)"/>
<rect x="194.0" y="32" width="4.6" height="279" fill="url(#a33)"/>
<rect x="198.0" y="32" width="4.6" height="279" fill="url(#a34)"/>
<rect x="202.0" y="32" width="4.6" height="279" fill="url(#a35)"/>
<rect x="206.0" y="32" width="4.6" height="279" fill="url(#a36)"/>
<rect x="210.0" y="32" width="4.6" height="279" fill="url(#a37)"/>
<rect x="214.0" y="32" width="4.6" height="279" fill="url(#a38)"/>
<rect x="218.0" y="32" width="4.6" height="279" fill="url(#a39)"/>
<rect x="222.0" y="32" width="4.6" height="279" fill="url(#a40)"/>
<rect x="226.0" y="32" width="4.6" height="279" fill="url(#a41)"/>
<rect x="230.0" y="32" width="4.6" height="279" fill="url(#a42)"/>
<rect x="234.0" y="32" width="4.6" height="279" fill="url(#a43)"/>
<rect x="238.0" y="32" width="4.6" height="279" fill="url(#a44)"/>
<rect x="242.0" y="32" width="4.6" height="279" fill="url(#a45)"/>
<rect x="246.0" y="32" width="4.6" height="279" fill="url(#a46)"/>
<rect x="250.0" y="32" width="4.6" height="279" fill="url(#a47)"/>
<rect x="254.0" y="32" width="4.6" height="279" fill="url(#a48)"/>
<rect x="258.0" y="32" width="4.6" height="279" fill="url(#a49)"/>
<rect x="262.0" y="32" width="4.6" height="279" fill="url(#a50)"/>
<rect x="266.0" y="32" width="4.6" height="279" fill="url(#a51)"/>
<rect x="270.0" y="32" width="4.6" height="279" fill="url(#a52)"/>
<rect x="274.0" y="32" width="4.6" height="279" fill="url(#a53)"/>
<rect x="278.0" y="32" width="4.6" height="279" fill="url(#a54)"/>
<rect x="282.0" y="32" width="4.6" height="279" fill="url(#a55)"/>
<rect x="286.0" y="32" width="4.6" height="279" fill="url(#a56)"/>
<rect x="290.0" y="32" width="4.6" height="279" fill="url(#a57)"/>
<rect x="294.0" y="32" width="4.6" height="279" fill="url(#a58)"/>
<rect x="298.0" y="32" width="4.6" height="279" fill="url(#a59)"/>
<rect x="302.0" y="32" width="4.6" height="279" fill="url(#a60)"/>
<rect x="306.0" y="32" width="4.6" height="279" fill="url(#a61)"/>
<rect x="310.0" y="32" width="4.6" height="279" fill="url(#a62)"/>
<rect x="314.0" y="32" width="4.6" height="279" fill="url(#a63)"/>
<rect x="318.0" y="32" width="4.6" height="279" fill="url(#a64)"/>
<rect x="322.0" y="32" width="4.6" height="279" fill="url(#a65)"/>
<rect x="326.0" y="32" width="4.6" height="279" fill="url(#a66)"/>
<rect x="330.0" y="32" width="14.6" height="279" fill="url(#a67)"/>
</g>
<!-- white no-data bits top -->
<path d="M62 32H81.300V36H71.500V37.400H62Z M108 32H122V33.200H108Z M135 32H146V33.400H135Z M184 32H196V33.200H184Z M235.500 32H332V36.400H311V37.500H245.500V35.500H235.500Z" fill="#fff"/>
<!-- bottom notches -->
<g id="na">
<rect x="62" y="308.700" width="270" height="3.300" fill="#fff"/>
<path d="M101.5 308.3L125 308.6L139.6 305.2V311H101.5Z" fill="#fff"/>
<path d="M169 307L178 310.5H169Z" fill="#fff"/>
<path d="M81.6 303.1V311H101.0V303.1L91.3 309.6Z" fill="#fff"/><path d="M82.5 300.5L91.3 299.5L100.1 300.5L101.0 303.1L91.3 309.6L81.6 303.1Z" fill="url(#wedge)"/>
<path d="M206.6 293.5V311H225.8V299.0L216.2 309.3Z" fill="#fff"/><path d="M208.1 290.0L211.7 286.5L216.2 289.0L220.7 286.5L224.3 290.0L225.8 299.0L216.2 309.3L206.6 293.5Z" fill="url(#wedge)"/>
<path d="M245.3 294.5V311H263.9V294.5L254.6 308.6Z" fill="#fff"/><path d="M246.8 290.5L250.1 287.0L254.6 289.5L259.1 287.0L262.4 290.5L263.9 294.5L254.6 308.6L245.3 294.5Z" fill="url(#wedge)"/>
<path d="M283.6 296.0V311H302.6V295.0L293.1 309.0Z" fill="#fff"/><path d="M285.1 291.0L288.6 287.5L293.1 290.0L297.6 287.5L301.1 291.0L302.6 295.0L293.1 309.0L283.6 296.0Z" fill="url(#wedge)"/>
</g>
</g>
<!-- white curves a -->
<g fill="none" stroke="#fff" stroke-width="3.2" stroke-linecap="round">
<path d="M159 174.2Q240 171.5 312.5 173.6"/>
<path d="M134 211C160 211 165 206 190 202C210 198.500 225 198.300 238 198.200"/>
<path d="M143.500 245.200L188 245.300C200 245 207 241.500 214.800 236.900S240 226 256.300 221.800"/>
<path d="M269.500 247.500H323"/>
</g>
<rect x="296" y="264.500" width="32.800" height="29.100" fill="#fff"/>
<text class="dv" x="312.500" y="285.300" font-size="21.800" text-anchor="middle" fill="#000">(a)</text>

<!-- panel b -->
<g clip-path="url(#cbp)">
<g filter="url(#hb)">
<rect x="343.5" y="32" width="14.6" height="279" fill="url(#b0)"/>
<rect x="357.5" y="32" width="4.6" height="279" fill="url(#b1)"/>
<rect x="361.5" y="32" width="4.6" height="279" fill="url(#b2)"/>
<rect x="365.5" y="32" width="4.6" height="279" fill="url(#b3)"/>
<rect x="369.5" y="32" width="4.6" height="279" fill="url(#b4)"/>
<rect x="373.5" y="32" width="4.6" height="279" fill="url(#b5)"/>
<rect x="377.5" y="32" width="4.6" height="279" fill="url(#b6)"/>
<rect x="381.5" y="32" width="4.6" height="279" fill="url(#b7)"/>
<rect x="385.5" y="32" width="4.6" height="279" fill="url(#b8)"/>
<rect x="389.5" y="32" width="4.6" height="279" fill="url(#b9)"/>
<rect x="393.5" y="32" width="4.6" height="279" fill="url(#b10)"/>
<rect x="397.5" y="32" width="4.6" height="279" fill="url(#b11)"/>
<rect x="401.5" y="32" width="4.6" height="279" fill="url(#b12)"/>
<rect x="405.5" y="32" width="4.6" height="279" fill="url(#b13)"/>
<rect x="409.5" y="32" width="4.6" height="279" fill="url(#b14)"/>
<rect x="413.5" y="32" width="4.6" height="279" fill="url(#b15)"/>
<rect x="417.5" y="32" width="4.6" height="279" fill="url(#b16)"/>
<rect x="421.5" y="32" width="4.6" height="279" fill="url(#b17)"/>
<rect x="425.5" y="32" width="4.6" height="279" fill="url(#b18)"/>
<rect x="429.5" y="32" width="4.6" height="279" fill="url(#b19)"/>
<rect x="433.5" y="32" width="4.6" height="279" fill="url(#b20)"/>
<rect x="437.5" y="32" width="4.6" height="279" fill="url(#b21)"/>
<rect x="441.5" y="32" width="4.6" height="279" fill="url(#b22)"/>
<rect x="445.5" y="32" width="4.6" height="279" fill="url(#b23)"/>
<rect x="449.5" y="32" width="4.6" height="279" fill="url(#b24)"/>
<rect x="453.5" y="32" width="4.6" height="279" fill="url(#b25)"/>
<rect x="457.5" y="32" width="4.6" height="279" fill="url(#b26)"/>
<rect x="461.5" y="32" width="4.6" height="279" fill="url(#b27)"/>
<rect x="465.5" y="32" width="4.6" height="279" fill="url(#b28)"/>
<rect x="469.5" y="32" width="4.6" height="279" fill="url(#b29)"/>
<rect x="473.5" y="32" width="4.6" height="279" fill="url(#b30)"/>
<rect x="477.5" y="32" width="4.6" height="279" fill="url(#b31)"/>
<rect x="481.5" y="32" width="4.6" height="279" fill="url(#b32)"/>
<rect x="485.5" y="32" width="4.6" height="279" fill="url(#b33)"/>
<rect x="489.5" y="32" width="4.6" height="279" fill="url(#b34)"/>
<rect x="493.5" y="32" width="4.6" height="279" fill="url(#b35)"/>
<rect x="497.5" y="32" width="4.6" height="279" fill="url(#b36)"/>
<rect x="501.5" y="32" width="4.6" height="279" fill="url(#b37)"/>
<rect x="505.5" y="32" width="4.6" height="279" fill="url(#b38)"/>
<rect x="509.5" y="32" width="4.6" height="279" fill="url(#b39)"/>
<rect x="513.5" y="32" width="4.6" height="279" fill="url(#b40)"/>
<rect x="517.5" y="32" width="4.6" height="279" fill="url(#b41)"/>
<rect x="521.5" y="32" width="4.6" height="279" fill="url(#b42)"/>
<rect x="525.5" y="32" width="4.6" height="279" fill="url(#b43)"/>
<rect x="529.5" y="32" width="4.6" height="279" fill="url(#b44)"/>
<rect x="533.5" y="32" width="4.6" height="279" fill="url(#b45)"/>
<rect x="537.5" y="32" width="4.6" height="279" fill="url(#b46)"/>
<rect x="541.5" y="32" width="4.6" height="279" fill="url(#b47)"/>
<rect x="545.5" y="32" width="4.6" height="279" fill="url(#b48)"/>
<rect x="549.5" y="32" width="4.6" height="279" fill="url(#b49)"/>
<rect x="553.5" y="32" width="4.6" height="279" fill="url(#b50)"/>
<rect x="557.5" y="32" width="4.6" height="279" fill="url(#b51)"/>
<rect x="561.5" y="32" width="4.6" height="279" fill="url(#b52)"/>
<rect x="565.5" y="32" width="4.6" height="279" fill="url(#b53)"/>
<rect x="569.5" y="32" width="4.6" height="279" fill="url(#b54)"/>
<rect x="573.5" y="32" width="4.6" height="279" fill="url(#b55)"/>
<rect x="577.5" y="32" width="4.6" height="279" fill="url(#b56)"/>
<rect x="581.5" y="32" width="4.6" height="279" fill="url(#b57)"/>
<rect x="585.5" y="32" width="4.6" height="279" fill="url(#b58)"/>
<rect x="589.5" y="32" width="4.6" height="279" fill="url(#b59)"/>
<rect x="593.5" y="32" width="4.6" height="279" fill="url(#b60)"/>
<rect x="597.5" y="32" width="4.6" height="279" fill="url(#b61)"/>
<rect x="601.5" y="32" width="4.6" height="279" fill="url(#b62)"/>
<rect x="605.5" y="32" width="4.6" height="279" fill="url(#b63)"/>
<rect x="609.5" y="32" width="4.6" height="279" fill="url(#b64)"/>
<rect x="613.5" y="32" width="4.6" height="279" fill="url(#b65)"/>
<rect x="617.5" y="32" width="4.6" height="279" fill="url(#b66)"/>
<rect x="621.5" y="32" width="14.6" height="279" fill="url(#b67)"/>
</g>
<path d="M353 32H412V34.500H402.300V40.700H393.400V60.400H401.300V69.400L390 70.500L372 72L353 73.400Z" fill="#fff"/>
<path d="M468 32H624V79L610 77.900L597.200 76.700L582 75.600L566.400 74.200L550 72.800L535.500 71L522 69L508.700 67L497 64.500L488.500 63.900V59.800H497.400V55.700H506.600V41.900H498.400V39.200H484V37H476V34.500H468Z" fill="#fff"/>
<rect x="614.200" y="160.800" width="9.300" height="6.700" fill="#fff"/>
<!-- bottom -->
<g id="nb">
<rect x="353" y="308.600" width="272" height="3.400" fill="#fff"/>
<path d="M354 308L362 307L374 307.300L378 309H354Z M420 309.300L431 306V309.300Z M450 305.200L460.300 310.700H450Z" fill="#fff"/>
<path d="M460.2 297.4V311H478.6V298.5L469.4 309.5Z" fill="#fff"/><path d="M461.7 288.5L464.9 285.0L469.4 287.5L473.9 285.0L477.1 288.5L478.6 298.5L469.4 309.5L460.2 297.4Z" fill="url(#wedge)"/>
<path d="M498.3 304.5V311H516.7V304.5L507.5 309.6Z" fill="#fff"/><path d="M499.8 302.5L503.0 299.0L507.5 301.5L512.0 299.0L515.2 302.5L516.7 304.5L507.5 309.6L498.3 304.5Z" fill="url(#wedge)"/>
<path d="M565.8 304.0V311H584.6V304.0L575.2 309.6Z" fill="#fff"/><path d="M567.3 302.5L570.7 299.0L575.2 301.5L579.7 299.0L583.1 302.5L584.6 304.0L575.2 309.6L565.8 304.0Z" fill="url(#wedge)"/>
<path d="M584.6 304.0V311H603.4V304.0L594.0 309.6Z" fill="#fff"/><path d="M586.1 302.5L589.5 299.0L594.0 301.5L598.5 299.0L601.9 302.5L603.4 304.0L594.0 309.6L584.6 304.0Z" fill="url(#wedge)"/>
</g>
</g>
<g fill="none" stroke="#fff" stroke-width="3.2" stroke-linecap="round">
<path d="M427 183.500C450 188 480 189.500 500 188.800C540 187.500 570 186.500 595.500 186.200"/>
<path d="M429.500 243C455 243.500 462 240 489 229.600C515 219.500 530 214.600 548 214.400H604"/>
<path d="M544 244.800H612"/>
</g>
<rect x="587" y="264.300" width="33.600" height="29.400" fill="#fff"/>
<text class="dv" x="600.600" y="285.300" font-size="21.800" text-anchor="middle" fill="#000">(b)</text>

<!-- axes frames & ticks -->
<g stroke="#3c3c3c" stroke-width="1" fill="none">
<rect x="62.500" y="32.400" width="269" height="278.700"/>
<rect x="353.700" y="32.400" width="269.800" height="278.700"/>
<rect x="630.200" y="32.400" width="13" height="278.900" fill="url(#cb)" stroke="#444" stroke-width=".8"/>
</g>
<g stroke="#1a1a1a" stroke-width=".9" stroke-opacity=".85" id="ticks">
<path d="M101.5 311v-14.5M101.5 32v14.5M139.8 311v-14.5M139.8 32v14.5M178.1 311v-14.5M178.1 32v14.5M216.4 311v-14.5M216.4 32v14.5M254.7 311v-14.5M254.7 32v14.5M293.0 311v-14.5M293.0 32v14.5"/>
<path d="M62.5 302.3h14.5M331.5 302.3h-14.5M62.5 258.9h14.5M331.5 258.9h-14.5M62.5 215.5h14.5M331.5 215.5h-14.5M62.5 172.1h14.5M331.5 172.1h-14.5M62.5 128.7h14.5M331.5 128.7h-14.5M62.5 85.3h14.5M331.5 85.3h-14.5M62.5 41.9h14.5M331.5 41.9h-14.5"/>
<path d="M392.4 311v-14.5M392.4 32v14.5M430.8 311v-14.5M430.8 32v14.5M469.2 311v-14.5M469.2 32v14.5M507.6 311v-14.5M507.6 32v14.5M546.0 311v-14.5M546.0 32v14.5M584.4 311v-14.5M584.4 32v14.5"/>
<path d="M353.8 302.3h14.5M623.5 302.3h-14.5M353.8 258.9h14.5M623.5 258.9h-14.5M353.8 215.5h14.5M623.5 215.5h-14.5M353.8 172.1h14.5M623.5 172.1h-14.5M353.8 128.7h14.5M623.5 128.7h-14.5M353.8 85.3h14.5M623.5 85.3h-14.5M353.8 41.9h14.5M623.5 41.9h-14.5"/>
</g>
<!-- colorbar ticks -->
<g stroke="#300" stroke-width="0.9" stroke-opacity=".8">
<path d="M630 52.2h13.5M630 58.5h4.5m4.5 0h4.5M630 71.7h4.5m4.5 0h4.5M630 97.5h4.5m4.5 0h4.5M630 116.9h13.5M630 123.2h4.5m4.5 0h4.5M630 136.4h4.5m4.5 0h4.5M630 162.2h4.5m4.5 0h4.5M630 181.6h13.5M630 187.9h4.5m4.5 0h4.5M630 201.1h4.5m4.5 0h4.5M630 226.9h4.5m4.5 0h4.5M630 246.3h13.5M630 252.6h4.5m4.5 0h4.5M630 265.8h4.5m4.5 0h4.5M630 291.6h4.5m4.5 0h4.5"/>
</g>

<!-- text -->
<text class="sym" transform="translate(201.4,22) scale(1.13,1)" font-size="39" text-anchor="middle">σ</text>
<text class="sym" x="488.3" y="22" font-size="42" text-anchor="middle" stroke="#000" stroke-width=".6">π</text>
<g class="ax" text-anchor="end" font-size="16.3">
<text x="47.8" y="304.2">0.1</text><text x="47.8" y="260.8">0.2</text><text x="47.8" y="217.4">0.3</text><text x="47.8" y="174.0">0.4</text><text x="47.8" y="130.6">0.5</text><text x="47.8" y="87.2">0.6</text><text x="47.8" y="43.8">0.7</text>
</g>
<g class="ax" text-anchor="middle" font-size="16.3">
<text x="100.8" y="336.5">930</text><text x="139.1" y="336.5">931</text><text x="177.4" y="336.5">932</text><text x="215.7" y="336.5">933</text><text x="254.0" y="336.5">934</text><text x="292.3" y="336.5">935</text><text x="330.6" y="336.5">936</text>
<text x="391.2" y="336.5">930</text><text x="429.6" y="336.5">931</text><text x="468.0" y="336.5">932</text><text x="506.4" y="336.5">933</text><text x="544.8" y="336.5">934</text><text x="583.2" y="336.5">935</text><text x="621.6" y="336.5">936</text>
<text x="196.300" y="361.600" font-size="16.1">Energy (eV)</text>
<text x="488" y="361.600" font-size="16.1">Energy (eV)</text>
</g>
<text class="ax" transform="translate(16.3,203.8) rotate(-90)" font-size="14.8"><tspan x="0">Q</tspan><tspan x="12.5" dy="4.5" font-size="11.3">z</tspan><tspan x="25.4" dy="-4.5">(</tspan><tspan x="32.6">Å</tspan><tspan x="44.6" dy="-6" font-size="10.8">-1</tspan><tspan x="56.3" dy="6">)</tspan></text>
<g class="ax" font-size="16.3">
<text x="653" y="55.2">10<tspan dx="1" dy="-6.600" font-size="11.8">-2</tspan></text>
<text x="653" y="119.9">10<tspan dx="1" dy="-6.600" font-size="11.8">-3</tspan></text>
<text x="653" y="184.6">10<tspan dx="1" dy="-6.600" font-size="11.8">-4</tspan></text>
<text x="653" y="249.3">10<tspan dx="1" dy="-6.600" font-size="11.8">-5</tspan></text>
<text x="653" y="314.0">10<tspan dx="1" dy="-6.600" font-size="11.8">-6</tspan></text>
</g>

<!-- panel c -->
<polygon points="192.200,518.300 533.500,518.300 490,580.200 149.600,580.200" fill="#ffdd6a"/>
<rect x="172.600" y="381.700" width="339.400" height="166.600" fill="#d9d3d0"/>
<polygon points="191.700,518.400 512,518.400 512,548.300 172.600,548.300 172.600,547" fill="#dacaa1"/>
<g stroke="#000" stroke-width="2.450" fill="none">
<path d="M333.400 548.200L206.800 436.600"/>
<path d="M470.300 427.800L344 538.800"/>
<path d="M256.2 547.5A35 35 0 0 1 287.5 510.6" stroke-width="1.800"/>
<path d="M412.8 547.5A35.500 35.500 0 0 0 378.800 510.600" stroke-width="1.800"/>
</g>
<path d="M195.400 426.300L214 435.600L207.500 437L206.500 443.700Z" fill="#000"/>
<path d="M335.300 547.600L344.800 531.400L344.400 538.200L352.400 539.500Z" fill="#000"/>
<path d="M333.800 548.200V424" stroke="#00f" stroke-width="3.400"/>
<path d="M333.800 409.300L341.600 430.500L333.800 427L326 430.500Z" fill="#00f"/>
<g stroke="#ee1620" stroke-width="1.600" fill="none">
<path d="M436.200 457.700L411.500 430"/>
<path d="M436.200 457.700L415.300 488"/>
</g>
<path d="M406.800 424.800L417.500 431L412.800 431.600L411.200 434.800Z" fill="#ee1620"/>
<path d="M411.300 493.200L413.800 483.500L416.300 486.800L420.300 486.600Z" fill="#ee1620"/>

<text class="dv" x="107.900" y="398.800" font-size="21.800" letter-spacing=".3" fill="#000">(c)</text>
<text class="dv" x="248.300" y="407.300" font-size="28.500" fill="#00f"><tspan font-weight="bold">Q</tspan>=(0,0,Q<tspan dy="4.500" font-size="19">z</tspan><tspan dy="-4.500">)</tspan></text>
<text class="dv" x="249.700" y="460.300" font-size="28.500" fill="#000"><tspan font-weight="bold">k</tspan><tspan dy="5" font-size="18.500">f</tspan></text>
<text class="dv" x="474.600" y="460" font-size="28.500" fill="#000"><tspan font-weight="bold">k</tspan><tspan dy="5.500" font-size="18.500">0</tspan></text>
<text class="dv" x="226.700" y="534.700" font-size="28" fill="#000">Θ</text>
<text class="dv" x="417.400" y="534.700" font-size="28" fill="#000">Θ</text>
<text class="dv" x="420" y="430.900" font-size="24.300" fill="#ee1620">E<tspan dy="5.300" font-size="17">π</tspan></text>
<text class="dv" x="431.700" y="484.700" font-size="24.300" fill="#ee1620">E<tspan dy="5.300" font-size="17">σ</tspan></text>
<text class="dv" transform="translate(178.500,571) scale(2.330,1)" font-size="11.500" font-style="italic" fill="#000">sample</text>
</svg>
</body></html>
